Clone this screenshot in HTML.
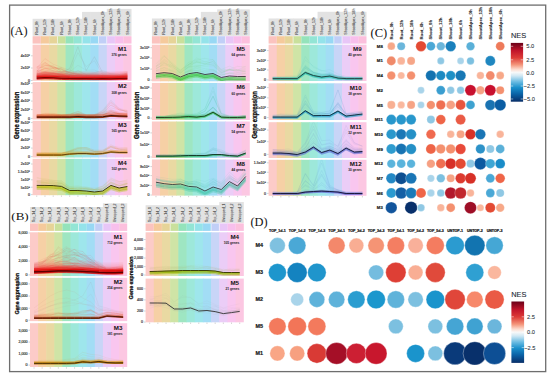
<!DOCTYPE html>
<html><head><meta charset="utf-8"><style>html,body{margin:0;padding:0;background:#fff;}svg{display:block;}</style></head>
<body><svg width="550" height="379" viewBox="0 0 550 379" font-family="Liberation Sans, sans-serif">
<rect x="0" y="0" width="550" height="379" fill="#ffffff"/>
<rect x="32.6" y="18.8" width="8.84" height="17" fill="#e2e2e2" />
<rect x="40.84" y="18.8" width="8.84" height="17" fill="#e2e2e2" />
<rect x="49.08" y="18.8" width="8.84" height="17" fill="#e2e2e2" />
<rect x="57.33" y="18.8" width="8.84" height="17" fill="#e2e2e2" />
<rect x="65.57" y="18.8" width="8.84" height="17" fill="#e2e2e2" />
<rect x="73.81" y="18.8" width="8.84" height="17" fill="#e2e2e2" />
<rect x="82.05" y="11.9" width="8.84" height="23.9" fill="#e2e2e2" />
<rect x="90.29" y="11.9" width="8.84" height="23.9" fill="#e2e2e2" />
<rect x="98.53" y="11.9" width="8.84" height="23.9" fill="#e2e2e2" />
<rect x="106.78" y="8.9" width="8.84" height="26.9" fill="#e2e2e2" />
<rect x="115.02" y="8.9" width="8.84" height="26.9" fill="#e2e2e2" />
<rect x="123.26" y="8.9" width="8.24" height="26.9" fill="#e2e2e2" />
<text transform="translate(37.92,34.8) rotate(-90)" font-size="3.7" fill="#555555" stroke="#555555" stroke-width="0.1" font-family="Liberation Sans, sans-serif">Root_0h</text>
<text transform="translate(46.16,34.8) rotate(-90)" font-size="3.7" fill="#555555" stroke="#555555" stroke-width="0.1" font-family="Liberation Sans, sans-serif">Root_12h</text>
<text transform="translate(54.4,34.8) rotate(-90)" font-size="3.7" fill="#555555" stroke="#555555" stroke-width="0.1" font-family="Liberation Sans, sans-serif">Root_18h</text>
<text transform="translate(62.65,34.8) rotate(-90)" font-size="3.7" fill="#555555" stroke="#555555" stroke-width="0.1" font-family="Liberation Sans, sans-serif">Root_6h</text>
<text transform="translate(70.89,34.8) rotate(-90)" font-size="3.7" fill="#555555" stroke="#555555" stroke-width="0.1" font-family="Liberation Sans, sans-serif">Shoot_0h</text>
<text transform="translate(79.13,34.8) rotate(-90)" font-size="3.7" fill="#555555" stroke="#555555" stroke-width="0.1" font-family="Liberation Sans, sans-serif">Shoot_12h</text>
<text transform="translate(87.37,34.8) rotate(-90)" font-size="3.7" fill="#555555" stroke="#555555" stroke-width="0.1" font-family="Liberation Sans, sans-serif">Shoot_18h</text>
<text transform="translate(95.61,34.8) rotate(-90)" font-size="3.7" fill="#555555" stroke="#555555" stroke-width="0.1" font-family="Liberation Sans, sans-serif">Shoot_6h</text>
<text transform="translate(103.85,34.8) rotate(-90)" font-size="3.7" fill="#555555" stroke="#555555" stroke-width="0.1" font-family="Liberation Sans, sans-serif">ShootApex_0h</text>
<text transform="translate(112.1,34.8) rotate(-90)" font-size="3.7" fill="#555555" stroke="#555555" stroke-width="0.1" font-family="Liberation Sans, sans-serif">ShootApex_12h</text>
<text transform="translate(120.34,34.8) rotate(-90)" font-size="3.7" fill="#555555" stroke="#555555" stroke-width="0.1" font-family="Liberation Sans, sans-serif">ShootApex_18h</text>
<text transform="translate(128.58,34.8) rotate(-90)" font-size="3.7" fill="#555555" stroke="#555555" stroke-width="0.1" font-family="Liberation Sans, sans-serif">ShootApex_6h</text>
<rect x="32.6" y="36.2" width="8.84" height="7.4" fill="#fbc3bf" />
<rect x="40.84" y="36.2" width="8.84" height="7.4" fill="#f5ca9c" />
<rect x="49.08" y="36.2" width="8.84" height="7.4" fill="#e6d498" />
<rect x="57.33" y="36.2" width="8.84" height="7.4" fill="#c9e09c" />
<rect x="65.57" y="36.2" width="8.84" height="7.4" fill="#94e3bb" />
<rect x="73.81" y="36.2" width="8.84" height="7.4" fill="#93e5d5" />
<rect x="82.05" y="36.2" width="8.84" height="7.4" fill="#94e3ea" />
<rect x="90.29" y="36.2" width="8.84" height="7.4" fill="#98d8f4" />
<rect x="98.53" y="36.2" width="8.84" height="7.4" fill="#c1cff7" />
<rect x="106.78" y="36.2" width="8.84" height="7.4" fill="#e8c6f7" />
<rect x="115.02" y="36.2" width="8.84" height="7.4" fill="#f8bfec" />
<rect x="123.26" y="36.2" width="8.24" height="7.4" fill="#fcc0dd" />
<rect x="40.64" y="36.2" width="0.4" height="7.4" fill="#ffffff" fill-opacity="0.4"/>
<rect x="48.88" y="36.2" width="0.4" height="7.4" fill="#ffffff" fill-opacity="0.4"/>
<rect x="56.98" y="36.2" width="0.7" height="7.4" fill="#ffffff" fill-opacity="0.85"/>
<rect x="65.37" y="36.2" width="0.4" height="7.4" fill="#ffffff" fill-opacity="0.4"/>
<rect x="73.61" y="36.2" width="0.4" height="7.4" fill="#ffffff" fill-opacity="0.4"/>
<rect x="81.7" y="36.2" width="0.7" height="7.4" fill="#ffffff" fill-opacity="0.85"/>
<rect x="90.09" y="36.2" width="0.4" height="7.4" fill="#ffffff" fill-opacity="0.4"/>
<rect x="98.18" y="36.2" width="0.7" height="7.4" fill="#ffffff" fill-opacity="0.85"/>
<rect x="106.43" y="36.2" width="0.7" height="7.4" fill="#ffffff" fill-opacity="0.85"/>
<rect x="114.82" y="36.2" width="0.4" height="7.4" fill="#ffffff" fill-opacity="0.4"/>
<rect x="123.06" y="36.2" width="0.4" height="7.4" fill="#ffffff" fill-opacity="0.4"/>
<rect x="151.9" y="18.5" width="8.76" height="17.3" fill="#e2e2e2" />
<rect x="160.06" y="18.5" width="8.76" height="17.3" fill="#e2e2e2" />
<rect x="168.22" y="18.5" width="8.76" height="17.3" fill="#e2e2e2" />
<rect x="176.38" y="18.5" width="8.76" height="17.3" fill="#e2e2e2" />
<rect x="184.53" y="18.5" width="8.76" height="17.3" fill="#e2e2e2" />
<rect x="192.69" y="18.5" width="8.76" height="17.3" fill="#e2e2e2" />
<rect x="200.85" y="11.9" width="8.76" height="23.9" fill="#e2e2e2" />
<rect x="209.01" y="11.9" width="8.76" height="23.9" fill="#e2e2e2" />
<rect x="217.17" y="9.4" width="8.76" height="26.4" fill="#e2e2e2" />
<rect x="225.32" y="9.4" width="8.76" height="26.4" fill="#e2e2e2" />
<rect x="233.48" y="9.4" width="8.76" height="26.4" fill="#e2e2e2" />
<rect x="241.64" y="9.4" width="8.16" height="26.4" fill="#e2e2e2" />
<text transform="translate(157.18,34.8) rotate(-90)" font-size="3.7" fill="#555555" stroke="#555555" stroke-width="0.1" font-family="Liberation Sans, sans-serif">Root_0h</text>
<text transform="translate(165.34,34.8) rotate(-90)" font-size="3.7" fill="#555555" stroke="#555555" stroke-width="0.1" font-family="Liberation Sans, sans-serif">Root_12h</text>
<text transform="translate(173.5,34.8) rotate(-90)" font-size="3.7" fill="#555555" stroke="#555555" stroke-width="0.1" font-family="Liberation Sans, sans-serif">Root_18h</text>
<text transform="translate(181.65,34.8) rotate(-90)" font-size="3.7" fill="#555555" stroke="#555555" stroke-width="0.1" font-family="Liberation Sans, sans-serif">Root_6h</text>
<text transform="translate(189.81,34.8) rotate(-90)" font-size="3.7" fill="#555555" stroke="#555555" stroke-width="0.1" font-family="Liberation Sans, sans-serif">Shoot_0h</text>
<text transform="translate(197.97,34.8) rotate(-90)" font-size="3.7" fill="#555555" stroke="#555555" stroke-width="0.1" font-family="Liberation Sans, sans-serif">Shoot_12h</text>
<text transform="translate(206.13,34.8) rotate(-90)" font-size="3.7" fill="#555555" stroke="#555555" stroke-width="0.1" font-family="Liberation Sans, sans-serif">Shoot_18h</text>
<text transform="translate(214.29,34.8) rotate(-90)" font-size="3.7" fill="#555555" stroke="#555555" stroke-width="0.1" font-family="Liberation Sans, sans-serif">Shoot_6h</text>
<text transform="translate(222.45,34.8) rotate(-90)" font-size="3.7" fill="#555555" stroke="#555555" stroke-width="0.1" font-family="Liberation Sans, sans-serif">ShootApex_0h</text>
<text transform="translate(230.6,34.8) rotate(-90)" font-size="3.7" fill="#555555" stroke="#555555" stroke-width="0.1" font-family="Liberation Sans, sans-serif">ShootApex_12h</text>
<text transform="translate(238.76,34.8) rotate(-90)" font-size="3.7" fill="#555555" stroke="#555555" stroke-width="0.1" font-family="Liberation Sans, sans-serif">ShootApex_18h</text>
<text transform="translate(246.92,34.8) rotate(-90)" font-size="3.7" fill="#555555" stroke="#555555" stroke-width="0.1" font-family="Liberation Sans, sans-serif">ShootApex_6h</text>
<rect x="151.9" y="36.2" width="8.76" height="7.4" fill="#fbc3bf" />
<rect x="160.06" y="36.2" width="8.76" height="7.4" fill="#f5ca9c" />
<rect x="168.22" y="36.2" width="8.76" height="7.4" fill="#e6d498" />
<rect x="176.38" y="36.2" width="8.76" height="7.4" fill="#c9e09c" />
<rect x="184.53" y="36.2" width="8.76" height="7.4" fill="#94e3bb" />
<rect x="192.69" y="36.2" width="8.76" height="7.4" fill="#93e5d5" />
<rect x="200.85" y="36.2" width="8.76" height="7.4" fill="#94e3ea" />
<rect x="209.01" y="36.2" width="8.76" height="7.4" fill="#98d8f4" />
<rect x="217.17" y="36.2" width="8.76" height="7.4" fill="#c1cff7" />
<rect x="225.32" y="36.2" width="8.76" height="7.4" fill="#e8c6f7" />
<rect x="233.48" y="36.2" width="8.76" height="7.4" fill="#f8bfec" />
<rect x="241.64" y="36.2" width="8.16" height="7.4" fill="#fcc0dd" />
<rect x="159.86" y="36.2" width="0.4" height="7.4" fill="#ffffff" fill-opacity="0.4"/>
<rect x="168.02" y="36.2" width="0.4" height="7.4" fill="#ffffff" fill-opacity="0.4"/>
<rect x="176.03" y="36.2" width="0.7" height="7.4" fill="#ffffff" fill-opacity="0.85"/>
<rect x="184.33" y="36.2" width="0.4" height="7.4" fill="#ffffff" fill-opacity="0.4"/>
<rect x="192.49" y="36.2" width="0.4" height="7.4" fill="#ffffff" fill-opacity="0.4"/>
<rect x="200.5" y="36.2" width="0.7" height="7.4" fill="#ffffff" fill-opacity="0.85"/>
<rect x="208.81" y="36.2" width="0.4" height="7.4" fill="#ffffff" fill-opacity="0.4"/>
<rect x="216.82" y="36.2" width="0.7" height="7.4" fill="#ffffff" fill-opacity="0.85"/>
<rect x="224.97" y="36.2" width="0.7" height="7.4" fill="#ffffff" fill-opacity="0.85"/>
<rect x="233.28" y="36.2" width="0.4" height="7.4" fill="#ffffff" fill-opacity="0.4"/>
<rect x="241.44" y="36.2" width="0.4" height="7.4" fill="#ffffff" fill-opacity="0.4"/>
<rect x="268.6" y="18.5" width="8.76" height="17.3" fill="#e2e2e2" />
<rect x="276.76" y="18.5" width="8.76" height="17.3" fill="#e2e2e2" />
<rect x="284.92" y="18.5" width="8.76" height="17.3" fill="#e2e2e2" />
<rect x="293.08" y="18.5" width="8.76" height="17.3" fill="#e2e2e2" />
<rect x="301.23" y="18.5" width="8.76" height="17.3" fill="#e2e2e2" />
<rect x="309.39" y="18.5" width="8.76" height="17.3" fill="#e2e2e2" />
<rect x="317.55" y="11.8" width="8.76" height="24" fill="#e2e2e2" />
<rect x="325.71" y="11.8" width="8.76" height="24" fill="#e2e2e2" />
<rect x="333.87" y="11.8" width="8.76" height="24" fill="#e2e2e2" />
<rect x="342.02" y="11.8" width="8.76" height="24" fill="#e2e2e2" />
<rect x="350.18" y="11.8" width="8.76" height="24" fill="#e2e2e2" />
<rect x="358.34" y="11.8" width="8.16" height="24" fill="#e2e2e2" />
<text transform="translate(273.88,34.8) rotate(-90)" font-size="3.7" fill="#555555" stroke="#555555" stroke-width="0.1" font-family="Liberation Sans, sans-serif">Root_0h</text>
<text transform="translate(282.04,34.8) rotate(-90)" font-size="3.7" fill="#555555" stroke="#555555" stroke-width="0.1" font-family="Liberation Sans, sans-serif">Root_12h</text>
<text transform="translate(290.2,34.8) rotate(-90)" font-size="3.7" fill="#555555" stroke="#555555" stroke-width="0.1" font-family="Liberation Sans, sans-serif">Root_18h</text>
<text transform="translate(298.35,34.8) rotate(-90)" font-size="3.7" fill="#555555" stroke="#555555" stroke-width="0.1" font-family="Liberation Sans, sans-serif">Root_6h</text>
<text transform="translate(306.51,34.8) rotate(-90)" font-size="3.7" fill="#555555" stroke="#555555" stroke-width="0.1" font-family="Liberation Sans, sans-serif">Shoot_0h</text>
<text transform="translate(314.67,34.8) rotate(-90)" font-size="3.7" fill="#555555" stroke="#555555" stroke-width="0.1" font-family="Liberation Sans, sans-serif">Shoot_12h</text>
<text transform="translate(322.83,34.8) rotate(-90)" font-size="3.7" fill="#555555" stroke="#555555" stroke-width="0.1" font-family="Liberation Sans, sans-serif">Shoot_18h</text>
<text transform="translate(330.99,34.8) rotate(-90)" font-size="3.7" fill="#555555" stroke="#555555" stroke-width="0.1" font-family="Liberation Sans, sans-serif">Shoot_6h</text>
<text transform="translate(339.15,34.8) rotate(-90)" font-size="3.7" fill="#555555" stroke="#555555" stroke-width="0.1" font-family="Liberation Sans, sans-serif">ShootApex_0h</text>
<text transform="translate(347.3,34.8) rotate(-90)" font-size="3.7" fill="#555555" stroke="#555555" stroke-width="0.1" font-family="Liberation Sans, sans-serif">ShootApex_12h</text>
<text transform="translate(355.46,34.8) rotate(-90)" font-size="3.7" fill="#555555" stroke="#555555" stroke-width="0.1" font-family="Liberation Sans, sans-serif">ShootApex_18h</text>
<text transform="translate(363.62,34.8) rotate(-90)" font-size="3.7" fill="#555555" stroke="#555555" stroke-width="0.1" font-family="Liberation Sans, sans-serif">ShootApex_6h</text>
<rect x="268.6" y="36.2" width="8.76" height="7.4" fill="#fbc3bf" />
<rect x="276.76" y="36.2" width="8.76" height="7.4" fill="#f5ca9c" />
<rect x="284.92" y="36.2" width="8.76" height="7.4" fill="#e6d498" />
<rect x="293.08" y="36.2" width="8.76" height="7.4" fill="#c9e09c" />
<rect x="301.23" y="36.2" width="8.76" height="7.4" fill="#94e3bb" />
<rect x="309.39" y="36.2" width="8.76" height="7.4" fill="#93e5d5" />
<rect x="317.55" y="36.2" width="8.76" height="7.4" fill="#94e3ea" />
<rect x="325.71" y="36.2" width="8.76" height="7.4" fill="#98d8f4" />
<rect x="333.87" y="36.2" width="8.76" height="7.4" fill="#c1cff7" />
<rect x="342.02" y="36.2" width="8.76" height="7.4" fill="#e8c6f7" />
<rect x="350.18" y="36.2" width="8.76" height="7.4" fill="#f8bfec" />
<rect x="358.34" y="36.2" width="8.16" height="7.4" fill="#fcc0dd" />
<rect x="276.56" y="36.2" width="0.4" height="7.4" fill="#ffffff" fill-opacity="0.4"/>
<rect x="284.72" y="36.2" width="0.4" height="7.4" fill="#ffffff" fill-opacity="0.4"/>
<rect x="292.73" y="36.2" width="0.7" height="7.4" fill="#ffffff" fill-opacity="0.85"/>
<rect x="301.03" y="36.2" width="0.4" height="7.4" fill="#ffffff" fill-opacity="0.4"/>
<rect x="309.19" y="36.2" width="0.4" height="7.4" fill="#ffffff" fill-opacity="0.4"/>
<rect x="317.2" y="36.2" width="0.7" height="7.4" fill="#ffffff" fill-opacity="0.85"/>
<rect x="325.51" y="36.2" width="0.4" height="7.4" fill="#ffffff" fill-opacity="0.4"/>
<rect x="333.52" y="36.2" width="0.7" height="7.4" fill="#ffffff" fill-opacity="0.85"/>
<rect x="341.67" y="36.2" width="0.7" height="7.4" fill="#ffffff" fill-opacity="0.85"/>
<rect x="349.98" y="36.2" width="0.4" height="7.4" fill="#ffffff" fill-opacity="0.4"/>
<rect x="358.14" y="36.2" width="0.4" height="7.4" fill="#ffffff" fill-opacity="0.4"/>
<rect x="32.6" y="44.7" width="8.84" height="36.1" fill="#fccbc8" />
<rect x="40.84" y="44.7" width="8.84" height="36.1" fill="#f6d0a5" />
<rect x="49.08" y="44.7" width="8.84" height="36.1" fill="#e9d9a2" />
<rect x="57.33" y="44.7" width="8.84" height="36.1" fill="#cfe4a6" />
<rect x="65.57" y="44.7" width="8.84" height="36.1" fill="#9ee6c2" />
<rect x="73.81" y="44.7" width="8.84" height="36.1" fill="#9de8da" />
<rect x="82.05" y="44.7" width="8.84" height="36.1" fill="#9ee6ec" />
<rect x="90.29" y="44.7" width="8.84" height="36.1" fill="#a2ddf5" />
<rect x="98.53" y="44.7" width="8.84" height="36.1" fill="#c8d5f7" />
<rect x="106.78" y="44.7" width="8.84" height="36.1" fill="#ebcdf7" />
<rect x="115.02" y="44.7" width="8.84" height="36.1" fill="#f9c6ef" />
<rect x="123.26" y="44.7" width="8.24" height="36.1" fill="#fcc7e2" />
<g clip-path="url(#cp154)">
<clipPath id="cp154"><rect x="32.6" y="44.7" width="98.9" height="35.8"/></clipPath>
<polyline points="36.72,74.5 44.96,72.3 53.2,75.04 61.45,74.76 69.69,75.17 77.93,75.79 86.17,76.37 94.41,76.63 102.65,76.64 110.9,76.5 119.14,76.38 127.38,76.39" fill="none" stroke="#e03020" stroke-width="0.2975" stroke-opacity="0.27" stroke-linejoin="round" />
<polyline points="36.72,75.17 44.96,73.32 53.2,73.69 61.45,75.19 69.69,75.74 77.93,77.59 86.17,77.7 94.41,77.13 102.65,77.51 110.9,77.47 119.14,76.91 127.38,75.68" fill="none" stroke="#e03020" stroke-width="0.2975" stroke-opacity="0.27" stroke-linejoin="round" />
<polyline points="36.72,66.94 44.96,62.57 53.2,67.77 61.45,67.59 69.69,72.51 77.93,74.09 86.17,75.17 94.41,74.82 102.65,75.69 110.9,75.35 119.14,76.08 127.38,72.71" fill="none" stroke="#e03020" stroke-width="0.2975" stroke-opacity="0.27" stroke-linejoin="round" />
<polyline points="36.72,76.19 44.96,74.36 53.2,73.35 61.45,74.68 69.69,77.5 77.93,77.8 86.17,77.29 94.41,77.77 102.65,76.5 110.9,76.36 119.14,77.19 127.38,76.47" fill="none" stroke="#e03020" stroke-width="0.2975" stroke-opacity="0.27" stroke-linejoin="round" />
<polyline points="36.72,69.36 44.96,64.85 53.2,67.66 61.45,70.33 69.69,72.83 77.93,74.39 86.17,75.81 94.41,75.99 102.65,75.17 110.9,75.83 119.14,75.12 127.38,73.93" fill="none" stroke="#e03020" stroke-width="0.2975" stroke-opacity="0.27" stroke-linejoin="round" />
<polyline points="36.72,71.31 44.96,62.39 53.2,67.21 61.45,69.25 69.69,73.31 77.93,73.97 86.17,75.08 94.41,75.18 102.65,74.6 110.9,76.03 119.14,75.21 127.38,74.22" fill="none" stroke="#e03020" stroke-width="0.2975" stroke-opacity="0.27" stroke-linejoin="round" />
<polyline points="36.72,70.93 44.96,65.47 53.2,66.15 61.45,71.32 69.69,71.85 77.93,74.82 86.17,75.22 94.41,74.67 102.65,75.58 110.9,75.05 119.14,74.45 127.38,74.78" fill="none" stroke="#e03020" stroke-width="0.2975" stroke-opacity="0.27" stroke-linejoin="round" />
<polyline points="36.72,73.86 44.96,72.61 53.2,73.1 61.45,74.37 69.69,75.25 77.93,75.03 86.17,75.61 94.41,76.9 102.65,75.92 110.9,76.69 119.14,77.01 127.38,76.9" fill="none" stroke="#e03020" stroke-width="0.2975" stroke-opacity="0.27" stroke-linejoin="round" />
<polyline points="36.72,70.61 44.96,68.63 53.2,66.9 61.45,69.27 69.69,74.66 77.93,75.17 86.17,75.2 94.41,75.55 102.65,75.14 110.9,76.5 119.14,75.38 127.38,74.36" fill="none" stroke="#e03020" stroke-width="0.2975" stroke-opacity="0.27" stroke-linejoin="round" />
<polyline points="36.72,73.92 44.96,73.13 53.2,72.46 61.45,75.6 69.69,75.32 77.93,77.25 86.17,76.78 94.41,76.93 102.65,77.82 110.9,77.91 119.14,77.8 127.38,75.22" fill="none" stroke="#e03020" stroke-width="0.2975" stroke-opacity="0.27" stroke-linejoin="round" />
<polyline points="36.72,75.59 44.96,74.58 53.2,74.18 61.45,76.28 69.69,77.32 77.93,76.38 86.17,77.84 94.41,77.42 102.65,76.5 110.9,76.62 119.14,77.1 127.38,76.49" fill="none" stroke="#e03020" stroke-width="0.2975" stroke-opacity="0.27" stroke-linejoin="round" />
<polyline points="36.72,68.89 44.96,65.85 53.2,65.9 61.45,71.44 69.69,72.31 77.93,73.68 86.17,73.59 94.41,75.23 102.65,75.1 110.9,74.45 119.14,74.54 127.38,73.24" fill="none" stroke="#e03020" stroke-width="0.2975" stroke-opacity="0.27" stroke-linejoin="round" />
<polyline points="36.72,76.06 44.96,73.86 53.2,75.76 61.45,75.05 69.69,77.56 77.93,77.43 86.17,76.48 94.41,76.02 102.65,76.45 110.9,76.75 119.14,76.54 127.38,76.06" fill="none" stroke="#e03020" stroke-width="0.2975" stroke-opacity="0.27" stroke-linejoin="round" />
<polyline points="36.72,68.09 44.96,58.59 53.2,64.19 61.45,67.36 69.69,70.15 77.93,73.08 86.17,73.86 94.41,74.35 102.65,73.63 110.9,74.61 119.14,73.31 127.38,71.69" fill="none" stroke="#e03020" stroke-width="0.2975" stroke-opacity="0.27" stroke-linejoin="round" />
<polyline points="36.72,70.73 44.96,71.34 53.2,68.59 61.45,72.52 69.69,74.89 77.93,76.26 86.17,76.07 94.41,75.73 102.65,76.22 110.9,76.26 119.14,75.62 127.38,75.82" fill="none" stroke="#e03020" stroke-width="0.2975" stroke-opacity="0.27" stroke-linejoin="round" />
<polyline points="36.72,75.67 44.96,74.98 53.2,74.39 61.45,75 69.69,76.41 77.93,76.26 86.17,76.83 94.41,76.7 102.65,77.27 110.9,76.28 119.14,77.6 127.38,76.17" fill="none" stroke="#e03020" stroke-width="0.2975" stroke-opacity="0.27" stroke-linejoin="round" />
<polyline points="36.72,66.95 44.96,67.68 53.2,68.76 61.45,68.69 69.69,72.78 77.93,74.12 86.17,74.52 94.41,76.34 102.65,75.48 110.9,75.51 119.14,76.12 127.38,74.32" fill="none" stroke="#e03020" stroke-width="0.2975" stroke-opacity="0.27" stroke-linejoin="round" />
<polyline points="36.72,72.41 44.96,67.84 53.2,70.8 61.45,72.62 69.69,74.34 77.93,75.76 86.17,75.62 94.41,75.1 102.65,75.92 110.9,75.51 119.14,75.69 127.38,74.15" fill="none" stroke="#e03020" stroke-width="0.2975" stroke-opacity="0.27" stroke-linejoin="round" />
<polyline points="36.72,72.34 44.96,68.53 53.2,68.62 61.45,72.39 69.69,74.64 77.93,74.35 86.17,75.06 94.41,76.34 102.65,75.58 110.9,75.72 119.14,76.26 127.38,75.98" fill="none" stroke="#e03020" stroke-width="0.2975" stroke-opacity="0.27" stroke-linejoin="round" />
<polyline points="36.72,67.67 44.96,63.76 53.2,67.66 61.45,69.09 69.69,73.29 77.93,73.9 86.17,75.09 94.41,74.16 102.65,74.72 110.9,76.25 119.14,76.38 127.38,72.74" fill="none" stroke="#e03020" stroke-width="0.2975" stroke-opacity="0.27" stroke-linejoin="round" />
<polyline points="36.72,75.2 44.96,72.26 53.2,73.27 61.45,75.62 69.69,76.32 77.93,77.17 86.17,76.31 94.41,76.45 102.65,75.91 110.9,76.97 119.14,76.54 127.38,75.6" fill="none" stroke="#e03020" stroke-width="0.2975" stroke-opacity="0.27" stroke-linejoin="round" />
<polyline points="36.72,73.26 44.96,71.34 53.2,73.13 61.45,74 69.69,75.72 77.93,76.37 86.17,76.71 94.41,76.58 102.65,75.74 110.9,77.34 119.14,76.21 127.38,76.41" fill="none" stroke="#e03020" stroke-width="0.2975" stroke-opacity="0.27" stroke-linejoin="round" />
<polyline points="36.72,74.8 44.96,72.35 53.2,72.37 61.45,74.45 69.69,75.05 77.93,75.86 86.17,76.11 94.41,75.83 102.65,76.35 110.9,77.73 119.14,77.75 127.38,76.9" fill="none" stroke="#e03020" stroke-width="0.2975" stroke-opacity="0.27" stroke-linejoin="round" />
<polyline points="36.72,71.13 44.96,69.05 53.2,70.73 61.45,71.88 69.69,74.15 77.93,75.36 86.17,75.77 94.41,76.28 102.65,77.04 110.9,76.7 119.14,76.63 127.38,75.92" fill="none" stroke="#e03020" stroke-width="0.2975" stroke-opacity="0.27" stroke-linejoin="round" />
<polyline points="36.72,74.4 44.96,72.37 53.2,72.28 61.45,74.29 69.69,74.79 77.93,76.38 86.17,77.11 94.41,76.41 102.65,76.68 110.9,76.45 119.14,77.14 127.38,75.33" fill="none" stroke="#e03020" stroke-width="0.2975" stroke-opacity="0.27" stroke-linejoin="round" />
<polyline points="36.72,73.65 44.96,71.81 53.2,73.88 61.45,73.73 69.69,76.73 77.93,75.26 86.17,77.47 94.41,77.69 102.65,77.81 110.9,76.72 119.14,77.07 127.38,75.66" fill="none" stroke="#e03020" stroke-width="0.2975" stroke-opacity="0.27" stroke-linejoin="round" />
<polyline points="36.72,75.41 44.96,75.71 53.2,73.97 61.45,75.17 69.69,71.98 77.93,65.31 86.17,70.22 94.41,69.89 102.65,73.95 110.9,74.97 119.14,76.17 127.38,75.64" fill="none" stroke="#909090" stroke-width="0.255" stroke-opacity="0.36" stroke-linejoin="round" />
<polyline points="36.72,77.19 44.96,75.79 53.2,75.81 61.45,76.24 69.69,75.27 77.93,70.7 86.17,74.56 94.41,73.42 102.65,75.78 110.9,76.53 119.14,76.47 127.38,76.83" fill="none" stroke="#909090" stroke-width="0.255" stroke-opacity="0.36" stroke-linejoin="round" />
<polyline points="36.72,76.81 44.96,76.73 53.2,77.32 61.45,77.3 69.69,77.58 77.93,75.38 86.17,77.43 94.41,76.36 102.65,77.55 110.9,77.54 119.14,77.54 127.38,77.71" fill="none" stroke="#909090" stroke-width="0.255" stroke-opacity="0.36" stroke-linejoin="round" />
<polyline points="36.72,75 44.96,73.6 53.2,72.8 61.45,72.2 69.69,68.5 77.93,46.6 86.17,70.6 94.41,56.7 102.65,72.6 110.9,73.7 119.14,74.5 127.38,74.2" fill="none" stroke="#8a8a8a" stroke-width="0.35" stroke-opacity="0.45" stroke-linejoin="round" />
<polyline points="36.72,76 44.96,74.6 53.2,73.8 61.45,73.2 69.69,71.5 77.93,52.6 86.17,66.6 94.41,60.7 102.65,74.6 110.9,74.7 119.14,75.5 127.38,75.2" fill="none" stroke="#8a8a8a" stroke-width="0.3" stroke-opacity="0.35" stroke-linejoin="round" />
<polyline points="36.72,74 44.96,71.6 53.2,70.8 61.45,73.2 69.69,74.5 77.93,70.6 86.17,74.6 94.41,72.7 102.65,70.6 110.9,73.7 119.14,74.5 127.38,72.2" fill="none" stroke="#a08080" stroke-width="0.3" stroke-opacity="0.35" stroke-linejoin="round" />
<polyline points="36.72,77.25 44.96,75.67 53.2,75.93 61.45,77.1 69.69,76.93 77.93,77.24 86.17,77.01 94.41,77.56 102.65,78.19 110.9,77.52 119.14,77.9 127.38,77.12" fill="none" stroke="#f04040" stroke-width="0.34" stroke-opacity="0.3" stroke-linejoin="round" />
<polyline points="36.72,75.57 44.96,74.51 53.2,73.62 61.45,74.91 69.69,76.28 77.93,75.43 86.17,76.85 94.41,77.41 102.65,76.2 110.9,76.05 119.14,76.1 127.38,75.22" fill="none" stroke="#f04040" stroke-width="0.34" stroke-opacity="0.3" stroke-linejoin="round" />
<polyline points="36.72,75.12 44.96,74.97 53.2,75.42 61.45,75.26 69.69,76.25 77.93,77.66 86.17,77.46 94.41,77.11 102.65,77 110.9,77.49 119.14,76.81 127.38,76.72" fill="none" stroke="#f04040" stroke-width="0.34" stroke-opacity="0.3" stroke-linejoin="round" />
<polyline points="36.72,76.9 44.96,76.84 53.2,76 61.45,76.08 69.69,77.47 77.93,77.8 86.17,77.55 94.41,77.89 102.65,77.86 110.9,77.11 119.14,77.75 127.38,76.64" fill="none" stroke="#f04040" stroke-width="0.34" stroke-opacity="0.3" stroke-linejoin="round" />
<polyline points="36.72,76.84 44.96,76.78 53.2,77.06 61.45,77 69.69,76.91 77.93,78.13 86.17,78.39 94.41,77.98 102.65,77.61 110.9,78.05 119.14,77.1 127.38,77.49" fill="none" stroke="#f04040" stroke-width="0.34" stroke-opacity="0.3" stroke-linejoin="round" />
<polyline points="36.72,76.61 44.96,75.6 53.2,76.76 61.45,76.68 69.69,77.34 77.93,77.37 86.17,78.14 94.41,77.56 102.65,76.96 110.9,77.47 119.14,77 127.38,77.21" fill="none" stroke="#f04040" stroke-width="0.34" stroke-opacity="0.3" stroke-linejoin="round" />
<polyline points="36.72,76.4 44.96,73.96 53.2,75.16 61.45,76.05 69.69,76.46 77.93,76.92 86.17,77.1 94.41,76.67 102.65,76.29 110.9,77.82 119.14,76.86 127.38,76.6" fill="none" stroke="#f04040" stroke-width="0.34" stroke-opacity="0.3" stroke-linejoin="round" />
<polyline points="36.72,75.06 44.96,73.9 53.2,73.53 61.45,74.39 69.69,75.63 77.93,76.55 86.17,76.78 94.41,76.24 102.65,76.71 110.9,77.18 119.14,77.17 127.38,75.93" fill="none" stroke="#f04040" stroke-width="0.34" stroke-opacity="0.3" stroke-linejoin="round" />
<polyline points="36.72,77.24 44.96,75.53 53.2,75.76 61.45,77.32 69.69,76.55 77.93,77.75 86.17,77.82 94.41,78.24 102.65,76.84 110.9,77.03 119.14,76.69 127.38,76.62" fill="none" stroke="#f04040" stroke-width="0.34" stroke-opacity="0.3" stroke-linejoin="round" />
<polyline points="36.72,76.4 44.96,76.7 53.2,75.64 61.45,76.3 69.69,77.48 77.93,77.66 86.17,77.82 94.41,78.24 102.65,77.83 110.9,78.23 119.14,76.84 127.38,76.18" fill="none" stroke="#f04040" stroke-width="0.34" stroke-opacity="0.3" stroke-linejoin="round" />
<polyline points="36.72,75.84 44.96,75.57 53.2,76.87 61.45,76.35 69.69,76.97 77.93,77.21 86.17,77.41 94.41,77.94 102.65,76.79 110.9,77.97 119.14,76.76 127.38,77.3" fill="none" stroke="#f04040" stroke-width="0.34" stroke-opacity="0.3" stroke-linejoin="round" />
<polyline points="36.72,75.99 44.96,75.46 53.2,77.07 61.45,76.19 69.69,76.82 77.93,76.92 86.17,77.51 94.41,78.14 102.65,77.75 110.9,77.79 119.14,77.64 127.38,76.18" fill="none" stroke="#f04040" stroke-width="0.34" stroke-opacity="0.3" stroke-linejoin="round" />
<polyline points="36.72,72.78 44.96,72.36 53.2,73.87 61.45,73.73 69.69,75.2 77.93,74.89 86.17,76.23 94.41,75.67 102.65,75.72 110.9,76.13 119.14,76.53 127.38,74.08" fill="none" stroke="#f04040" stroke-width="0.34" stroke-opacity="0.3" stroke-linejoin="round" />
<polyline points="36.72,76.86 44.96,76.31 53.2,76.46 61.45,76.98 69.69,77.01 77.93,77.81 86.17,77.76 94.41,77.5 102.65,77.44 110.9,78.17 119.14,77.35 127.38,77.78" fill="none" stroke="#f04040" stroke-width="0.34" stroke-opacity="0.3" stroke-linejoin="round" />
<polyline points="36.72,77.09 44.96,74.98 53.2,75.46 61.45,75.82 69.69,76.96 77.93,77.63 86.17,77.46 94.41,76.88 102.65,77.88 110.9,77.24 119.14,78.07 127.38,77.51" fill="none" stroke="#f04040" stroke-width="0.34" stroke-opacity="0.3" stroke-linejoin="round" />
<polyline points="36.72,75.16 44.96,73.44 53.2,73.39 61.45,74.45 69.69,75.3 77.93,76.12 86.17,76.07 94.41,76.82 102.65,76.79 110.9,75.98 119.14,76.34 127.38,75.26" fill="none" stroke="#f04040" stroke-width="0.34" stroke-opacity="0.3" stroke-linejoin="round" />
<polyline points="36.72,74.75 44.96,73.52 53.2,73.4 61.45,74.19 69.69,76.29 77.93,75.01 86.17,76.58 94.41,75.78 102.65,76.72 110.9,75.94 119.14,76.42 127.38,75.19" fill="none" stroke="#f04040" stroke-width="0.34" stroke-opacity="0.3" stroke-linejoin="round" />
<polyline points="36.72,73.62 44.96,73.69 53.2,74.61 61.45,75.56 69.69,75.89 77.93,74.95 86.17,76.18 94.41,77.16 102.65,77.45 110.9,76.83 119.14,75.74 127.38,76.08" fill="none" stroke="#f04040" stroke-width="0.34" stroke-opacity="0.3" stroke-linejoin="round" />
<polyline points="36.72,76.64 44.96,75.27 53.2,76.29 61.45,76.53 69.69,77.23 77.93,77.32 86.17,77.06 94.41,77.08 102.65,77.24 110.9,77.15 119.14,77.85 127.38,75.92" fill="none" stroke="#f04040" stroke-width="0.34" stroke-opacity="0.3" stroke-linejoin="round" />
<polyline points="36.72,76.06 44.96,74.36 53.2,74.97 61.45,75.85 69.69,76.39 77.93,76.59 86.17,76.82 94.41,77.77 102.65,76.57 110.9,77.16 119.14,76.96 127.38,76.22" fill="none" stroke="#f04040" stroke-width="0.34" stroke-opacity="0.3" stroke-linejoin="round" />
<polyline points="36.72,72 44.96,71.6 53.2,71.8 61.45,72.2 69.69,72.5 77.93,72.6 86.17,72.6 94.41,72.7 102.65,72.6 110.9,72.7 119.14,72.5 127.38,72.2" fill="none" stroke="#f07070" stroke-width="2" stroke-opacity="0.25" stroke-linejoin="round" />
<polyline points="36.72,73.8 44.96,73.4 53.2,73.6 61.45,74 69.69,74.3 77.93,74.4 86.17,74.4 94.41,74.5 102.65,74.4 110.9,74.5 119.14,74.3 127.38,74" fill="none" stroke="#f05050" stroke-width="1.8" stroke-opacity="0.4" stroke-linejoin="round" />
<polyline points="36.72,75.4 44.96,75 53.2,75.2 61.45,75.6 69.69,75.9 77.93,76 86.17,76 94.41,76.1 102.65,76 110.9,76.1 119.14,75.9 127.38,75.6" fill="none" stroke="#e83030" stroke-width="1.5" stroke-opacity="0.7" stroke-linejoin="round" />
<polyline points="36.72,76.8 44.96,76.4 53.2,76.6 61.45,77 69.69,77.3 77.93,77.4 86.17,77.4 94.41,77.5 102.65,77.4 110.9,77.5 119.14,77.3 127.38,77" fill="none" stroke="#e01010" stroke-width="1.5" stroke-opacity="0.9" stroke-linejoin="round" />
<polyline points="36.72,78.2 44.96,77.8 53.2,78 61.45,78.4 69.69,78.7 77.93,78.8 86.17,78.8 94.41,78.9 102.65,78.8 110.9,78.9 119.14,78.7 127.38,78.4" fill="none" stroke="#c00000" stroke-width="1.5" stroke-opacity="0.95" stroke-linejoin="round" />
<polyline points="36.72,79.2 44.96,78.8 53.2,79 61.45,79.4 69.69,79.7 77.93,79.8 86.17,79.8 94.41,79.9 102.65,79.8 110.9,79.9 119.14,79.7 127.38,79.4" fill="none" stroke="#d01010" stroke-width="1.0" stroke-opacity="0.85" stroke-linejoin="round" />
<polyline points="36.72,78 44.96,77.6 53.2,77.8 61.45,78.2 69.69,78.5 77.93,78.6 86.17,78.6 94.41,78.7 102.65,78.6 110.9,78.7 119.14,78.5 127.38,78.2" fill="none" stroke="#7a0000" stroke-width="1.1" stroke-opacity="1.0" stroke-linejoin="round" />
</g>
<text x="126.7" y="51" font-size="6.2" font-weight="bold" text-anchor="end" fill="#111" font-family="Liberation Sans, sans-serif">M1</text>
<text x="126.9" y="56.3" font-size="3.2" font-weight="bold" text-anchor="end" fill="#222" font-family="Liberation Sans, sans-serif">376 genes</text>
<text x="30.1" y="57.1" font-size="3.6" text-anchor="end" fill="#444" stroke="#444" stroke-width="0.2" font-family="Liberation Sans, sans-serif">4x10⁵</text>
<line x1="31.1" y1="55.8" x2="32.6" y2="55.8" stroke="#888" stroke-width="0.4"/>
<text x="30.1" y="69.3" font-size="3.6" text-anchor="end" fill="#444" stroke="#444" stroke-width="0.2" font-family="Liberation Sans, sans-serif">2x10⁵</text>
<line x1="31.1" y1="68" x2="32.6" y2="68" stroke="#888" stroke-width="0.4"/>
<text x="30.1" y="81.8" font-size="3.6" text-anchor="end" fill="#444" stroke="#444" stroke-width="0.2" font-family="Liberation Sans, sans-serif">0</text>
<line x1="31.1" y1="80.5" x2="32.6" y2="80.5" stroke="#888" stroke-width="0.4"/>
<rect x="32.6" y="82.1" width="8.84" height="37.4" fill="#fccbc8" />
<rect x="40.84" y="82.1" width="8.84" height="37.4" fill="#f6d0a5" />
<rect x="49.08" y="82.1" width="8.84" height="37.4" fill="#e9d9a2" />
<rect x="57.33" y="82.1" width="8.84" height="37.4" fill="#cfe4a6" />
<rect x="65.57" y="82.1" width="8.84" height="37.4" fill="#9ee6c2" />
<rect x="73.81" y="82.1" width="8.84" height="37.4" fill="#9de8da" />
<rect x="82.05" y="82.1" width="8.84" height="37.4" fill="#9ee6ec" />
<rect x="90.29" y="82.1" width="8.84" height="37.4" fill="#a2ddf5" />
<rect x="98.53" y="82.1" width="8.84" height="37.4" fill="#c8d5f7" />
<rect x="106.78" y="82.1" width="8.84" height="37.4" fill="#ebcdf7" />
<rect x="115.02" y="82.1" width="8.84" height="37.4" fill="#f9c6ef" />
<rect x="123.26" y="82.1" width="8.24" height="37.4" fill="#fcc7e2" />
<g clip-path="url(#cp236)">
<clipPath id="cp236"><rect x="32.6" y="82.1" width="98.9" height="37.1"/></clipPath>
<polyline points="36.72,115.65 44.96,113.78 53.2,113.74 61.45,114.51 69.69,113.99 77.93,112.2 86.17,114.9 94.41,114.9 102.65,112.45 110.9,105.23 119.14,109.59 127.38,112.03" fill="none" stroke="#e04010" stroke-width="0.2975" stroke-opacity="0.24" stroke-linejoin="round" />
<polyline points="36.72,116.2 44.96,116.02 53.2,115.44 61.45,116.53 69.69,116.22 77.93,115.13 86.17,115.8 94.41,115.11 102.65,114.98 110.9,112.32 119.14,112.82 127.38,113.7" fill="none" stroke="#e04010" stroke-width="0.2975" stroke-opacity="0.24" stroke-linejoin="round" />
<polyline points="36.72,115.91 44.96,115.4 53.2,115.12 61.45,116.05 69.69,114.92 77.93,113.24 86.17,115.37 94.41,115.85 102.65,113.58 110.9,109.51 119.14,112.59 127.38,113.62" fill="none" stroke="#e04010" stroke-width="0.2975" stroke-opacity="0.24" stroke-linejoin="round" />
<polyline points="36.72,115.23 44.96,115.13 53.2,114.99 61.45,115.69 69.69,115.84 77.93,115.26 86.17,116.09 94.41,115.62 102.65,113.83 110.9,110.4 119.14,113.43 127.38,113.05" fill="none" stroke="#e04010" stroke-width="0.2975" stroke-opacity="0.24" stroke-linejoin="round" />
<polyline points="36.72,115.24 44.96,115.69 53.2,116.19 61.45,115.64 69.69,116.39 77.93,114.95 86.17,116.38 94.41,116.61 102.65,115.22 110.9,111.55 119.14,114.14 127.38,115.15" fill="none" stroke="#e04010" stroke-width="0.2975" stroke-opacity="0.24" stroke-linejoin="round" />
<polyline points="36.72,116.27 44.96,115.72 53.2,114.94 61.45,115.45 69.69,115.38 77.93,114.54 86.17,116.26 94.41,115.37 102.65,115.45 110.9,112.32 119.14,113.55 127.38,114.07" fill="none" stroke="#e04010" stroke-width="0.2975" stroke-opacity="0.24" stroke-linejoin="round" />
<polyline points="36.72,116.62 44.96,116.09 53.2,115.91 61.45,115.59 69.69,115.41 77.93,114.83 86.17,116.5 94.41,115.74 102.65,114.51 110.9,111.18 119.14,114.08 127.38,114.38" fill="none" stroke="#e04010" stroke-width="0.2975" stroke-opacity="0.24" stroke-linejoin="round" />
<polyline points="36.72,116.14 44.96,115.46 53.2,114.89 61.45,116.46 69.69,116.45 77.93,113.79 86.17,116.27 94.41,115.95 102.65,115 110.9,111.68 119.14,113.54 127.38,114.22" fill="none" stroke="#e04010" stroke-width="0.2975" stroke-opacity="0.24" stroke-linejoin="round" />
<polyline points="36.72,115.38 44.96,113.25 53.2,113.26 61.45,115.01 69.69,114.33 77.93,111.21 86.17,114.6 94.41,114.25 102.65,111.11 110.9,102.42 119.14,108.58 127.38,110.42" fill="none" stroke="#e04010" stroke-width="0.2975" stroke-opacity="0.24" stroke-linejoin="round" />
<polyline points="36.72,116.21 44.96,115.45 53.2,114.88 61.45,116.29 69.69,116.54 77.93,114.83 86.17,116.21 94.41,116.51 102.65,115.19 110.9,111.58 119.14,113.8 127.38,115.06" fill="none" stroke="#e04010" stroke-width="0.2975" stroke-opacity="0.24" stroke-linejoin="round" />
<polyline points="36.72,115.09 44.96,114.57 53.2,115.09 61.45,115.06 69.69,114.61 77.93,113 86.17,115.23 94.41,115.14 102.65,113.62 110.9,104.79 119.14,109.88 127.38,110.77" fill="none" stroke="#e04010" stroke-width="0.2975" stroke-opacity="0.24" stroke-linejoin="round" />
<polyline points="36.72,115.35 44.96,113.66 53.2,114.68 61.45,115.14 69.69,114.27 77.93,113.55 86.17,114.75 94.41,115.4 102.65,112.57 110.9,107.85 119.14,109.82 127.38,111.52" fill="none" stroke="#e04010" stroke-width="0.2975" stroke-opacity="0.24" stroke-linejoin="round" />
<polyline points="36.72,115.32 44.96,116.09 53.2,115.86 61.45,115.98 69.69,116.28 77.93,114.65 86.17,115.82 94.41,115.35 102.65,114.35 110.9,111.71 119.14,114.16 127.38,113.76" fill="none" stroke="#e04010" stroke-width="0.2975" stroke-opacity="0.24" stroke-linejoin="round" />
<polyline points="36.72,114.23 44.96,114.39 53.2,113.75 61.45,115.14 69.69,114.74 77.93,111.28 86.17,115.1 94.41,114.48 102.65,112.1 110.9,102.6 119.14,109.87 127.38,111.28" fill="none" stroke="#e04010" stroke-width="0.2975" stroke-opacity="0.24" stroke-linejoin="round" />
<polyline points="36.72,116.07 44.96,115.9 53.2,115.6 61.45,116.09 69.69,115.32 77.93,114.2 86.17,116.31 94.41,115.29 102.65,114.95 110.9,110.42 119.14,113.52 127.38,114.83" fill="none" stroke="#e04010" stroke-width="0.2975" stroke-opacity="0.24" stroke-linejoin="round" />
<polyline points="36.72,115.43 44.96,115.06 53.2,115.33 61.45,115.79 69.69,115.75 77.93,113.81 86.17,115.52 94.41,114.76 102.65,112.85 110.9,110.11 119.14,112.16 127.38,112.73" fill="none" stroke="#e04010" stroke-width="0.2975" stroke-opacity="0.24" stroke-linejoin="round" />
<polyline points="36.72,115.48 44.96,115.65 53.2,115.57 61.45,116.37 69.69,115.94 77.93,115.11 86.17,115.7 94.41,115.97 102.65,110.03 110.9,100 119.14,108.08 127.38,112.58" fill="none" stroke="#a0a0a0" stroke-width="0.255" stroke-opacity="0.3" stroke-linejoin="round" />
<polyline points="36.72,115.86 44.96,116.27 53.2,116.01 61.45,116.31 69.69,116.68 77.93,115.42 86.17,116.52 94.41,116.69 102.65,114.75 110.9,111.88 119.14,113.83 127.38,114.76" fill="none" stroke="#a0a0a0" stroke-width="0.255" stroke-opacity="0.3" stroke-linejoin="round" />
<polyline points="36.72,116.34 44.96,115.48 53.2,115.91 61.45,115.77 69.69,116.34 77.93,114.79 86.17,115.44 94.41,115.84 102.65,110.56 110.9,101.27 119.14,108.89 127.38,112.31" fill="none" stroke="#a0a0a0" stroke-width="0.255" stroke-opacity="0.3" stroke-linejoin="round" />
<polyline points="36.72,115.55 44.96,115.99 53.2,115.64 61.45,116.17 69.69,115.89 77.93,115.22 86.17,116.24 94.41,115.73 102.65,111.03 110.9,100.47 119.14,108.8 127.38,112.59" fill="none" stroke="#a0a0a0" stroke-width="0.255" stroke-opacity="0.3" stroke-linejoin="round" />
<polyline points="36.72,115 44.96,115 53.2,115 61.45,115 69.69,115 77.93,114.6 86.17,115 94.41,115 102.65,114.8 110.9,113.6 119.14,114 127.38,114.3" fill="none" stroke="#e05020" stroke-width="1.5" stroke-opacity="0.4" stroke-linejoin="round" />
<polyline points="36.72,116.3 44.96,116.3 53.2,116.3 61.45,116.3 69.69,116.3 77.93,115.9 86.17,116.3 94.41,116.3 102.65,116.1 110.9,114.9 119.14,115.3 127.38,115.6" fill="none" stroke="#d04010" stroke-width="1.3" stroke-opacity="0.8" stroke-linejoin="round" />
<polyline points="36.72,117.6 44.96,117.6 53.2,117.6 61.45,117.6 69.69,117.6 77.93,117.2 86.17,117.6 94.41,117.6 102.65,117.4 110.9,116.2 119.14,116.6 127.38,116.9" fill="none" stroke="#a02800" stroke-width="1.3" stroke-opacity="0.9" stroke-linejoin="round" />
<polyline points="36.72,117 44.96,117 53.2,117 61.45,117 69.69,117 77.93,116.6 86.17,117 94.41,117 102.65,116.8 110.9,115.6 119.14,116 127.38,116.3" fill="none" stroke="#3a0c00" stroke-width="1.0" stroke-opacity="1.0" stroke-linejoin="round" />
</g>
<text x="126.7" y="88.4" font-size="6.2" font-weight="bold" text-anchor="end" fill="#111" font-family="Liberation Sans, sans-serif">M2</text>
<text x="126.9" y="93.7" font-size="3.2" font-weight="bold" text-anchor="end" fill="#222" font-family="Liberation Sans, sans-serif">308 genes</text>
<text x="30.1" y="84.9" font-size="3.6" text-anchor="end" fill="#444" stroke="#444" stroke-width="0.2" font-family="Liberation Sans, sans-serif">8x10⁵</text>
<line x1="31.1" y1="83.6" x2="32.6" y2="83.6" stroke="#888" stroke-width="0.4"/>
<text x="30.1" y="93.9" font-size="3.6" text-anchor="end" fill="#444" stroke="#444" stroke-width="0.2" font-family="Liberation Sans, sans-serif">6x10⁵</text>
<line x1="31.1" y1="92.6" x2="32.6" y2="92.6" stroke="#888" stroke-width="0.4"/>
<text x="30.1" y="102.4" font-size="3.6" text-anchor="end" fill="#444" stroke="#444" stroke-width="0.2" font-family="Liberation Sans, sans-serif">4x10⁵</text>
<line x1="31.1" y1="101.1" x2="32.6" y2="101.1" stroke="#888" stroke-width="0.4"/>
<text x="30.1" y="110.9" font-size="3.6" text-anchor="end" fill="#444" stroke="#444" stroke-width="0.2" font-family="Liberation Sans, sans-serif">2x10⁵</text>
<line x1="31.1" y1="109.6" x2="32.6" y2="109.6" stroke="#888" stroke-width="0.4"/>
<text x="30.1" y="119.7" font-size="3.6" text-anchor="end" fill="#444" stroke="#444" stroke-width="0.2" font-family="Liberation Sans, sans-serif">0</text>
<line x1="31.1" y1="118.4" x2="32.6" y2="118.4" stroke="#888" stroke-width="0.4"/>
<rect x="32.6" y="120.8" width="8.84" height="36.7" fill="#fccbc8" />
<rect x="40.84" y="120.8" width="8.84" height="36.7" fill="#f6d0a5" />
<rect x="49.08" y="120.8" width="8.84" height="36.7" fill="#e9d9a2" />
<rect x="57.33" y="120.8" width="8.84" height="36.7" fill="#cfe4a6" />
<rect x="65.57" y="120.8" width="8.84" height="36.7" fill="#9ee6c2" />
<rect x="73.81" y="120.8" width="8.84" height="36.7" fill="#9de8da" />
<rect x="82.05" y="120.8" width="8.84" height="36.7" fill="#9ee6ec" />
<rect x="90.29" y="120.8" width="8.84" height="36.7" fill="#a2ddf5" />
<rect x="98.53" y="120.8" width="8.84" height="36.7" fill="#c8d5f7" />
<rect x="106.78" y="120.8" width="8.84" height="36.7" fill="#ebcdf7" />
<rect x="115.02" y="120.8" width="8.84" height="36.7" fill="#f9c6ef" />
<rect x="123.26" y="120.8" width="8.24" height="36.7" fill="#fcc7e2" />
<g clip-path="url(#cp287)">
<clipPath id="cp287"><rect x="32.6" y="120.8" width="98.9" height="36.4"/></clipPath>
<polyline points="36.72,154.42 44.96,154.16 53.2,154.26 61.45,154.21 69.69,153.5 77.93,152.3 86.17,152.32 94.41,153.61 102.65,153.11 110.9,150.19 119.14,151.28 127.38,151.82" fill="none" stroke="#d09020" stroke-width="0.2975" stroke-opacity="0.27" stroke-linejoin="round" />
<polyline points="36.72,152.92 44.96,153.68 53.2,153.04 61.45,152.97 69.69,151.49 77.93,148.63 86.17,147.38 94.41,150.27 102.65,150.54 110.9,146.7 119.14,149.76 127.38,148.82" fill="none" stroke="#d09020" stroke-width="0.2975" stroke-opacity="0.27" stroke-linejoin="round" />
<polyline points="36.72,152.95 44.96,152.92 53.2,153.51 61.45,153.54 69.69,150.94 77.93,147.63 86.17,147.57 94.41,151.19 102.65,150.61 110.9,146.43 119.14,149.01 127.38,148.83" fill="none" stroke="#d09020" stroke-width="0.2975" stroke-opacity="0.27" stroke-linejoin="round" />
<polyline points="36.72,153.78 44.96,153.45 53.2,152.85 61.45,153.05 69.69,151.37 77.93,148.46 86.17,148.25 94.41,151.83 102.65,151.62 110.9,146.18 119.14,149.14 127.38,149.25" fill="none" stroke="#d09020" stroke-width="0.2975" stroke-opacity="0.27" stroke-linejoin="round" />
<polyline points="36.72,153.44 44.96,153.33 53.2,153.64 61.45,152.8 69.69,151.32 77.93,149.6 86.17,148.54 94.41,151.45 102.65,151.51 110.9,146.55 119.14,148.89 127.38,149.1" fill="none" stroke="#d09020" stroke-width="0.2975" stroke-opacity="0.27" stroke-linejoin="round" />
<polyline points="36.72,153.26 44.96,153.23 53.2,153.52 61.45,153.48 69.69,151.77 77.93,150.44 86.17,149.83 94.41,151.49 102.65,151.62 110.9,147.8 119.14,149.13 127.38,149.92" fill="none" stroke="#d09020" stroke-width="0.2975" stroke-opacity="0.27" stroke-linejoin="round" />
<polyline points="36.72,153.36 44.96,153.54 53.2,152.76 61.45,153.19 69.69,150.4 77.93,147.23 86.17,148.62 94.41,151.52 102.65,151 110.9,144.68 119.14,148.48 127.38,147.72" fill="none" stroke="#d09020" stroke-width="0.2975" stroke-opacity="0.27" stroke-linejoin="round" />
<polyline points="36.72,153.72 44.96,153.15 53.2,153.89 61.45,154.01 69.69,151.74 77.93,150.09 86.17,149.87 94.41,151.34 102.65,151.73 110.9,146.96 119.14,150.5 127.38,149.46" fill="none" stroke="#d09020" stroke-width="0.2975" stroke-opacity="0.27" stroke-linejoin="round" />
<polyline points="36.72,154.26 44.96,154.46 53.2,153.69 61.45,154.38 69.69,152.55 77.93,151.17 86.17,151.36 94.41,152.2 102.65,152.79 110.9,149.62 119.14,151.5 127.38,150.3" fill="none" stroke="#d09020" stroke-width="0.2975" stroke-opacity="0.27" stroke-linejoin="round" />
<polyline points="36.72,152.71 44.96,152.54 53.2,153.04 61.45,153.76 69.69,150.92 77.93,148.27 86.17,147.34 94.41,150.22 102.65,149.88 110.9,145.92 119.14,147.34 127.38,147.82" fill="none" stroke="#d09020" stroke-width="0.2975" stroke-opacity="0.27" stroke-linejoin="round" />
<polyline points="36.72,154 44.96,153.35 53.2,153.32 61.45,153.3 69.69,151.53 77.93,148.73 86.17,149.54 94.41,151.47 102.65,151.47 110.9,147.49 119.14,149.31 127.38,150.37" fill="none" stroke="#d09020" stroke-width="0.2975" stroke-opacity="0.27" stroke-linejoin="round" />
<polyline points="36.72,154.09 44.96,154.09 53.2,153.91 61.45,154.36 69.69,153.44 77.93,152.48 86.17,152.29 94.41,152.98 102.65,152.98 110.9,150.41 119.14,151.34 127.38,151.41" fill="none" stroke="#d09020" stroke-width="0.2975" stroke-opacity="0.27" stroke-linejoin="round" />
<polyline points="36.72,153.4 44.96,153.4 53.2,153.4 61.45,153.4 69.69,152.4 77.93,151.9 86.17,151.9 94.41,152.4 102.65,151.9 110.9,150.4 119.14,150.9 127.38,150.9" fill="none" stroke="#e0a030" stroke-width="1.2" stroke-opacity="0.4" stroke-linejoin="round" />
<polyline points="36.72,154.5 44.96,154.5 53.2,154.5 61.45,154.5 69.69,153.5 77.93,153 86.17,153 94.41,153.5 102.65,153 110.9,151.5 119.14,152 127.38,152" fill="none" stroke="#d89010" stroke-width="1.0" stroke-opacity="0.8" stroke-linejoin="round" />
<polyline points="36.72,155.5 44.96,155.5 53.2,155.5 61.45,155.5 69.69,154.5 77.93,154 86.17,154 94.41,154.5 102.65,154 110.9,152.5 119.14,153 127.38,153" fill="none" stroke="#c08000" stroke-width="1.0" stroke-opacity="0.8" stroke-linejoin="round" />
<polyline points="36.72,155 44.96,155 53.2,155 61.45,155 69.69,154 77.93,153.5 86.17,153.5 94.41,154 102.65,153.5 110.9,152 119.14,152.5 127.38,152.5" fill="none" stroke="#4a2c00" stroke-width="0.8" stroke-opacity="1.0" stroke-linejoin="round" />
</g>
<text x="126.7" y="127.1" font-size="6.2" font-weight="bold" text-anchor="end" fill="#111" font-family="Liberation Sans, sans-serif">M3</text>
<text x="126.9" y="132.4" font-size="3.2" font-weight="bold" text-anchor="end" fill="#222" font-family="Liberation Sans, sans-serif">165 genes</text>
<text x="30.1" y="123.9" font-size="3.6" text-anchor="end" fill="#444" stroke="#444" stroke-width="0.2" font-family="Liberation Sans, sans-serif">8x10⁵</text>
<line x1="31.1" y1="122.6" x2="32.6" y2="122.6" stroke="#888" stroke-width="0.4"/>
<text x="30.1" y="132.4" font-size="3.6" text-anchor="end" fill="#444" stroke="#444" stroke-width="0.2" font-family="Liberation Sans, sans-serif">6x10⁵</text>
<line x1="31.1" y1="131.1" x2="32.6" y2="131.1" stroke="#888" stroke-width="0.4"/>
<text x="30.1" y="140.9" font-size="3.6" text-anchor="end" fill="#444" stroke="#444" stroke-width="0.2" font-family="Liberation Sans, sans-serif">4x10⁵</text>
<line x1="31.1" y1="139.6" x2="32.6" y2="139.6" stroke="#888" stroke-width="0.4"/>
<text x="30.1" y="149.4" font-size="3.6" text-anchor="end" fill="#444" stroke="#444" stroke-width="0.2" font-family="Liberation Sans, sans-serif">2x10⁵</text>
<line x1="31.1" y1="148.1" x2="32.6" y2="148.1" stroke="#888" stroke-width="0.4"/>
<text x="30.1" y="157.9" font-size="3.6" text-anchor="end" fill="#444" stroke="#444" stroke-width="0.2" font-family="Liberation Sans, sans-serif">0</text>
<line x1="31.1" y1="156.6" x2="32.6" y2="156.6" stroke="#888" stroke-width="0.4"/>
<rect x="32.6" y="158.8" width="8.84" height="36.4" fill="#fccbc8" />
<rect x="40.84" y="158.8" width="8.84" height="36.4" fill="#f6d0a5" />
<rect x="49.08" y="158.8" width="8.84" height="36.4" fill="#e9d9a2" />
<rect x="57.33" y="158.8" width="8.84" height="36.4" fill="#cfe4a6" />
<rect x="65.57" y="158.8" width="8.84" height="36.4" fill="#9ee6c2" />
<rect x="73.81" y="158.8" width="8.84" height="36.4" fill="#9de8da" />
<rect x="82.05" y="158.8" width="8.84" height="36.4" fill="#9ee6ec" />
<rect x="90.29" y="158.8" width="8.84" height="36.4" fill="#a2ddf5" />
<rect x="98.53" y="158.8" width="8.84" height="36.4" fill="#c8d5f7" />
<rect x="106.78" y="158.8" width="8.84" height="36.4" fill="#ebcdf7" />
<rect x="115.02" y="158.8" width="8.84" height="36.4" fill="#f9c6ef" />
<rect x="123.26" y="158.8" width="8.24" height="36.4" fill="#fcc7e2" />
<g clip-path="url(#cp330)">
<clipPath id="cp330"><rect x="32.6" y="158.8" width="98.9" height="36.1"/></clipPath>
<polyline points="36.72,177.97 44.96,178.57 53.2,180.44 61.45,180.82 69.69,186.6 77.93,185.76 86.17,187.69 94.41,187.86 102.65,186.75 110.9,178.3 119.14,181.66 127.38,180.22" fill="none" stroke="#b8b840" stroke-width="0.2975" stroke-opacity="0.27" stroke-linejoin="round" />
<polyline points="36.72,181.4 44.96,181.81 53.2,182.69 61.45,183.19 69.69,189.17 77.93,188.07 86.17,189.2 94.41,190.74 102.65,188.05 110.9,182.36 119.14,185.64 127.38,183.11" fill="none" stroke="#b8b840" stroke-width="0.2975" stroke-opacity="0.27" stroke-linejoin="round" />
<polyline points="36.72,182.7 44.96,182.59 53.2,183.51 61.45,185.35 69.69,188.78 77.93,189.03 86.17,188.6 94.41,191.42 102.65,189.06 110.9,183.75 119.14,186.14 127.38,183.86" fill="none" stroke="#b8b840" stroke-width="0.2975" stroke-opacity="0.27" stroke-linejoin="round" />
<polyline points="36.72,181.8 44.96,182.33 53.2,183.58 61.45,183.69 69.69,188.69 77.93,189.2 86.17,188.17 94.41,190.88 102.65,189.53 110.9,182.1 119.14,185.49 127.38,183.6" fill="none" stroke="#b8b840" stroke-width="0.2975" stroke-opacity="0.27" stroke-linejoin="round" />
<polyline points="36.72,181.93 44.96,183.45 53.2,183.12 61.45,185.32 69.69,188.22 77.93,189.25 86.17,189.22 94.41,189.44 102.65,189.2 110.9,183.01 119.14,185.16 127.38,183.45" fill="none" stroke="#b8b840" stroke-width="0.2975" stroke-opacity="0.27" stroke-linejoin="round" />
<polyline points="36.72,180.76 44.96,180.24 53.2,181.48 61.45,182.97 69.69,187.74 77.93,187.08 86.17,187.86 94.41,189.6 102.65,185.94 110.9,179.8 119.14,182.51 127.38,181.69" fill="none" stroke="#b8b840" stroke-width="0.2975" stroke-opacity="0.27" stroke-linejoin="round" />
<polyline points="36.72,180.73 44.96,179.78 53.2,180.31 61.45,180.79 69.69,187.09 77.93,188.43 86.17,186.69 94.41,189.41 102.65,186.91 110.9,179.31 119.14,181.83 127.38,179.74" fill="none" stroke="#b8b840" stroke-width="0.2975" stroke-opacity="0.27" stroke-linejoin="round" />
<polyline points="36.72,181.07 44.96,180.83 53.2,182 61.45,182.11 69.69,188.67 77.93,187.34 86.17,188.44 94.41,189.9 102.65,187.76 110.9,179.93 119.14,183.5 127.38,182.87" fill="none" stroke="#b8b840" stroke-width="0.2975" stroke-opacity="0.27" stroke-linejoin="round" />
<polyline points="36.72,183.76 44.96,184.05 53.2,184.28 61.45,185.35 69.69,188.36 77.93,189.52 86.17,190.23 94.41,191.6 102.65,188.7 110.9,183.89 119.14,186.82 127.38,184.49" fill="none" stroke="#b8b840" stroke-width="0.2975" stroke-opacity="0.27" stroke-linejoin="round" />
<polyline points="36.72,184.33 44.96,182.89 53.2,184.43 61.45,184.32 69.69,189.72 77.93,189.13 86.17,189.34 94.41,189.85 102.65,190.08 110.9,184.44 119.14,185.57 127.38,184.88" fill="none" stroke="#b8b840" stroke-width="0.2975" stroke-opacity="0.27" stroke-linejoin="round" />
<polyline points="36.72,177.44 44.96,180.17 53.2,180.71 61.45,181.93 69.69,186.71 77.93,186.86 86.17,187.19 94.41,189.1 102.65,186 110.9,177.84 119.14,181.41 127.38,181.6" fill="none" stroke="#b8b840" stroke-width="0.2975" stroke-opacity="0.27" stroke-linejoin="round" />
<polyline points="36.72,183.35 44.96,182.84 53.2,182.68 61.45,183.27 69.69,189.37 77.93,189.51 86.17,188.23 94.41,189.5 102.65,189.42 110.9,182.68 119.14,185.84 127.38,183.68" fill="none" stroke="#b8b840" stroke-width="0.2975" stroke-opacity="0.27" stroke-linejoin="round" />
<polyline points="36.72,180.91 44.96,181.51 53.2,181.73 61.45,183.3 69.69,188.54 77.93,187.45 86.17,189.14 94.41,189.53 102.65,188.28 110.9,181.57 119.14,183.61 127.38,182.77" fill="none" stroke="#b8b840" stroke-width="0.2975" stroke-opacity="0.27" stroke-linejoin="round" />
<polyline points="36.72,181.79 44.96,182.85 53.2,184.29 61.45,183.2 69.69,188.43 77.93,188.52 86.17,188.93 94.41,189.46 102.65,189.74 110.9,182.54 119.14,184.97 127.38,183.48" fill="none" stroke="#b8b840" stroke-width="0.2975" stroke-opacity="0.27" stroke-linejoin="round" />
<polyline points="36.72,182.31 44.96,182.31 53.2,181.89 61.45,184.19 69.69,188.28 77.93,188.96 86.17,188.69 94.41,189.33 102.65,188.38 110.9,181.88 119.14,185.59 127.38,183.41" fill="none" stroke="#b8b840" stroke-width="0.2975" stroke-opacity="0.27" stroke-linejoin="round" />
<polyline points="36.72,183.76 44.96,183.45 53.2,184.26 61.45,185.68 69.69,189.43 77.93,189.49 86.17,189.82 94.41,190.96 102.65,188.86 110.9,183.13 119.14,186.6 127.38,183.99" fill="none" stroke="#b8b840" stroke-width="0.2975" stroke-opacity="0.27" stroke-linejoin="round" />
<polyline points="36.72,186.4 44.96,186.4 53.2,186.6 61.45,187.4 69.69,191.5 77.93,191.5 86.17,192 94.41,193 102.65,192 110.9,186.4 119.14,189 127.38,187.5" fill="none" stroke="#b8c000" stroke-width="1.5" stroke-opacity="0.7" stroke-linejoin="round" />
<polyline points="36.72,187.8 44.96,187.8 53.2,188 61.45,188.8 69.69,192.9 77.93,192.9 86.17,193.4 94.41,194.4 102.65,193.4 110.9,187.8 119.14,190.4 127.38,188.9" fill="none" stroke="#a8b800" stroke-width="1.5" stroke-opacity="0.7" stroke-linejoin="round" />
<polyline points="36.72,189.2 44.96,189.2 53.2,189.4 61.45,190.2 69.69,194.3 77.93,194.3 86.17,194.8 94.41,195.8 102.65,194.8 110.9,189.2 119.14,191.8 127.38,190.3" fill="none" stroke="#c0c840" stroke-width="1.5" stroke-opacity="0.5" stroke-linejoin="round" />
<polyline points="36.72,185.4 44.96,185.4 53.2,185.6 61.45,186.4 69.69,190.5 77.93,190.5 86.17,191 94.41,192 102.65,191 110.9,185.4 119.14,188 127.38,186.5" fill="none" stroke="#3c3c08" stroke-width="1.0" stroke-opacity="1.0" stroke-linejoin="round" />
</g>
<text x="126.7" y="165.1" font-size="6.2" font-weight="bold" text-anchor="end" fill="#111" font-family="Liberation Sans, sans-serif">M4</text>
<text x="126.9" y="170.4" font-size="3.2" font-weight="bold" text-anchor="end" fill="#222" font-family="Liberation Sans, sans-serif">102 genes</text>
<text x="30.1" y="165.3" font-size="3.6" text-anchor="end" fill="#444" stroke="#444" stroke-width="0.2" font-family="Liberation Sans, sans-serif">2x10⁵</text>
<line x1="31.1" y1="164" x2="32.6" y2="164" stroke="#888" stroke-width="0.4"/>
<text x="30.1" y="173.1" font-size="3.6" text-anchor="end" fill="#444" stroke="#444" stroke-width="0.2" font-family="Liberation Sans, sans-serif">1.5x10⁵</text>
<line x1="31.1" y1="171.8" x2="32.6" y2="171.8" stroke="#888" stroke-width="0.4"/>
<text x="30.1" y="181.1" font-size="3.6" text-anchor="end" fill="#444" stroke="#444" stroke-width="0.2" font-family="Liberation Sans, sans-serif">1x10⁵</text>
<line x1="31.1" y1="179.8" x2="32.6" y2="179.8" stroke="#888" stroke-width="0.4"/>
<text x="30.1" y="188.5" font-size="3.6" text-anchor="end" fill="#444" stroke="#444" stroke-width="0.2" font-family="Liberation Sans, sans-serif">5x10⁴</text>
<line x1="31.1" y1="187.2" x2="32.6" y2="187.2" stroke="#888" stroke-width="0.4"/>
<text x="30.1" y="195.9" font-size="3.6" text-anchor="end" fill="#444" stroke="#444" stroke-width="0.2" font-family="Liberation Sans, sans-serif">0</text>
<line x1="31.1" y1="194.6" x2="32.6" y2="194.6" stroke="#888" stroke-width="0.4"/>
<line x1="36.72" y1="195.5" x2="36.72" y2="196.8" stroke="#888" stroke-width="0.4"/>
<line x1="44.96" y1="195.5" x2="44.96" y2="196.8" stroke="#888" stroke-width="0.4"/>
<line x1="53.2" y1="195.5" x2="53.2" y2="196.8" stroke="#888" stroke-width="0.4"/>
<line x1="61.45" y1="195.5" x2="61.45" y2="196.8" stroke="#888" stroke-width="0.4"/>
<line x1="69.69" y1="195.5" x2="69.69" y2="196.8" stroke="#888" stroke-width="0.4"/>
<line x1="77.93" y1="195.5" x2="77.93" y2="196.8" stroke="#888" stroke-width="0.4"/>
<line x1="86.17" y1="195.5" x2="86.17" y2="196.8" stroke="#888" stroke-width="0.4"/>
<line x1="94.41" y1="195.5" x2="94.41" y2="196.8" stroke="#888" stroke-width="0.4"/>
<line x1="102.65" y1="195.5" x2="102.65" y2="196.8" stroke="#888" stroke-width="0.4"/>
<line x1="110.9" y1="195.5" x2="110.9" y2="196.8" stroke="#888" stroke-width="0.4"/>
<line x1="119.14" y1="195.5" x2="119.14" y2="196.8" stroke="#888" stroke-width="0.4"/>
<line x1="127.38" y1="195.5" x2="127.38" y2="196.8" stroke="#888" stroke-width="0.4"/>
<rect x="151.9" y="44.7" width="8.76" height="36.6" fill="#fccbc8" />
<rect x="160.06" y="44.7" width="8.76" height="36.6" fill="#f6d0a5" />
<rect x="168.22" y="44.7" width="8.76" height="36.6" fill="#e9d9a2" />
<rect x="176.38" y="44.7" width="8.76" height="36.6" fill="#cfe4a6" />
<rect x="184.53" y="44.7" width="8.76" height="36.6" fill="#9ee6c2" />
<rect x="192.69" y="44.7" width="8.76" height="36.6" fill="#9de8da" />
<rect x="200.85" y="44.7" width="8.76" height="36.6" fill="#9ee6ec" />
<rect x="209.01" y="44.7" width="8.76" height="36.6" fill="#a2ddf5" />
<rect x="217.17" y="44.7" width="8.76" height="36.6" fill="#c8d5f7" />
<rect x="225.32" y="44.7" width="8.76" height="36.6" fill="#ebcdf7" />
<rect x="233.48" y="44.7" width="8.76" height="36.6" fill="#f9c6ef" />
<rect x="241.64" y="44.7" width="8.16" height="36.6" fill="#fcc7e2" />
<g clip-path="url(#cp389)">
<clipPath id="cp389"><rect x="151.9" y="44.7" width="97.9" height="36.3"/></clipPath>
<polyline points="155.98,66.39 164.14,56.26 172.3,62.93 180.45,69.98 188.61,64.8 196.77,57.91 204.93,61.8 213.09,63.15 221.25,69.48 229.4,66.13 237.56,69.96 245.72,66.24" fill="none" stroke="#60c060" stroke-width="0.2975" stroke-opacity="0.27" stroke-linejoin="round" />
<polyline points="155.98,63.83 164.14,55.41 172.3,64.61 180.45,71.99 188.61,64.39 196.77,60.61 204.93,62.05 213.09,59.42 221.25,70.69 229.4,69.41 237.56,66.4 245.72,67.01" fill="none" stroke="#60c060" stroke-width="0.2975" stroke-opacity="0.27" stroke-linejoin="round" />
<polyline points="155.98,71.97 164.14,70.12 172.3,71.65 180.45,75.91 188.61,71.56 196.77,70.5 204.93,71.92 213.09,70.19 221.25,75.19 229.4,73.46 237.56,74.36 245.72,75.65" fill="none" stroke="#60c060" stroke-width="0.2975" stroke-opacity="0.27" stroke-linejoin="round" />
<polyline points="155.98,66.28 164.14,62.09 172.3,67.16 180.45,71.87 188.61,65.33 196.77,62.29 204.93,64.2 213.09,61.04 221.25,72.4 229.4,69.42 237.56,70.04 245.72,72.17" fill="none" stroke="#60c060" stroke-width="0.2975" stroke-opacity="0.27" stroke-linejoin="round" />
<polyline points="155.98,68.25 164.14,65.01 172.3,66.91 180.45,72.79 188.61,66.88 196.77,61.82 204.93,63.56 213.09,65.16 221.25,71.62 229.4,70.13 237.56,70.86 245.72,71.63" fill="none" stroke="#60c060" stroke-width="0.2975" stroke-opacity="0.27" stroke-linejoin="round" />
<polyline points="155.98,66.6 164.14,59.46 172.3,63.92 180.45,71.1 188.61,62.24 196.77,59.77 204.93,58.32 213.09,59.92 221.25,70.04 229.4,69.36 237.56,69.78 245.72,68.51" fill="none" stroke="#60c060" stroke-width="0.2975" stroke-opacity="0.27" stroke-linejoin="round" />
<polyline points="155.98,68.91 164.14,63.52 172.3,65.55 180.45,73.28 188.61,67.22 196.77,66.47 204.93,64.75 213.09,63.96 221.25,73.89 229.4,69.94 237.56,70.28 245.72,70.55" fill="none" stroke="#60c060" stroke-width="0.2975" stroke-opacity="0.27" stroke-linejoin="round" />
<polyline points="155.98,67.29 164.14,60.66 172.3,65.58 180.45,70.26 188.61,64.11 196.77,61.7 204.93,63.83 213.09,61.65 221.25,72.63 229.4,70.34 237.56,70.89 245.72,69.61" fill="none" stroke="#60c060" stroke-width="0.2975" stroke-opacity="0.27" stroke-linejoin="round" />
<polyline points="155.98,70.3 164.14,67.29 172.3,70.06 180.45,73.27 188.61,70.62 196.77,66.88 204.93,68.68 213.09,69.85 221.25,75.31 229.4,72.89 237.56,72.74 245.72,73.57" fill="none" stroke="#60c060" stroke-width="0.2975" stroke-opacity="0.27" stroke-linejoin="round" />
<polyline points="155.98,69.1 164.14,62.85 172.3,68.7 180.45,72.81 188.61,66.92 196.77,65.52 204.93,66.25 213.09,65.78 221.25,73.15 229.4,69.13 237.56,72.32 245.72,71.48" fill="none" stroke="#60c060" stroke-width="0.2975" stroke-opacity="0.27" stroke-linejoin="round" />
<polyline points="155.98,70.97 164.14,69.91 172.3,70.7 180.45,74.67 188.61,71.03 196.77,70.51 204.93,72.35 213.09,71.73 221.25,75.11 229.4,73.17 237.56,74.65 245.72,73.88" fill="none" stroke="#60c060" stroke-width="0.2975" stroke-opacity="0.27" stroke-linejoin="round" />
<polyline points="155.98,70.74 164.14,67.95 172.3,70.93 180.45,75 188.61,70.97 196.77,68.37 204.93,70.6 213.09,69.34 221.25,74.24 229.4,72.82 237.56,73.22 245.72,73.43" fill="none" stroke="#60c060" stroke-width="0.2975" stroke-opacity="0.27" stroke-linejoin="round" />
<polyline points="155.98,75.2 164.14,74.2 172.3,75 180.45,78.5 188.61,75.2 196.77,74 204.93,76 213.09,75 221.25,79 229.4,77.5 237.56,78 245.72,78" fill="none" stroke="#40c840" stroke-width="1.5" stroke-opacity="0.7" stroke-linejoin="round" />
<polyline points="155.98,76.7 164.14,75.7 172.3,76.5 180.45,80 188.61,76.7 196.77,75.5 204.93,77.5 213.09,76.5 221.25,80.5 229.4,79 237.56,79.5 245.72,79.5" fill="none" stroke="#30c030" stroke-width="1.5" stroke-opacity="0.7" stroke-linejoin="round" />
<polyline points="155.98,78.1 164.14,77.1 172.3,77.9 180.45,81.4 188.61,78.1 196.77,76.9 204.93,78.9 213.09,77.9 221.25,81.9 229.4,80.4 237.56,80.9 245.72,80.9" fill="none" stroke="#60d060" stroke-width="1.2" stroke-opacity="0.5" stroke-linejoin="round" />
<polyline points="155.98,73.7 164.14,72.7 172.3,73.5 180.45,77 188.61,73.7 196.77,72.5 204.93,74.5 213.09,73.5 221.25,77.5 229.4,76 237.56,76.5 245.72,76.5" fill="none" stroke="#333333" stroke-width="0.9" stroke-opacity="1.0" stroke-linejoin="round" />
</g>
<text x="245" y="51" font-size="6.2" font-weight="bold" text-anchor="end" fill="#111" font-family="Liberation Sans, sans-serif">M5</text>
<text x="245.2" y="56.3" font-size="3.2" font-weight="bold" text-anchor="end" fill="#222" font-family="Liberation Sans, sans-serif">64 genes</text>
<text x="149.4" y="48.9" font-size="3.6" text-anchor="end" fill="#444" stroke="#444" stroke-width="0.2" font-family="Liberation Sans, sans-serif">3x10⁵</text>
<line x1="150.4" y1="47.6" x2="151.9" y2="47.6" stroke="#888" stroke-width="0.4"/>
<text x="149.4" y="59.4" font-size="3.6" text-anchor="end" fill="#444" stroke="#444" stroke-width="0.2" font-family="Liberation Sans, sans-serif">2x10⁵</text>
<line x1="150.4" y1="58.1" x2="151.9" y2="58.1" stroke="#888" stroke-width="0.4"/>
<text x="149.4" y="70.4" font-size="3.6" text-anchor="end" fill="#444" stroke="#444" stroke-width="0.2" font-family="Liberation Sans, sans-serif">1x10⁵</text>
<line x1="150.4" y1="69.1" x2="151.9" y2="69.1" stroke="#888" stroke-width="0.4"/>
<text x="149.4" y="81.4" font-size="3.6" text-anchor="end" fill="#444" stroke="#444" stroke-width="0.2" font-family="Liberation Sans, sans-serif">0</text>
<line x1="150.4" y1="80.1" x2="151.9" y2="80.1" stroke="#888" stroke-width="0.4"/>
<rect x="151.9" y="82.9" width="8.76" height="37.1" fill="#fccbc8" />
<rect x="160.06" y="82.9" width="8.76" height="37.1" fill="#f6d0a5" />
<rect x="168.22" y="82.9" width="8.76" height="37.1" fill="#e9d9a2" />
<rect x="176.38" y="82.9" width="8.76" height="37.1" fill="#cfe4a6" />
<rect x="184.53" y="82.9" width="8.76" height="37.1" fill="#9ee6c2" />
<rect x="192.69" y="82.9" width="8.76" height="37.1" fill="#9de8da" />
<rect x="200.85" y="82.9" width="8.76" height="37.1" fill="#9ee6ec" />
<rect x="209.01" y="82.9" width="8.76" height="37.1" fill="#a2ddf5" />
<rect x="217.17" y="82.9" width="8.76" height="37.1" fill="#c8d5f7" />
<rect x="225.32" y="82.9" width="8.76" height="37.1" fill="#ebcdf7" />
<rect x="233.48" y="82.9" width="8.76" height="37.1" fill="#f9c6ef" />
<rect x="241.64" y="82.9" width="8.16" height="37.1" fill="#fcc7e2" />
<g clip-path="url(#cp430)">
<clipPath id="cp430"><rect x="151.9" y="82.9" width="97.9" height="36.8"/></clipPath>
<polyline points="155.98,116.56 164.14,116.13 172.3,115.2 180.45,114.77 188.61,114.63 196.77,114.77 204.93,111.47 213.09,95.93 221.25,113.85 229.4,116.06 237.56,116.39 245.72,115.66" fill="none" stroke="#30b080" stroke-width="0.2975" stroke-opacity="0.27" stroke-linejoin="round" />
<polyline points="155.98,117.03 164.14,117.05 172.3,116.43 180.45,115.72 188.61,115.11 196.77,115.79 204.93,113.6 213.09,107.37 221.25,115.71 229.4,116.66 237.56,116.57 245.72,115.81" fill="none" stroke="#30b080" stroke-width="0.2975" stroke-opacity="0.27" stroke-linejoin="round" />
<polyline points="155.98,116.57 164.14,116.78 172.3,116.85 180.45,116.4 188.61,115.59 196.77,115.56 204.93,114.25 213.09,107.33 221.25,116.45 229.4,117 237.56,116.71 245.72,116.6" fill="none" stroke="#30b080" stroke-width="0.2975" stroke-opacity="0.27" stroke-linejoin="round" />
<polyline points="155.98,116.63 164.14,116.69 172.3,116.16 180.45,115.79 188.61,115.81 196.77,116.22 204.93,113.83 213.09,107.9 221.25,116.02 229.4,116.58 237.56,117.26 245.72,116.63" fill="none" stroke="#30b080" stroke-width="0.2975" stroke-opacity="0.27" stroke-linejoin="round" />
<polyline points="155.98,116.19 164.14,116.57 172.3,114.44 180.45,112.96 188.61,114.09 196.77,114.22 204.93,108.53 213.09,90.84 221.25,113.48 229.4,116.21 237.56,116.14 245.72,115.92" fill="none" stroke="#30b080" stroke-width="0.2975" stroke-opacity="0.27" stroke-linejoin="round" />
<polyline points="155.98,116.96 164.14,116.71 172.3,116.02 180.45,116.14 188.61,115.68 196.77,115.98 204.93,114.58 213.09,107.27 221.25,115.85 229.4,116.46 237.56,116.44 245.72,116.35" fill="none" stroke="#30b080" stroke-width="0.2975" stroke-opacity="0.27" stroke-linejoin="round" />
<polyline points="155.98,116.39 164.14,117.24 172.3,116.27 180.45,115.44 188.61,115.79 196.77,115.8 204.93,114 213.09,107.03 221.25,115.71 229.4,117.13 237.56,116.7 245.72,116.41" fill="none" stroke="#30b080" stroke-width="0.2975" stroke-opacity="0.27" stroke-linejoin="round" />
<polyline points="155.98,116.12 164.14,115.92 172.3,115.29 180.45,115.11 188.61,115.04 196.77,115.06 204.93,110.99 213.09,96.08 221.25,114.78 229.4,115.96 237.56,116.57 245.72,116.04" fill="none" stroke="#30b080" stroke-width="0.2975" stroke-opacity="0.27" stroke-linejoin="round" />
<polyline points="155.98,115.94 164.14,116.41 172.3,115.13 180.45,113.65 188.61,115.18 196.77,113.41 204.93,109 213.09,87.03 221.25,113.19 229.4,115.62 237.56,116.08 245.72,115.52" fill="none" stroke="#30b080" stroke-width="0.2975" stroke-opacity="0.27" stroke-linejoin="round" />
<polyline points="155.98,116.95 164.14,116.65 172.3,115.55 180.45,114.94 188.61,115.33 196.77,114.78 204.93,111.71 213.09,96.77 221.25,114.42 229.4,116.46 237.56,116.55 245.72,115.4" fill="none" stroke="#30b080" stroke-width="0.2975" stroke-opacity="0.27" stroke-linejoin="round" />
<polyline points="155.98,117.9 164.14,117.9 172.3,117.7 180.45,117.4 188.61,116.9 196.77,117.4 204.93,116.4 213.09,112.6 221.25,117.4 229.4,117.9 237.56,117.9 245.72,117.4" fill="none" stroke="#20b040" stroke-width="1.3" stroke-opacity="0.8" stroke-linejoin="round" />
<polyline points="155.98,118.8 164.14,118.8 172.3,118.6 180.45,118.3 188.61,117.8 196.77,118.3 204.93,117.3 213.09,113.5 221.25,118.3 229.4,118.8 237.56,118.8 245.72,118.3" fill="none" stroke="#40c060" stroke-width="1.0" stroke-opacity="0.6" stroke-linejoin="round" />
<polyline points="155.98,116.5 164.14,116.5 172.3,116.3 180.45,116 188.61,115.5 196.77,116 204.93,115 213.09,111.2 221.25,116 229.4,116.5 237.56,116.5 245.72,116" fill="none" stroke="#40c060" stroke-width="1" stroke-opacity="0.4" stroke-linejoin="round" />
<polyline points="155.98,117.5 164.14,117.5 172.3,117.3 180.45,117 188.61,116.5 196.77,117 204.93,116 213.09,112.2 221.25,117 229.4,117.5 237.56,117.5 245.72,117" fill="none" stroke="#1a3a1a" stroke-width="0.9" stroke-opacity="1.0" stroke-linejoin="round" />
</g>
<text x="245" y="89.2" font-size="6.2" font-weight="bold" text-anchor="end" fill="#111" font-family="Liberation Sans, sans-serif">M6</text>
<text x="245.2" y="94.5" font-size="3.2" font-weight="bold" text-anchor="end" fill="#222" font-family="Liberation Sans, sans-serif">60 genes</text>
<text x="149.4" y="89.3" font-size="3.6" text-anchor="end" fill="#444" stroke="#444" stroke-width="0.2" font-family="Liberation Sans, sans-serif">9x10⁵</text>
<line x1="150.4" y1="88" x2="151.9" y2="88" stroke="#888" stroke-width="0.4"/>
<text x="149.4" y="99.8" font-size="3.6" text-anchor="end" fill="#444" stroke="#444" stroke-width="0.2" font-family="Liberation Sans, sans-serif">6x10⁵</text>
<line x1="150.4" y1="98.5" x2="151.9" y2="98.5" stroke="#888" stroke-width="0.4"/>
<text x="149.4" y="110.4" font-size="3.6" text-anchor="end" fill="#444" stroke="#444" stroke-width="0.2" font-family="Liberation Sans, sans-serif">3x10⁵</text>
<line x1="150.4" y1="109.1" x2="151.9" y2="109.1" stroke="#888" stroke-width="0.4"/>
<text x="149.4" y="119.4" font-size="3.6" text-anchor="end" fill="#444" stroke="#444" stroke-width="0.2" font-family="Liberation Sans, sans-serif">0</text>
<line x1="150.4" y1="118.1" x2="151.9" y2="118.1" stroke="#888" stroke-width="0.4"/>
<rect x="151.9" y="121.5" width="8.76" height="36.5" fill="#fccbc8" />
<rect x="160.06" y="121.5" width="8.76" height="36.5" fill="#f6d0a5" />
<rect x="168.22" y="121.5" width="8.76" height="36.5" fill="#e9d9a2" />
<rect x="176.38" y="121.5" width="8.76" height="36.5" fill="#cfe4a6" />
<rect x="184.53" y="121.5" width="8.76" height="36.5" fill="#9ee6c2" />
<rect x="192.69" y="121.5" width="8.76" height="36.5" fill="#9de8da" />
<rect x="200.85" y="121.5" width="8.76" height="36.5" fill="#9ee6ec" />
<rect x="209.01" y="121.5" width="8.76" height="36.5" fill="#a2ddf5" />
<rect x="217.17" y="121.5" width="8.76" height="36.5" fill="#c8d5f7" />
<rect x="225.32" y="121.5" width="8.76" height="36.5" fill="#ebcdf7" />
<rect x="233.48" y="121.5" width="8.76" height="36.5" fill="#f9c6ef" />
<rect x="241.64" y="121.5" width="8.16" height="36.5" fill="#fcc7e2" />
<g clip-path="url(#cp469)">
<clipPath id="cp469"><rect x="151.9" y="121.5" width="97.9" height="36.2"/></clipPath>
<polyline points="155.98,155.49 164.14,154.87 172.3,155.41 180.45,154.66 188.61,154.84 196.77,154.12 204.93,154.43 213.09,149.25 221.25,152.41 229.4,154.54 237.56,154.78 245.72,150.54" fill="none" stroke="#50a0a0" stroke-width="0.255" stroke-opacity="0.27" stroke-linejoin="round" />
<polyline points="155.98,155.38 164.14,155.05 172.3,155.28 180.45,154.74 188.61,155.12 196.77,154.64 204.93,154.66 213.09,152.9 221.25,152.93 229.4,154.99 237.56,154.92 245.72,151.47" fill="none" stroke="#50a0a0" stroke-width="0.255" stroke-opacity="0.27" stroke-linejoin="round" />
<polyline points="155.98,155.03 164.14,154.84 172.3,154.39 180.45,154.94 188.61,154.81 196.77,153.66 204.93,153.22 213.09,147.94 221.25,150.92 229.4,153.5 237.56,153.76 245.72,150.19" fill="none" stroke="#50a0a0" stroke-width="0.255" stroke-opacity="0.27" stroke-linejoin="round" />
<polyline points="155.98,155.28 164.14,155.46 172.3,155.3 180.45,154.69 188.61,155.24 196.77,154.45 204.93,154.34 213.09,149.69 221.25,151.8 229.4,154.63 237.56,155.36 245.72,151.29" fill="none" stroke="#50a0a0" stroke-width="0.255" stroke-opacity="0.27" stroke-linejoin="round" />
<polyline points="155.98,155.02 164.14,154.94 172.3,155.43 180.45,154.94 188.61,154.13 196.77,153.62 204.93,153.22 213.09,148 221.25,149.9 229.4,153.8 237.56,153.92 245.72,150.41" fill="none" stroke="#50a0a0" stroke-width="0.255" stroke-opacity="0.27" stroke-linejoin="round" />
<polyline points="155.98,155.05 164.14,155.26 172.3,155.16 180.45,155 188.61,155.3 196.77,154.61 204.93,155.2 213.09,152.67 221.25,153.35 229.4,154.52 237.56,155.35 245.72,151.99" fill="none" stroke="#50a0a0" stroke-width="0.255" stroke-opacity="0.27" stroke-linejoin="round" />
<polyline points="155.98,155.43 164.14,155.1 172.3,154.91 180.45,154.98 188.61,155.02 196.77,153.66 204.93,153.9 213.09,150.08 221.25,152.43 229.4,154.2 237.56,154.68 245.72,151.48" fill="none" stroke="#50a0a0" stroke-width="0.255" stroke-opacity="0.27" stroke-linejoin="round" />
<polyline points="155.98,155.2 164.14,154.69 172.3,155.25 180.45,154.38 188.61,154.85 196.77,154.35 204.93,153.52 213.09,148.96 221.25,151.9 229.4,154.23 237.56,154.66 245.72,150.14" fill="none" stroke="#50a0a0" stroke-width="0.255" stroke-opacity="0.27" stroke-linejoin="round" />
<polyline points="155.98,156.4 164.14,156.4 172.3,156.4 180.45,156.2 188.61,155.9 196.77,155.9 204.93,155.9 213.09,154.9 221.25,154.9 229.4,155.9 237.56,156.4 245.72,153.4" fill="none" stroke="#10a050" stroke-width="1.3" stroke-opacity="0.8" stroke-linejoin="round" />
<polyline points="155.98,157.3 164.14,157.3 172.3,157.3 180.45,157.1 188.61,156.8 196.77,156.8 204.93,156.8 213.09,155.8 221.25,155.8 229.4,156.8 237.56,157.3 245.72,154.3" fill="none" stroke="#30b070" stroke-width="1.0" stroke-opacity="0.6" stroke-linejoin="round" />
<polyline points="155.98,156 164.14,156 172.3,156 180.45,155.8 188.61,155.5 196.77,155.5 204.93,155.5 213.09,154.5 221.25,154.5 229.4,155.5 237.56,156 245.72,153" fill="none" stroke="#103020" stroke-width="0.9" stroke-opacity="1.0" stroke-linejoin="round" />
</g>
<text x="245" y="127.8" font-size="6.2" font-weight="bold" text-anchor="end" fill="#111" font-family="Liberation Sans, sans-serif">M7</text>
<text x="245.2" y="133.1" font-size="3.2" font-weight="bold" text-anchor="end" fill="#222" font-family="Liberation Sans, sans-serif">54 genes</text>
<text x="149.4" y="134.2" font-size="3.6" text-anchor="end" fill="#444" stroke="#444" stroke-width="0.2" font-family="Liberation Sans, sans-serif">1x10⁵</text>
<line x1="150.4" y1="132.9" x2="151.9" y2="132.9" stroke="#888" stroke-width="0.4"/>
<text x="149.4" y="145.9" font-size="3.6" text-anchor="end" fill="#444" stroke="#444" stroke-width="0.2" font-family="Liberation Sans, sans-serif">5x10⁴</text>
<line x1="150.4" y1="144.6" x2="151.9" y2="144.6" stroke="#888" stroke-width="0.4"/>
<text x="149.4" y="158.3" font-size="3.6" text-anchor="end" fill="#444" stroke="#444" stroke-width="0.2" font-family="Liberation Sans, sans-serif">0</text>
<line x1="150.4" y1="157" x2="151.9" y2="157" stroke="#888" stroke-width="0.4"/>
<rect x="151.9" y="159.5" width="8.76" height="36.1" fill="#fccbc8" />
<rect x="160.06" y="159.5" width="8.76" height="36.1" fill="#f6d0a5" />
<rect x="168.22" y="159.5" width="8.76" height="36.1" fill="#e9d9a2" />
<rect x="176.38" y="159.5" width="8.76" height="36.1" fill="#cfe4a6" />
<rect x="184.53" y="159.5" width="8.76" height="36.1" fill="#9ee6c2" />
<rect x="192.69" y="159.5" width="8.76" height="36.1" fill="#9de8da" />
<rect x="200.85" y="159.5" width="8.76" height="36.1" fill="#9ee6ec" />
<rect x="209.01" y="159.5" width="8.76" height="36.1" fill="#a2ddf5" />
<rect x="217.17" y="159.5" width="8.76" height="36.1" fill="#c8d5f7" />
<rect x="225.32" y="159.5" width="8.76" height="36.1" fill="#ebcdf7" />
<rect x="233.48" y="159.5" width="8.76" height="36.1" fill="#f9c6ef" />
<rect x="241.64" y="159.5" width="8.16" height="36.1" fill="#fcc7e2" />
<g clip-path="url(#cp503)">
<clipPath id="cp503"><rect x="151.9" y="159.5" width="97.9" height="35.8"/></clipPath>
<polyline points="155.98,178.88 164.14,180.16 172.3,182.56 180.45,181.48 188.61,184.35 196.77,183.13 204.93,186.09 213.09,182.61 221.25,184.45 229.4,177.5 237.56,182.64 245.72,173.88" fill="none" stroke="#40b0a0" stroke-width="0.2975" stroke-opacity="0.27" stroke-linejoin="round" />
<polyline points="155.98,179.85 164.14,181.98 172.3,182.41 180.45,181.97 188.61,184.88 196.77,185.33 204.93,189.88 213.09,184.82 221.25,187.66 229.4,179.83 237.56,184.51 245.72,173.77" fill="none" stroke="#40b0a0" stroke-width="0.2975" stroke-opacity="0.27" stroke-linejoin="round" />
<polyline points="155.98,176.74 164.14,177.9 172.3,179.37 180.45,178.92 188.61,182.72 196.77,179.77 204.93,181.44 213.09,178.15 221.25,182.03 229.4,172.14 237.56,179.17 245.72,170.62" fill="none" stroke="#40b0a0" stroke-width="0.2975" stroke-opacity="0.27" stroke-linejoin="round" />
<polyline points="155.98,179.41 164.14,180.94 172.3,182.88 180.45,181.07 188.61,183.92 196.77,182.62 204.93,187.18 213.09,182.09 221.25,186.18 229.4,176.92 237.56,182.61 245.72,173.01" fill="none" stroke="#40b0a0" stroke-width="0.2975" stroke-opacity="0.27" stroke-linejoin="round" />
<polyline points="155.98,179.15 164.14,181.43 172.3,182.86 180.45,181.67 188.61,183.4 196.77,184.64 204.93,186.77 213.09,181.3 221.25,185.08 229.4,177.27 237.56,182.4 245.72,173.27" fill="none" stroke="#40b0a0" stroke-width="0.2975" stroke-opacity="0.27" stroke-linejoin="round" />
<polyline points="155.98,180.97 164.14,181.38 172.3,182.07 180.45,183.26 188.61,184.87 196.77,185.02 204.93,188.72 213.09,183.92 221.25,188.13 229.4,180.16 237.56,184.49 245.72,174.4" fill="none" stroke="#40b0a0" stroke-width="0.2975" stroke-opacity="0.27" stroke-linejoin="round" />
<polyline points="155.98,178.78 164.14,181.66 172.3,182.04 180.45,181.96 188.61,183.62 196.77,183.84 204.93,187.62 213.09,183.76 221.25,186.82 229.4,178.36 237.56,182.41 245.72,174.04" fill="none" stroke="#40b0a0" stroke-width="0.2975" stroke-opacity="0.27" stroke-linejoin="round" />
<polyline points="155.98,179.02 164.14,180.27 172.3,181.77 180.45,179.86 188.61,181.89 196.77,181.28 204.93,185.16 213.09,179.13 221.25,183.77 229.4,176.27 237.56,180.45 245.72,172.57" fill="none" stroke="#40b0a0" stroke-width="0.2975" stroke-opacity="0.27" stroke-linejoin="round" />
<polyline points="155.98,178.53 164.14,179.49 172.3,181.3 180.45,181 188.61,181.68 196.77,181.71 204.93,184.35 213.09,179.16 221.25,184.14 229.4,174.53 237.56,181.72 245.72,171.4" fill="none" stroke="#40b0a0" stroke-width="0.2975" stroke-opacity="0.27" stroke-linejoin="round" />
<polyline points="155.98,180.44 164.14,180.56 172.3,181.73 180.45,182.39 188.61,184.18 196.77,182.52 204.93,188.35 213.09,181.61 221.25,187.26 229.4,178.22 237.56,182.77 245.72,174.01" fill="none" stroke="#40b0a0" stroke-width="0.2975" stroke-opacity="0.27" stroke-linejoin="round" />
<polyline points="155.98,179.38 164.14,181.69 172.3,181.98 180.45,181.95 188.61,183.22 196.77,184.8 204.93,187.47 213.09,184.11 221.25,186.18 229.4,178.94 237.56,182.81 245.72,172.96" fill="none" stroke="#40b0a0" stroke-width="0.2975" stroke-opacity="0.27" stroke-linejoin="round" />
<polyline points="155.98,178.54 164.14,181.16 172.3,180.97 180.45,179.27 188.61,182.72 196.77,181.81 204.93,185.8 213.09,180.59 221.25,182.83 229.4,175.82 237.56,180.2 245.72,169.83" fill="none" stroke="#40b0a0" stroke-width="0.2975" stroke-opacity="0.27" stroke-linejoin="round" />
<polyline points="155.98,183.7 164.14,185.2 172.3,186 180.45,185.5 188.61,187.9 196.77,188.5 204.93,192.5 213.09,188.5 221.25,191 229.4,183.1 237.56,187.5 245.72,178" fill="none" stroke="#30c0a0" stroke-width="1.5" stroke-opacity="0.5" stroke-linejoin="round" />
<polyline points="155.98,185.2 164.14,186.7 172.3,187.5 180.45,187 188.61,189.4 196.77,190 204.93,194 213.09,190 221.25,192.5 229.4,184.6 237.56,189 245.72,179.5" fill="none" stroke="#20b890" stroke-width="1.5" stroke-opacity="0.5" stroke-linejoin="round" />
<polyline points="155.98,186.7 164.14,188.2 172.3,189 180.45,188.5 188.61,190.9 196.77,191.5 204.93,195.5 213.09,191.5 221.25,194 229.4,186.1 237.56,190.5 245.72,181" fill="none" stroke="#50c8a8" stroke-width="1.5" stroke-opacity="0.4" stroke-linejoin="round" />
<polyline points="155.98,182.2 164.14,183.7 172.3,184.5 180.45,184 188.61,186.4 196.77,187 204.93,191 213.09,187 221.25,189.5 229.4,181.6 237.56,186 245.72,176.5" fill="none" stroke="#2a3838" stroke-width="0.9" stroke-opacity="1.0" stroke-linejoin="round" />
</g>
<text x="245" y="165.8" font-size="6.2" font-weight="bold" text-anchor="end" fill="#111" font-family="Liberation Sans, sans-serif">M8</text>
<text x="245.2" y="171.1" font-size="3.2" font-weight="bold" text-anchor="end" fill="#222" font-family="Liberation Sans, sans-serif">44 genes</text>
<text x="149.4" y="167.9" font-size="3.6" text-anchor="end" fill="#444" stroke="#444" stroke-width="0.2" font-family="Liberation Sans, sans-serif">9x10⁴</text>
<line x1="150.4" y1="166.6" x2="151.9" y2="166.6" stroke="#888" stroke-width="0.4"/>
<text x="149.4" y="176.9" font-size="3.6" text-anchor="end" fill="#444" stroke="#444" stroke-width="0.2" font-family="Liberation Sans, sans-serif">6x10⁴</text>
<line x1="150.4" y1="175.6" x2="151.9" y2="175.6" stroke="#888" stroke-width="0.4"/>
<text x="149.4" y="186.9" font-size="3.6" text-anchor="end" fill="#444" stroke="#444" stroke-width="0.2" font-family="Liberation Sans, sans-serif">3x10⁴</text>
<line x1="150.4" y1="185.6" x2="151.9" y2="185.6" stroke="#888" stroke-width="0.4"/>
<text x="149.4" y="196.3" font-size="3.6" text-anchor="end" fill="#444" stroke="#444" stroke-width="0.2" font-family="Liberation Sans, sans-serif">0</text>
<line x1="150.4" y1="195" x2="151.9" y2="195" stroke="#888" stroke-width="0.4"/>
<line x1="155.98" y1="195.9" x2="155.98" y2="197.2" stroke="#888" stroke-width="0.4"/>
<line x1="164.14" y1="195.9" x2="164.14" y2="197.2" stroke="#888" stroke-width="0.4"/>
<line x1="172.3" y1="195.9" x2="172.3" y2="197.2" stroke="#888" stroke-width="0.4"/>
<line x1="180.45" y1="195.9" x2="180.45" y2="197.2" stroke="#888" stroke-width="0.4"/>
<line x1="188.61" y1="195.9" x2="188.61" y2="197.2" stroke="#888" stroke-width="0.4"/>
<line x1="196.77" y1="195.9" x2="196.77" y2="197.2" stroke="#888" stroke-width="0.4"/>
<line x1="204.93" y1="195.9" x2="204.93" y2="197.2" stroke="#888" stroke-width="0.4"/>
<line x1="213.09" y1="195.9" x2="213.09" y2="197.2" stroke="#888" stroke-width="0.4"/>
<line x1="221.25" y1="195.9" x2="221.25" y2="197.2" stroke="#888" stroke-width="0.4"/>
<line x1="229.4" y1="195.9" x2="229.4" y2="197.2" stroke="#888" stroke-width="0.4"/>
<line x1="237.56" y1="195.9" x2="237.56" y2="197.2" stroke="#888" stroke-width="0.4"/>
<line x1="245.72" y1="195.9" x2="245.72" y2="197.2" stroke="#888" stroke-width="0.4"/>
<rect x="268.6" y="44.7" width="8.76" height="36.3" fill="#fccbc8" />
<rect x="276.76" y="44.7" width="8.76" height="36.3" fill="#f6d0a5" />
<rect x="284.92" y="44.7" width="8.76" height="36.3" fill="#e9d9a2" />
<rect x="293.08" y="44.7" width="8.76" height="36.3" fill="#cfe4a6" />
<rect x="301.23" y="44.7" width="8.76" height="36.3" fill="#9ee6c2" />
<rect x="309.39" y="44.7" width="8.76" height="36.3" fill="#9de8da" />
<rect x="317.55" y="44.7" width="8.76" height="36.3" fill="#9ee6ec" />
<rect x="325.71" y="44.7" width="8.76" height="36.3" fill="#a2ddf5" />
<rect x="333.87" y="44.7" width="8.76" height="36.3" fill="#c8d5f7" />
<rect x="342.02" y="44.7" width="8.76" height="36.3" fill="#ebcdf7" />
<rect x="350.18" y="44.7" width="8.76" height="36.3" fill="#f9c6ef" />
<rect x="358.34" y="44.7" width="8.16" height="36.3" fill="#fcc7e2" />
<g clip-path="url(#cp556)">
<clipPath id="cp556"><rect x="268.6" y="44.7" width="97.9" height="36"/></clipPath>
<polyline points="272.68,77.57 280.84,77.44 289,78.1 297.15,77.53 305.31,68.62 313.47,73.21 321.63,74.76 329.79,73.8 337.95,76.39 346.1,77.34 354.26,77.82 362.42,77.34" fill="none" stroke="#40b0b0" stroke-width="0.2975" stroke-opacity="0.27" stroke-linejoin="round" />
<polyline points="272.68,78.2 280.84,77.83 289,78.05 297.15,77.25 305.31,66.63 313.47,72.23 321.63,73.94 329.79,74.19 337.95,76.87 346.1,77.69 354.26,77.78 362.42,77.26" fill="none" stroke="#40b0b0" stroke-width="0.2975" stroke-opacity="0.27" stroke-linejoin="round" />
<polyline points="272.68,77.76 280.84,77.31 289,77.39 297.15,77.32 305.31,66.87 313.47,72.3 321.63,74.5 329.79,74.62 337.95,76.6 346.1,77.88 354.26,77.85 362.42,77.67" fill="none" stroke="#40b0b0" stroke-width="0.2975" stroke-opacity="0.27" stroke-linejoin="round" />
<polyline points="272.68,77.35 280.84,77.77 289,78.12 297.15,77.66 305.31,67.53 313.47,72.87 321.63,75.27 329.79,74.25 337.95,76.25 346.1,78.09 354.26,77.64 362.42,78.06" fill="none" stroke="#40b0b0" stroke-width="0.2975" stroke-opacity="0.27" stroke-linejoin="round" />
<polyline points="272.68,77.51 280.84,77.5 289,77.62 297.15,76.99 305.31,64.83 313.47,72.35 321.63,74.08 329.79,72.81 337.95,75.79 346.1,77.99 354.26,77.15 362.42,76.92" fill="none" stroke="#40b0b0" stroke-width="0.2975" stroke-opacity="0.27" stroke-linejoin="round" />
<polyline points="272.68,77.49 280.84,77.6 289,77.76 297.15,77.05 305.31,65.8 313.47,72.61 321.63,74.33 329.79,74.51 337.95,76.8 346.1,77.84 354.26,78.14 362.42,77.53" fill="none" stroke="#40b0b0" stroke-width="0.2975" stroke-opacity="0.27" stroke-linejoin="round" />
<polyline points="272.68,78.33 280.84,77.89 289,77.62 297.15,77.67 305.31,68.16 313.47,73.56 321.63,75.69 329.79,75.08 337.95,76.54 346.1,77.63 354.26,77.91 362.42,78.01" fill="none" stroke="#40b0b0" stroke-width="0.2975" stroke-opacity="0.27" stroke-linejoin="round" />
<polyline points="272.68,77.17 280.84,77.69 289,77.13 297.15,77.51 305.31,68.33 313.47,72.49 321.63,75.08 329.79,74.05 337.95,77.05 346.1,77.92 354.26,77.83 362.42,77.42" fill="none" stroke="#40b0b0" stroke-width="0.2975" stroke-opacity="0.27" stroke-linejoin="round" />
<polyline points="272.68,76.82 280.84,76.39 289,76.14 297.15,76.02 305.31,56.65 313.47,67.34 321.63,70.9 329.79,69.67 337.95,74.13 346.1,76.49 354.26,76.64 362.42,75.88" fill="none" stroke="#40b0b0" stroke-width="0.2975" stroke-opacity="0.27" stroke-linejoin="round" />
<polyline points="272.68,77.15 280.84,76.82 289,76.36 297.15,76.05 305.31,60.14 313.47,66.22 321.63,70.49 329.79,72.45 337.95,75.9 346.1,76.46 354.26,76.97 362.42,77.5" fill="none" stroke="#40b0b0" stroke-width="0.2975" stroke-opacity="0.27" stroke-linejoin="round" />
<polyline points="272.68,78.08 280.84,78.19 289,78.23 297.15,77.55 305.31,69.67 313.47,73.8 321.63,76.05 329.79,74.92 337.95,77.31 346.1,77.99 354.26,78.35 362.42,77.95" fill="none" stroke="#40b0b0" stroke-width="0.2975" stroke-opacity="0.27" stroke-linejoin="round" />
<polyline points="272.68,77.11 280.84,77.78 289,77.23 297.15,77.17 305.31,66.46 313.47,71.85 321.63,74.99 329.79,73.51 337.95,76.02 346.1,77.63 354.26,77.35 362.42,77.92" fill="none" stroke="#40b0b0" stroke-width="0.2975" stroke-opacity="0.27" stroke-linejoin="round" />
<polyline points="272.68,79 280.84,79 289,79 297.15,79 305.31,72.8 313.47,75.9 321.63,77.4 329.79,76.4 337.95,78.4 346.1,79 354.26,79 362.42,79" fill="none" stroke="#10b0a0" stroke-width="1.3" stroke-opacity="0.8" stroke-linejoin="round" />
<polyline points="272.68,80 280.84,80 289,80 297.15,80 305.31,73.8 313.47,76.9 321.63,78.4 329.79,77.4 337.95,79.4 346.1,80 354.26,80 362.42,80" fill="none" stroke="#30c0b0" stroke-width="1.2" stroke-opacity="0.6" stroke-linejoin="round" />
<polyline points="272.68,77.6 280.84,77.6 289,77.6 297.15,77.6 305.31,71.4 313.47,74.5 321.63,76 329.79,75 337.95,77 346.1,77.6 354.26,77.6 362.42,77.6" fill="none" stroke="#30c0b0" stroke-width="1" stroke-opacity="0.4" stroke-linejoin="round" />
<polyline points="272.68,78.6 280.84,78.6 289,78.6 297.15,78.6 305.31,72.4 313.47,75.5 321.63,77 329.79,76 337.95,78 346.1,78.6 354.26,78.6 362.42,78.6" fill="none" stroke="#203838" stroke-width="0.9" stroke-opacity="1.0" stroke-linejoin="round" />
</g>
<text x="361.7" y="51" font-size="6.2" font-weight="bold" text-anchor="end" fill="#111" font-family="Liberation Sans, sans-serif">M9</text>
<text x="361.9" y="56.3" font-size="3.2" font-weight="bold" text-anchor="end" fill="#222" font-family="Liberation Sans, sans-serif">40 genes</text>
<text x="266.1" y="51.9" font-size="3.6" text-anchor="end" fill="#444" stroke="#444" stroke-width="0.2" font-family="Liberation Sans, sans-serif">3x10⁵</text>
<line x1="267.1" y1="50.6" x2="268.6" y2="50.6" stroke="#888" stroke-width="0.4"/>
<text x="266.1" y="61.9" font-size="3.6" text-anchor="end" fill="#444" stroke="#444" stroke-width="0.2" font-family="Liberation Sans, sans-serif">2x10⁵</text>
<line x1="267.1" y1="60.6" x2="268.6" y2="60.6" stroke="#888" stroke-width="0.4"/>
<text x="266.1" y="71.3" font-size="3.6" text-anchor="end" fill="#444" stroke="#444" stroke-width="0.2" font-family="Liberation Sans, sans-serif">1x10⁵</text>
<line x1="267.1" y1="70" x2="268.6" y2="70" stroke="#888" stroke-width="0.4"/>
<text x="266.1" y="81.2" font-size="3.6" text-anchor="end" fill="#444" stroke="#444" stroke-width="0.2" font-family="Liberation Sans, sans-serif">0</text>
<line x1="267.1" y1="79.9" x2="268.6" y2="79.9" stroke="#888" stroke-width="0.4"/>
<rect x="268.6" y="83.3" width="8.76" height="36.7" fill="#fccbc8" />
<rect x="276.76" y="83.3" width="8.76" height="36.7" fill="#f6d0a5" />
<rect x="284.92" y="83.3" width="8.76" height="36.7" fill="#e9d9a2" />
<rect x="293.08" y="83.3" width="8.76" height="36.7" fill="#cfe4a6" />
<rect x="301.23" y="83.3" width="8.76" height="36.7" fill="#9ee6c2" />
<rect x="309.39" y="83.3" width="8.76" height="36.7" fill="#9de8da" />
<rect x="317.55" y="83.3" width="8.76" height="36.7" fill="#9ee6ec" />
<rect x="325.71" y="83.3" width="8.76" height="36.7" fill="#a2ddf5" />
<rect x="333.87" y="83.3" width="8.76" height="36.7" fill="#c8d5f7" />
<rect x="342.02" y="83.3" width="8.76" height="36.7" fill="#ebcdf7" />
<rect x="350.18" y="83.3" width="8.76" height="36.7" fill="#f9c6ef" />
<rect x="358.34" y="83.3" width="8.16" height="36.7" fill="#fcc7e2" />
<g clip-path="url(#cp597)">
<clipPath id="cp597"><rect x="268.6" y="83.3" width="97.9" height="36.4"/></clipPath>
<polyline points="272.68,116.45 280.84,116.02 289,115.96 297.15,116.71 305.31,106.61 313.47,114.37 321.63,114.29 329.79,114.33 337.95,106.37 346.1,115.1 354.26,114.05 362.42,112.59" fill="none" stroke="#4090c0" stroke-width="0.2975" stroke-opacity="0.27" stroke-linejoin="round" />
<polyline points="272.68,116.07 280.84,115.03 289,116.12 297.15,115.34 305.31,100.32 313.47,113.13 321.63,112.61 329.79,113.82 337.95,102.6 346.1,113.75 354.26,113.59 362.42,112.85" fill="none" stroke="#4090c0" stroke-width="0.2975" stroke-opacity="0.27" stroke-linejoin="round" />
<polyline points="272.68,116.17 280.84,115.28 289,115.45 297.15,116.27 305.31,103.21 313.47,113.38 321.63,113.82 329.79,113.15 337.95,104.13 346.1,114.48 354.26,113.87 362.42,113.34" fill="none" stroke="#4090c0" stroke-width="0.2975" stroke-opacity="0.27" stroke-linejoin="round" />
<polyline points="272.68,115.86 280.84,115.62 289,115.43 297.15,115.61 305.31,102.62 313.47,113.46 321.63,113.82 329.79,113.28 337.95,102.72 346.1,114.27 354.26,113.85 362.42,112.09" fill="none" stroke="#4090c0" stroke-width="0.2975" stroke-opacity="0.27" stroke-linejoin="round" />
<polyline points="272.68,114.87 280.84,114.22 289,114.65 297.15,115.06 305.31,96.86 313.47,111.75 321.63,112.33 329.79,111.32 337.95,90 346.1,113.46 354.26,112.37 362.42,111.64" fill="none" stroke="#4090c0" stroke-width="0.2975" stroke-opacity="0.27" stroke-linejoin="round" />
<polyline points="272.68,116.31 280.84,116.26 289,115.96 297.15,116.11 305.31,104.13 313.47,113.36 321.63,113.96 329.79,112.99 337.95,104.21 346.1,114.21 354.26,113.92 362.42,112.41" fill="none" stroke="#4090c0" stroke-width="0.2975" stroke-opacity="0.27" stroke-linejoin="round" />
<polyline points="272.68,115.8 280.84,116.25 289,115.48 297.15,115.83 305.31,101.02 313.47,113.47 321.63,113.77 329.79,113.22 337.95,102.82 346.1,114.06 354.26,113.73 362.42,112.48" fill="none" stroke="#4090c0" stroke-width="0.2975" stroke-opacity="0.27" stroke-linejoin="round" />
<polyline points="272.68,115.86 280.84,116.61 289,115.87 297.15,115.84 305.31,107.86 313.47,114.38 321.63,114.51 329.79,113.96 337.95,106.72 346.1,115.14 354.26,113.78 362.42,113.3" fill="none" stroke="#4090c0" stroke-width="0.2975" stroke-opacity="0.27" stroke-linejoin="round" />
<polyline points="272.68,115.71 280.84,114.13 289,114.16 297.15,114.65 305.31,94.81 313.47,111.91 321.63,112.47 329.79,110.74 337.95,89.85 346.1,113.82 354.26,112.11 362.42,111.31" fill="none" stroke="#4090c0" stroke-width="0.2975" stroke-opacity="0.27" stroke-linejoin="round" />
<polyline points="272.68,116.28 280.84,116.03 289,115.87 297.15,115.76 305.31,104.45 313.47,114.08 321.63,114.23 329.79,114.38 337.95,104.47 346.1,114.75 354.26,113.55 362.42,112.7" fill="none" stroke="#4090c0" stroke-width="0.2975" stroke-opacity="0.27" stroke-linejoin="round" />
<polyline points="272.68,117.4 280.84,117.4 289,117.4 297.15,117.4 305.31,111.1 313.47,116 321.63,115.9 329.79,115.9 337.95,111.4 346.1,116.4 354.26,115.4 362.42,114.4" fill="none" stroke="#1090b8" stroke-width="1.3" stroke-opacity="0.8" stroke-linejoin="round" />
<polyline points="272.68,118.4 280.84,118.4 289,118.4 297.15,118.4 305.31,112.1 313.47,117 321.63,116.9 329.79,116.9 337.95,112.4 346.1,117.4 354.26,116.4 362.42,115.4" fill="none" stroke="#30a0c8" stroke-width="1.2" stroke-opacity="0.6" stroke-linejoin="round" />
<polyline points="272.68,117 280.84,117 289,117 297.15,117 305.31,110.7 313.47,115.6 321.63,115.5 329.79,115.5 337.95,111 346.1,116 354.26,115 362.42,114" fill="none" stroke="#102838" stroke-width="0.9" stroke-opacity="1.0" stroke-linejoin="round" />
</g>
<text x="361.7" y="89.6" font-size="6.2" font-weight="bold" text-anchor="end" fill="#111" font-family="Liberation Sans, sans-serif">M10</text>
<text x="361.9" y="94.9" font-size="3.2" font-weight="bold" text-anchor="end" fill="#222" font-family="Liberation Sans, sans-serif">38 genes</text>
<text x="266.1" y="88.9" font-size="3.6" text-anchor="end" fill="#444" stroke="#444" stroke-width="0.2" font-family="Liberation Sans, sans-serif">3x10⁵</text>
<line x1="267.1" y1="87.6" x2="268.6" y2="87.6" stroke="#888" stroke-width="0.4"/>
<text x="266.1" y="99.2" font-size="3.6" text-anchor="end" fill="#444" stroke="#444" stroke-width="0.2" font-family="Liberation Sans, sans-serif">2x10⁵</text>
<line x1="267.1" y1="97.9" x2="268.6" y2="97.9" stroke="#888" stroke-width="0.4"/>
<text x="266.1" y="108.9" font-size="3.6" text-anchor="end" fill="#444" stroke="#444" stroke-width="0.2" font-family="Liberation Sans, sans-serif">1x10⁵</text>
<line x1="267.1" y1="107.6" x2="268.6" y2="107.6" stroke="#888" stroke-width="0.4"/>
<text x="266.1" y="118.9" font-size="3.6" text-anchor="end" fill="#444" stroke="#444" stroke-width="0.2" font-family="Liberation Sans, sans-serif">0</text>
<line x1="267.1" y1="117.6" x2="268.6" y2="117.6" stroke="#888" stroke-width="0.4"/>
<rect x="268.6" y="122.2" width="8.76" height="35.8" fill="#fccbc8" />
<rect x="276.76" y="122.2" width="8.76" height="35.8" fill="#f6d0a5" />
<rect x="284.92" y="122.2" width="8.76" height="35.8" fill="#e9d9a2" />
<rect x="293.08" y="122.2" width="8.76" height="35.8" fill="#cfe4a6" />
<rect x="301.23" y="122.2" width="8.76" height="35.8" fill="#9ee6c2" />
<rect x="309.39" y="122.2" width="8.76" height="35.8" fill="#9de8da" />
<rect x="317.55" y="122.2" width="8.76" height="35.8" fill="#9ee6ec" />
<rect x="325.71" y="122.2" width="8.76" height="35.8" fill="#a2ddf5" />
<rect x="333.87" y="122.2" width="8.76" height="35.8" fill="#c8d5f7" />
<rect x="342.02" y="122.2" width="8.76" height="35.8" fill="#ebcdf7" />
<rect x="350.18" y="122.2" width="8.76" height="35.8" fill="#f9c6ef" />
<rect x="358.34" y="122.2" width="8.16" height="35.8" fill="#fcc7e2" />
<g clip-path="url(#cp635)">
<clipPath id="cp635"><rect x="268.6" y="122.2" width="97.9" height="35.5"/></clipPath>
<polyline points="272.68,149.56 280.84,149.83 289,150.82 297.15,151.93 305.31,145.01 313.47,126.11 321.63,145.21 329.79,143.62 337.95,148.07 346.1,132.49 354.26,144.15 362.42,146.01" fill="none" stroke="#6070c0" stroke-width="0.2975" stroke-opacity="0.27" stroke-linejoin="round" />
<polyline points="272.68,150.58 280.84,151.72 289,151.44 297.15,152.7 305.31,147.94 313.47,134.53 321.63,149.08 329.79,146.44 337.95,150.14 346.1,141 354.26,148.96 362.42,148.38" fill="none" stroke="#6070c0" stroke-width="0.2975" stroke-opacity="0.27" stroke-linejoin="round" />
<polyline points="272.68,151.38 280.84,151.2 289,152.49 297.15,152.91 305.31,149.56 313.47,140.56 321.63,149.59 329.79,147.62 337.95,151.04 346.1,144.09 354.26,149.13 362.42,149.45" fill="none" stroke="#6070c0" stroke-width="0.2975" stroke-opacity="0.27" stroke-linejoin="round" />
<polyline points="272.68,150.99 280.84,150.33 289,151.74 297.15,153.2 305.31,148.36 313.47,133.18 321.63,147.97 329.79,145.75 337.95,149.94 346.1,140.41 354.26,147.45 362.42,148.3" fill="none" stroke="#6070c0" stroke-width="0.2975" stroke-opacity="0.27" stroke-linejoin="round" />
<polyline points="272.68,150.96 280.84,151.97 289,151.07 297.15,152.47 305.31,147.52 313.47,138.35 321.63,148.91 329.79,146.38 337.95,149.34 346.1,139.43 354.26,148.76 362.42,149.15" fill="none" stroke="#6070c0" stroke-width="0.2975" stroke-opacity="0.27" stroke-linejoin="round" />
<polyline points="272.68,152.09 280.84,152.11 289,151.6 297.15,152.69 305.31,150.15 313.47,143.07 321.63,149.22 329.79,147.87 337.95,151.9 346.1,142.73 354.26,149.89 362.42,149.3" fill="none" stroke="#6070c0" stroke-width="0.2975" stroke-opacity="0.27" stroke-linejoin="round" />
<polyline points="272.68,152.5 280.84,152 289,152.44 297.15,152.75 305.31,150.1 313.47,142.19 321.63,149.85 329.79,147.67 337.95,151.73 346.1,144.16 354.26,149.78 362.42,149.18" fill="none" stroke="#6070c0" stroke-width="0.2975" stroke-opacity="0.27" stroke-linejoin="round" />
<polyline points="272.68,149.61 280.84,149.7 289,148.97 297.15,152.94 305.31,143.09 313.47,121.03 321.63,140.66 329.79,140.14 337.95,146.76 346.1,125.47 354.26,142.72 362.42,146.02" fill="none" stroke="#6070c0" stroke-width="0.2975" stroke-opacity="0.27" stroke-linejoin="round" />
<polyline points="272.68,151.83 280.84,151.84 289,152.27 297.15,153.81 305.31,150.63 313.47,142.86 321.63,149.82 329.79,148.59 337.95,151.79 346.1,145.3 354.26,150.13 362.42,150.45" fill="none" stroke="#6070c0" stroke-width="0.2975" stroke-opacity="0.27" stroke-linejoin="round" />
<polyline points="272.68,149.48 280.84,150.74 289,150.41 297.15,151.59 305.31,143.08 313.47,129.12 321.63,144.74 329.79,142.92 337.95,145.94 346.1,129.56 354.26,142.7 362.42,146.43" fill="none" stroke="#6070c0" stroke-width="0.2975" stroke-opacity="0.27" stroke-linejoin="round" />
<polyline points="272.68,153.5 280.84,153.5 289,154 297.15,155 305.31,152.5 313.47,147.5 321.63,153 329.79,150.5 337.95,154 346.1,148.5 354.26,152.5 362.42,152" fill="none" stroke="#4858c0" stroke-width="1.3" stroke-opacity="0.8" stroke-linejoin="round" />
<polyline points="272.68,154.6 280.84,154.6 289,155.1 297.15,156.1 305.31,153.6 313.47,148.6 321.63,154.1 329.79,151.6 337.95,155.1 346.1,149.6 354.26,153.6 362.42,153.1" fill="none" stroke="#6070d0" stroke-width="1.2" stroke-opacity="0.6" stroke-linejoin="round" />
<polyline points="272.68,152 280.84,152 289,152.5 297.15,153.5 305.31,151 313.47,146 321.63,151.5 329.79,149 337.95,152.5 346.1,147 354.26,151 362.42,150.5" fill="none" stroke="#8090d0" stroke-width="1.2" stroke-opacity="0.4" stroke-linejoin="round" />
<polyline points="272.68,153 280.84,153 289,153.5 297.15,154.5 305.31,152 313.47,147 321.63,152.5 329.79,150 337.95,153.5 346.1,148 354.26,152 362.42,151.5" fill="none" stroke="#101830" stroke-width="0.9" stroke-opacity="1.0" stroke-linejoin="round" />
</g>
<text x="361.7" y="128.5" font-size="6.2" font-weight="bold" text-anchor="end" fill="#111" font-family="Liberation Sans, sans-serif">M11</text>
<text x="361.9" y="133.8" font-size="3.2" font-weight="bold" text-anchor="end" fill="#222" font-family="Liberation Sans, sans-serif">32 genes</text>
<text x="266.1" y="131.4" font-size="3.6" text-anchor="end" fill="#444" stroke="#444" stroke-width="0.2" font-family="Liberation Sans, sans-serif">2x10⁵</text>
<line x1="267.1" y1="130.1" x2="268.6" y2="130.1" stroke="#888" stroke-width="0.4"/>
<text x="266.1" y="143" font-size="3.6" text-anchor="end" fill="#444" stroke="#444" stroke-width="0.2" font-family="Liberation Sans, sans-serif">1x10⁵</text>
<line x1="267.1" y1="141.7" x2="268.6" y2="141.7" stroke="#888" stroke-width="0.4"/>
<text x="266.1" y="155.7" font-size="3.6" text-anchor="end" fill="#444" stroke="#444" stroke-width="0.2" font-family="Liberation Sans, sans-serif">0</text>
<line x1="267.1" y1="154.4" x2="268.6" y2="154.4" stroke="#888" stroke-width="0.4"/>
<rect x="268.6" y="159.8" width="8.76" height="36" fill="#fccbc8" />
<rect x="276.76" y="159.8" width="8.76" height="36" fill="#f6d0a5" />
<rect x="284.92" y="159.8" width="8.76" height="36" fill="#e9d9a2" />
<rect x="293.08" y="159.8" width="8.76" height="36" fill="#cfe4a6" />
<rect x="301.23" y="159.8" width="8.76" height="36" fill="#9ee6c2" />
<rect x="309.39" y="159.8" width="8.76" height="36" fill="#9de8da" />
<rect x="317.55" y="159.8" width="8.76" height="36" fill="#9ee6ec" />
<rect x="325.71" y="159.8" width="8.76" height="36" fill="#a2ddf5" />
<rect x="333.87" y="159.8" width="8.76" height="36" fill="#c8d5f7" />
<rect x="342.02" y="159.8" width="8.76" height="36" fill="#ebcdf7" />
<rect x="350.18" y="159.8" width="8.76" height="36" fill="#f9c6ef" />
<rect x="358.34" y="159.8" width="8.16" height="36" fill="#fcc7e2" />
<g clip-path="url(#cp672)">
<clipPath id="cp672"><rect x="268.6" y="159.8" width="97.9" height="35.7"/></clipPath>
<polyline points="272.68,191.53 280.84,192.48 289,192.27 297.15,192.21 305.31,173.57 313.47,185.81 321.63,158.56 329.79,187.17 337.95,189.64 346.1,192.01 354.26,192.35 362.42,191.95" fill="none" stroke="#5080c0" stroke-width="0.2975" stroke-opacity="0.3" stroke-linejoin="round" />
<polyline points="272.68,192.58 280.84,192.59 289,192.5 297.15,192.04 305.31,180.8 313.47,188.07 321.63,170.54 329.79,186.8 337.95,190.07 346.1,192.13 354.26,192.56 362.42,192.02" fill="none" stroke="#5080c0" stroke-width="0.2975" stroke-opacity="0.3" stroke-linejoin="round" />
<polyline points="272.68,193.05 280.84,192.96 289,193.11 297.15,192.43 305.31,185.75 313.47,189.72 321.63,182.69 329.79,189.37 337.95,191.44 346.1,192.8 354.26,192.97 362.42,192.21" fill="none" stroke="#5080c0" stroke-width="0.2975" stroke-opacity="0.3" stroke-linejoin="round" />
<polyline points="272.68,193.05 280.84,192.83 289,192.59 297.15,192.91 305.31,180.73 313.47,187.42 321.63,174.09 329.79,188.07 337.95,190.18 346.1,192.34 354.26,192.26 362.42,192.7" fill="none" stroke="#5080c0" stroke-width="0.2975" stroke-opacity="0.3" stroke-linejoin="round" />
<polyline points="272.68,193.14 280.84,193.17 289,193.05 297.15,192.41 305.31,189.75 313.47,189.98 321.63,184.88 329.79,190.74 337.95,191.57 346.1,193.08 354.26,192.96 362.42,193.11" fill="none" stroke="#5080c0" stroke-width="0.2975" stroke-opacity="0.3" stroke-linejoin="round" />
<polyline points="272.68,192.46 280.84,192.95 289,192.62 297.15,192.29 305.31,184.67 313.47,188.89 321.63,175.59 329.79,188.71 337.95,190.54 346.1,192.9 354.26,192.64 362.42,192.24" fill="none" stroke="#5080c0" stroke-width="0.2975" stroke-opacity="0.3" stroke-linejoin="round" />
<polyline points="272.68,191.69 280.84,191.97 289,192.31 297.15,192.32 305.31,173.8 313.47,185.56 321.63,163.09 329.79,185.19 337.95,190.14 346.1,192.24 354.26,192.08 362.42,192" fill="none" stroke="#5080c0" stroke-width="0.2975" stroke-opacity="0.3" stroke-linejoin="round" />
<polyline points="272.68,193.8 280.84,193.8 289,193.8 297.15,193.8 305.31,192.3 313.47,191.8 321.63,191.3 329.79,191.8 337.95,192.3 346.1,193.8 354.26,193.8 362.42,193.8" fill="none" stroke="#4848b8" stroke-width="1.2" stroke-opacity="0.8" stroke-linejoin="round" />
<polyline points="272.68,194.7 280.84,194.7 289,194.7 297.15,194.7 305.31,193.2 313.47,192.7 321.63,192.2 329.79,192.7 337.95,193.2 346.1,194.7 354.26,194.7 362.42,194.7" fill="none" stroke="#6060d0" stroke-width="1.0" stroke-opacity="0.6" stroke-linejoin="round" />
<polyline points="272.68,192.7 280.84,192.7 289,192.7 297.15,192.7 305.31,191.2 313.47,190.7 321.63,190.2 329.79,190.7 337.95,191.2 346.1,192.7 354.26,192.7 362.42,192.7" fill="none" stroke="#7070d0" stroke-width="1" stroke-opacity="0.4" stroke-linejoin="round" />
<polyline points="272.68,193.5 280.84,193.5 289,193.5 297.15,193.5 305.31,192 313.47,191.5 321.63,191 329.79,191.5 337.95,192 346.1,193.5 354.26,193.5 362.42,193.5" fill="none" stroke="#101030" stroke-width="0.9" stroke-opacity="1.0" stroke-linejoin="round" />
</g>
<text x="361.7" y="166.1" font-size="6.2" font-weight="bold" text-anchor="end" fill="#111" font-family="Liberation Sans, sans-serif">M12</text>
<text x="361.9" y="171.4" font-size="3.2" font-weight="bold" text-anchor="end" fill="#222" font-family="Liberation Sans, sans-serif">30 genes</text>
<text x="266.1" y="164.1" font-size="3.6" text-anchor="end" fill="#444" stroke="#444" stroke-width="0.2" font-family="Liberation Sans, sans-serif">1.5x10⁵</text>
<line x1="267.1" y1="162.8" x2="268.6" y2="162.8" stroke="#888" stroke-width="0.4"/>
<text x="266.1" y="173.6" font-size="3.6" text-anchor="end" fill="#444" stroke="#444" stroke-width="0.2" font-family="Liberation Sans, sans-serif">1x10⁵</text>
<line x1="267.1" y1="172.3" x2="268.6" y2="172.3" stroke="#888" stroke-width="0.4"/>
<text x="266.1" y="184.1" font-size="3.6" text-anchor="end" fill="#444" stroke="#444" stroke-width="0.2" font-family="Liberation Sans, sans-serif">5x10⁴</text>
<line x1="267.1" y1="182.8" x2="268.6" y2="182.8" stroke="#888" stroke-width="0.4"/>
<text x="266.1" y="194.7" font-size="3.6" text-anchor="end" fill="#444" stroke="#444" stroke-width="0.2" font-family="Liberation Sans, sans-serif">0</text>
<line x1="267.1" y1="193.4" x2="268.6" y2="193.4" stroke="#888" stroke-width="0.4"/>
<line x1="272.68" y1="196.1" x2="272.68" y2="197.4" stroke="#888" stroke-width="0.4"/>
<line x1="280.84" y1="196.1" x2="280.84" y2="197.4" stroke="#888" stroke-width="0.4"/>
<line x1="289" y1="196.1" x2="289" y2="197.4" stroke="#888" stroke-width="0.4"/>
<line x1="297.15" y1="196.1" x2="297.15" y2="197.4" stroke="#888" stroke-width="0.4"/>
<line x1="305.31" y1="196.1" x2="305.31" y2="197.4" stroke="#888" stroke-width="0.4"/>
<line x1="313.47" y1="196.1" x2="313.47" y2="197.4" stroke="#888" stroke-width="0.4"/>
<line x1="321.63" y1="196.1" x2="321.63" y2="197.4" stroke="#888" stroke-width="0.4"/>
<line x1="329.79" y1="196.1" x2="329.79" y2="197.4" stroke="#888" stroke-width="0.4"/>
<line x1="337.95" y1="196.1" x2="337.95" y2="197.4" stroke="#888" stroke-width="0.4"/>
<line x1="346.1" y1="196.1" x2="346.1" y2="197.4" stroke="#888" stroke-width="0.4"/>
<line x1="354.26" y1="196.1" x2="354.26" y2="197.4" stroke="#888" stroke-width="0.4"/>
<line x1="362.42" y1="196.1" x2="362.42" y2="197.4" stroke="#888" stroke-width="0.4"/>
<rect x="30" y="207" width="8.7" height="16.1" fill="#e2e2e2" />
<rect x="38.1" y="207" width="8.7" height="16.1" fill="#e2e2e2" />
<rect x="46.2" y="207" width="8.7" height="16.1" fill="#e2e2e2" />
<rect x="54.3" y="207" width="8.7" height="16.1" fill="#e2e2e2" />
<rect x="62.4" y="207" width="8.7" height="16.1" fill="#e2e2e2" />
<rect x="70.5" y="207" width="8.7" height="16.1" fill="#e2e2e2" />
<rect x="78.6" y="207" width="8.7" height="16.1" fill="#e2e2e2" />
<rect x="86.7" y="207" width="8.7" height="16.1" fill="#e2e2e2" />
<rect x="94.8" y="207" width="8.7" height="16.1" fill="#e2e2e2" />
<rect x="102.9" y="203.3" width="8.7" height="19.8" fill="#e2e2e2" />
<rect x="111" y="203.3" width="8.7" height="19.8" fill="#e2e2e2" />
<rect x="119.1" y="203.3" width="8.1" height="19.8" fill="#e2e2e2" />
<text transform="translate(35.25,222.1) rotate(-90)" font-size="3.4" fill="#555555" stroke="#555555" stroke-width="0.1" font-family="Liberation Sans, sans-serif">Top_1d_1</text>
<text transform="translate(43.35,222.1) rotate(-90)" font-size="3.4" fill="#555555" stroke="#555555" stroke-width="0.1" font-family="Liberation Sans, sans-serif">Top_1d_2</text>
<text transform="translate(51.45,222.1) rotate(-90)" font-size="3.4" fill="#555555" stroke="#555555" stroke-width="0.1" font-family="Liberation Sans, sans-serif">Top_1d_3</text>
<text transform="translate(59.55,222.1) rotate(-90)" font-size="3.4" fill="#555555" stroke="#555555" stroke-width="0.1" font-family="Liberation Sans, sans-serif">Top_3d_1</text>
<text transform="translate(67.65,222.1) rotate(-90)" font-size="3.4" fill="#555555" stroke="#555555" stroke-width="0.1" font-family="Liberation Sans, sans-serif">Top_3d_2</text>
<text transform="translate(75.75,222.1) rotate(-90)" font-size="3.4" fill="#555555" stroke="#555555" stroke-width="0.1" font-family="Liberation Sans, sans-serif">Top_3d_3</text>
<text transform="translate(83.85,222.1) rotate(-90)" font-size="3.4" fill="#555555" stroke="#555555" stroke-width="0.1" font-family="Liberation Sans, sans-serif">Top_5d_1</text>
<text transform="translate(91.95,222.1) rotate(-90)" font-size="3.4" fill="#555555" stroke="#555555" stroke-width="0.1" font-family="Liberation Sans, sans-serif">Top_5d_2</text>
<text transform="translate(100.05,222.1) rotate(-90)" font-size="3.4" fill="#555555" stroke="#555555" stroke-width="0.1" font-family="Liberation Sans, sans-serif">Top_5d_3</text>
<text transform="translate(108.15,222.1) rotate(-90)" font-size="3.4" fill="#555555" stroke="#555555" stroke-width="0.1" font-family="Liberation Sans, sans-serif">Untopped_1</text>
<text transform="translate(116.25,222.1) rotate(-90)" font-size="3.4" fill="#555555" stroke="#555555" stroke-width="0.1" font-family="Liberation Sans, sans-serif">Untopped_2</text>
<text transform="translate(124.35,222.1) rotate(-90)" font-size="3.4" fill="#555555" stroke="#555555" stroke-width="0.1" font-family="Liberation Sans, sans-serif">Untopped_3</text>
<rect x="30" y="223.4" width="8.7" height="7.5" fill="#fbc3bf" />
<rect x="38.1" y="223.4" width="8.7" height="7.5" fill="#f5ca9c" />
<rect x="46.2" y="223.4" width="8.7" height="7.5" fill="#e6d498" />
<rect x="54.3" y="223.4" width="8.7" height="7.5" fill="#c9e09c" />
<rect x="62.4" y="223.4" width="8.7" height="7.5" fill="#94e3bb" />
<rect x="70.5" y="223.4" width="8.7" height="7.5" fill="#93e5d5" />
<rect x="78.6" y="223.4" width="8.7" height="7.5" fill="#94e3ea" />
<rect x="86.7" y="223.4" width="8.7" height="7.5" fill="#98d8f4" />
<rect x="94.8" y="223.4" width="8.7" height="7.5" fill="#c1cff7" />
<rect x="102.9" y="223.4" width="8.7" height="7.5" fill="#e8c6f7" />
<rect x="111" y="223.4" width="8.7" height="7.5" fill="#f8bfec" />
<rect x="119.1" y="223.4" width="8.1" height="7.5" fill="#fcc0dd" />
<rect x="37.9" y="223.4" width="0.4" height="7.5" fill="#ffffff" fill-opacity="0.4"/>
<rect x="46" y="223.4" width="0.4" height="7.5" fill="#ffffff" fill-opacity="0.4"/>
<rect x="53.95" y="223.4" width="0.7" height="7.5" fill="#ffffff" fill-opacity="0.85"/>
<rect x="62.2" y="223.4" width="0.4" height="7.5" fill="#ffffff" fill-opacity="0.4"/>
<rect x="70.3" y="223.4" width="0.4" height="7.5" fill="#ffffff" fill-opacity="0.4"/>
<rect x="78.25" y="223.4" width="0.7" height="7.5" fill="#ffffff" fill-opacity="0.85"/>
<rect x="86.5" y="223.4" width="0.4" height="7.5" fill="#ffffff" fill-opacity="0.4"/>
<rect x="94.45" y="223.4" width="0.7" height="7.5" fill="#ffffff" fill-opacity="0.85"/>
<rect x="102.55" y="223.4" width="0.7" height="7.5" fill="#ffffff" fill-opacity="0.85"/>
<rect x="110.8" y="223.4" width="0.4" height="7.5" fill="#ffffff" fill-opacity="0.4"/>
<rect x="118.9" y="223.4" width="0.4" height="7.5" fill="#ffffff" fill-opacity="0.4"/>
<rect x="145.6" y="205.2" width="8.78" height="17.9" fill="#e2e2e2" />
<rect x="153.78" y="205.2" width="8.78" height="17.9" fill="#e2e2e2" />
<rect x="161.97" y="205.2" width="8.78" height="17.9" fill="#e2e2e2" />
<rect x="170.15" y="205.2" width="8.78" height="17.9" fill="#e2e2e2" />
<rect x="178.33" y="205.2" width="8.78" height="17.9" fill="#e2e2e2" />
<rect x="186.52" y="205.2" width="8.78" height="17.9" fill="#e2e2e2" />
<rect x="194.7" y="205.2" width="8.78" height="17.9" fill="#e2e2e2" />
<rect x="202.88" y="205.2" width="8.78" height="17.9" fill="#e2e2e2" />
<rect x="211.07" y="205.2" width="8.78" height="17.9" fill="#e2e2e2" />
<rect x="219.25" y="202" width="8.78" height="21.1" fill="#e2e2e2" />
<rect x="227.43" y="202" width="8.78" height="21.1" fill="#e2e2e2" />
<rect x="235.62" y="202" width="8.18" height="21.1" fill="#e2e2e2" />
<text transform="translate(150.89,222.1) rotate(-90)" font-size="3.4" fill="#555555" stroke="#555555" stroke-width="0.1" font-family="Liberation Sans, sans-serif">Top_1d_1</text>
<text transform="translate(159.07,222.1) rotate(-90)" font-size="3.4" fill="#555555" stroke="#555555" stroke-width="0.1" font-family="Liberation Sans, sans-serif">Top_1d_2</text>
<text transform="translate(167.26,222.1) rotate(-90)" font-size="3.4" fill="#555555" stroke="#555555" stroke-width="0.1" font-family="Liberation Sans, sans-serif">Top_1d_3</text>
<text transform="translate(175.44,222.1) rotate(-90)" font-size="3.4" fill="#555555" stroke="#555555" stroke-width="0.1" font-family="Liberation Sans, sans-serif">Top_3d_1</text>
<text transform="translate(183.62,222.1) rotate(-90)" font-size="3.4" fill="#555555" stroke="#555555" stroke-width="0.1" font-family="Liberation Sans, sans-serif">Top_3d_2</text>
<text transform="translate(191.81,222.1) rotate(-90)" font-size="3.4" fill="#555555" stroke="#555555" stroke-width="0.1" font-family="Liberation Sans, sans-serif">Top_3d_3</text>
<text transform="translate(199.99,222.1) rotate(-90)" font-size="3.4" fill="#555555" stroke="#555555" stroke-width="0.1" font-family="Liberation Sans, sans-serif">Top_5d_1</text>
<text transform="translate(208.18,222.1) rotate(-90)" font-size="3.4" fill="#555555" stroke="#555555" stroke-width="0.1" font-family="Liberation Sans, sans-serif">Top_5d_2</text>
<text transform="translate(216.36,222.1) rotate(-90)" font-size="3.4" fill="#555555" stroke="#555555" stroke-width="0.1" font-family="Liberation Sans, sans-serif">Top_5d_3</text>
<text transform="translate(224.54,222.1) rotate(-90)" font-size="3.4" fill="#555555" stroke="#555555" stroke-width="0.1" font-family="Liberation Sans, sans-serif">Untopped_1</text>
<text transform="translate(232.73,222.1) rotate(-90)" font-size="3.4" fill="#555555" stroke="#555555" stroke-width="0.1" font-family="Liberation Sans, sans-serif">Untopped_2</text>
<text transform="translate(240.91,222.1) rotate(-90)" font-size="3.4" fill="#555555" stroke="#555555" stroke-width="0.1" font-family="Liberation Sans, sans-serif">Untopped_3</text>
<rect x="145.6" y="223.4" width="8.78" height="7.5" fill="#fbc3bf" />
<rect x="153.78" y="223.4" width="8.78" height="7.5" fill="#f5ca9c" />
<rect x="161.97" y="223.4" width="8.78" height="7.5" fill="#e6d498" />
<rect x="170.15" y="223.4" width="8.78" height="7.5" fill="#c9e09c" />
<rect x="178.33" y="223.4" width="8.78" height="7.5" fill="#94e3bb" />
<rect x="186.52" y="223.4" width="8.78" height="7.5" fill="#93e5d5" />
<rect x="194.7" y="223.4" width="8.78" height="7.5" fill="#94e3ea" />
<rect x="202.88" y="223.4" width="8.78" height="7.5" fill="#98d8f4" />
<rect x="211.07" y="223.4" width="8.78" height="7.5" fill="#c1cff7" />
<rect x="219.25" y="223.4" width="8.78" height="7.5" fill="#e8c6f7" />
<rect x="227.43" y="223.4" width="8.78" height="7.5" fill="#f8bfec" />
<rect x="235.62" y="223.4" width="8.18" height="7.5" fill="#fcc0dd" />
<rect x="153.58" y="223.4" width="0.4" height="7.5" fill="#ffffff" fill-opacity="0.4"/>
<rect x="161.77" y="223.4" width="0.4" height="7.5" fill="#ffffff" fill-opacity="0.4"/>
<rect x="169.8" y="223.4" width="0.7" height="7.5" fill="#ffffff" fill-opacity="0.85"/>
<rect x="178.13" y="223.4" width="0.4" height="7.5" fill="#ffffff" fill-opacity="0.4"/>
<rect x="186.32" y="223.4" width="0.4" height="7.5" fill="#ffffff" fill-opacity="0.4"/>
<rect x="194.35" y="223.4" width="0.7" height="7.5" fill="#ffffff" fill-opacity="0.85"/>
<rect x="202.68" y="223.4" width="0.4" height="7.5" fill="#ffffff" fill-opacity="0.4"/>
<rect x="210.72" y="223.4" width="0.7" height="7.5" fill="#ffffff" fill-opacity="0.85"/>
<rect x="218.9" y="223.4" width="0.7" height="7.5" fill="#ffffff" fill-opacity="0.85"/>
<rect x="227.23" y="223.4" width="0.4" height="7.5" fill="#ffffff" fill-opacity="0.4"/>
<rect x="235.42" y="223.4" width="0.4" height="7.5" fill="#ffffff" fill-opacity="0.4"/>
<rect x="30" y="232.3" width="8.7" height="43.8" fill="#fccbc8" />
<rect x="38.1" y="232.3" width="8.7" height="43.8" fill="#f6d0a5" />
<rect x="46.2" y="232.3" width="8.7" height="43.8" fill="#e9d9a2" />
<rect x="54.3" y="232.3" width="8.7" height="43.8" fill="#cfe4a6" />
<rect x="62.4" y="232.3" width="8.7" height="43.8" fill="#9ee6c2" />
<rect x="70.5" y="232.3" width="8.7" height="43.8" fill="#9de8da" />
<rect x="78.6" y="232.3" width="8.7" height="43.8" fill="#9ee6ec" />
<rect x="86.7" y="232.3" width="8.7" height="43.8" fill="#a2ddf5" />
<rect x="94.8" y="232.3" width="8.7" height="43.8" fill="#c8d5f7" />
<rect x="102.9" y="232.3" width="8.7" height="43.8" fill="#ebcdf7" />
<rect x="111" y="232.3" width="8.7" height="43.8" fill="#f9c6ef" />
<rect x="119.1" y="232.3" width="8.1" height="43.8" fill="#fcc7e2" />
<g clip-path="url(#cp814)">
<clipPath id="cp814"><rect x="30" y="232.3" width="97.2" height="43.5"/></clipPath>
<polyline points="34.05,265.26 42.15,263.85 50.25,254.24 58.35,254.3 66.45,248.28 74.55,249.67 82.65,255.68 90.75,257.79 98.85,263.98 106.95,267.94 115.05,267.79 123.15,266.05" fill="none" stroke="#e84040" stroke-width="0.2975" stroke-opacity="0.24" stroke-linejoin="round" />
<polyline points="34.05,268.27 42.15,267.97 50.25,266 58.35,263.66 66.45,263.22 74.55,262.16 82.65,264.97 90.75,266.55 98.85,268.39 106.95,270.8 115.05,270.52 123.15,270.41" fill="none" stroke="#e84040" stroke-width="0.2975" stroke-opacity="0.24" stroke-linejoin="round" />
<polyline points="34.05,269.14 42.15,266.01 50.25,262.11 58.35,259.98 66.45,259.53 74.55,259.06 82.65,262.23 90.75,264.65 98.85,268.9 106.95,270.25 115.05,270.39 123.15,268.62" fill="none" stroke="#e84040" stroke-width="0.2975" stroke-opacity="0.24" stroke-linejoin="round" />
<polyline points="34.05,269.37 42.15,268.27 50.25,268.37 58.35,267.04 66.45,266.5 74.55,267.66 82.65,268.45 90.75,267.91 98.85,270.2 106.95,271.22 115.05,271.11 123.15,271.59" fill="none" stroke="#e84040" stroke-width="0.2975" stroke-opacity="0.24" stroke-linejoin="round" />
<polyline points="34.05,270.21 42.15,268.73 50.25,267.6 58.35,267.19 66.45,267.29 74.55,267.86 82.65,268.4 90.75,268.18 98.85,270.12 106.95,271.37 115.05,270.81 123.15,270.79" fill="none" stroke="#e84040" stroke-width="0.2975" stroke-opacity="0.24" stroke-linejoin="round" />
<polyline points="34.05,269.64 42.15,268.78 50.25,267.06 58.35,266.92 66.45,268.47 74.55,267.16 82.65,267.75 90.75,269.55 98.85,269.82 106.95,272.02 115.05,272.04 123.15,271.23" fill="none" stroke="#e84040" stroke-width="0.2975" stroke-opacity="0.24" stroke-linejoin="round" />
<polyline points="34.05,265.42 42.15,262.25 50.25,259.23 58.35,253.83 66.45,255.18 74.55,254.09 82.65,257.81 90.75,261.7 98.85,265.09 106.95,270.17 115.05,268.82 123.15,268.01" fill="none" stroke="#e84040" stroke-width="0.2975" stroke-opacity="0.24" stroke-linejoin="round" />
<polyline points="34.05,269.49 42.15,268.83 50.25,267.67 58.35,264.77 66.45,265.19 74.55,265.21 82.65,265.6 90.75,265.9 98.85,268.42 106.95,270.26 115.05,271.43 123.15,271.38" fill="none" stroke="#e84040" stroke-width="0.2975" stroke-opacity="0.24" stroke-linejoin="round" />
<polyline points="34.05,266.57 42.15,262.63 50.25,257.53 58.35,252.08 66.45,253.91 74.55,252.27 82.65,259.15 90.75,261.74 98.85,264.72 106.95,269.16 115.05,269.45 123.15,268.74" fill="none" stroke="#e84040" stroke-width="0.2975" stroke-opacity="0.24" stroke-linejoin="round" />
<polyline points="34.05,266.2 42.15,265.16 50.25,259.83 58.35,260.88 66.45,257.66 74.55,261.3 82.65,260.66 90.75,262.58 98.85,267.39 106.95,270.71 115.05,269.06 123.15,268.3" fill="none" stroke="#e84040" stroke-width="0.2975" stroke-opacity="0.24" stroke-linejoin="round" />
<polyline points="34.05,264.28 42.15,262.78 50.25,256.65 58.35,255.86 66.45,249.84 74.55,252.86 82.65,254.75 90.75,261.41 98.85,263.8 106.95,269.46 115.05,269.09 123.15,269.23" fill="none" stroke="#e84040" stroke-width="0.2975" stroke-opacity="0.24" stroke-linejoin="round" />
<polyline points="34.05,268.13 42.15,264.4 50.25,262.92 58.35,258.87 66.45,257.9 74.55,258.85 82.65,261.1 90.75,262.5 98.85,266.49 106.95,269.69 115.05,270.22 123.15,269.38" fill="none" stroke="#e84040" stroke-width="0.2975" stroke-opacity="0.24" stroke-linejoin="round" />
<polyline points="34.05,263.37 42.15,261.73 50.25,258.96 58.35,246.65 66.45,252.43 74.55,249.56 82.65,251.46 90.75,259.54 98.85,261.58 106.95,269.12 115.05,267.08 123.15,265.43" fill="none" stroke="#e84040" stroke-width="0.2975" stroke-opacity="0.24" stroke-linejoin="round" />
<polyline points="34.05,266.14 42.15,264.64 50.25,261.71 58.35,257.1 66.45,257.57 74.55,257.69 82.65,259.14 90.75,262.57 98.85,265.69 106.95,270.31 115.05,269.73 123.15,267.81" fill="none" stroke="#e84040" stroke-width="0.2975" stroke-opacity="0.24" stroke-linejoin="round" />
<polyline points="34.05,268.75 42.15,267.93 50.25,265.64 58.35,261.64 66.45,261.06 74.55,264.26 82.65,264.03 90.75,265.28 98.85,268.55 106.95,271.22 115.05,271 123.15,270.19" fill="none" stroke="#e84040" stroke-width="0.2975" stroke-opacity="0.24" stroke-linejoin="round" />
<polyline points="34.05,267.65 42.15,265.92 50.25,266.24 58.35,263.52 66.45,263.17 74.55,263.84 82.65,265.51 90.75,265.95 98.85,269.86 106.95,270.7 115.05,269.5 123.15,269.6" fill="none" stroke="#e84040" stroke-width="0.2975" stroke-opacity="0.24" stroke-linejoin="round" />
<polyline points="34.05,265.51 42.15,263.63 50.25,257.41 58.35,254.82 66.45,257.43 74.55,254.79 82.65,257.79 90.75,259.58 98.85,266.14 106.95,267.96 115.05,267.77 123.15,268.42" fill="none" stroke="#e84040" stroke-width="0.2975" stroke-opacity="0.24" stroke-linejoin="round" />
<polyline points="34.05,268.15 42.15,266.79 50.25,263.72 58.35,262.02 66.45,260.81 74.55,260.26 82.65,265.74 90.75,265.4 98.85,267.7 106.95,270.47 115.05,269.86 123.15,269.65" fill="none" stroke="#e84040" stroke-width="0.2975" stroke-opacity="0.24" stroke-linejoin="round" />
<polyline points="34.05,267.06 42.15,265.87 50.25,263.78 58.35,262.23 66.45,261.19 74.55,257.75 82.65,262.42 90.75,264.63 98.85,266.62 106.95,269.1 115.05,269.06 123.15,270.14" fill="none" stroke="#e84040" stroke-width="0.2975" stroke-opacity="0.24" stroke-linejoin="round" />
<polyline points="34.05,270.75 42.15,269.19 50.25,268.37 58.35,267.86 66.45,267.11 74.55,265.44 82.65,267.96 90.75,267.33 98.85,269.94 106.95,271.03 115.05,270.56 123.15,269.97" fill="none" stroke="#e84040" stroke-width="0.2975" stroke-opacity="0.24" stroke-linejoin="round" />
<polyline points="34.05,268.47 42.15,265.35 50.25,261.4 58.35,260.47 66.45,261.1 74.55,259.66 82.65,261.74 90.75,264.43 98.85,267.23 106.95,270.36 115.05,270.83 123.15,269.21" fill="none" stroke="#e84040" stroke-width="0.2975" stroke-opacity="0.24" stroke-linejoin="round" />
<polyline points="34.05,269.9 42.15,269.98 50.25,268.67 58.35,266.38 66.45,266.56 74.55,266.73 82.65,267.09 90.75,268.88 98.85,269.8 106.95,271.6 115.05,271.11 123.15,269.87" fill="none" stroke="#e84040" stroke-width="0.2975" stroke-opacity="0.24" stroke-linejoin="round" />
<polyline points="34.05,263.94 42.15,259.47 50.25,255.88 58.35,248.28 66.45,253.59 74.55,249.37 82.65,255.49 90.75,255.41 98.85,265.17 106.95,269.27 115.05,267.72 123.15,267.67" fill="none" stroke="#e84040" stroke-width="0.2975" stroke-opacity="0.24" stroke-linejoin="round" />
<polyline points="34.05,264.19 42.15,261.67 50.25,255.17 58.35,251.78 66.45,246.68 74.55,252.48 82.65,254.03 90.75,259.77 98.85,262.94 106.95,268.09 115.05,268.57 123.15,267.79" fill="none" stroke="#e84040" stroke-width="0.2975" stroke-opacity="0.24" stroke-linejoin="round" />
<polyline points="34.05,269.53 42.15,267.78 50.25,266.7 58.35,267.05 66.45,266.51 74.55,266.31 82.65,267.07 90.75,267.69 98.85,270.37 106.95,270.26 115.05,271.93 123.15,270.6" fill="none" stroke="#e84040" stroke-width="0.2975" stroke-opacity="0.24" stroke-linejoin="round" />
<polyline points="34.05,270.54 42.15,269.27 50.25,268.44 58.35,265.98 66.45,266.37 74.55,267.41 82.65,267.26 90.75,267.45 98.85,269.67 106.95,270.52 115.05,271.58 123.15,269.76" fill="none" stroke="#e84040" stroke-width="0.2975" stroke-opacity="0.24" stroke-linejoin="round" />
<polyline points="34.05,266.26 42.15,265.28 50.25,263.54 58.35,258 66.45,261.53 74.55,257.76 82.65,263.92 90.75,265.18 98.85,268.47 106.95,271 115.05,270.11 123.15,268.17" fill="none" stroke="#e84040" stroke-width="0.2975" stroke-opacity="0.24" stroke-linejoin="round" />
<polyline points="34.05,269.29 42.15,267.67 50.25,266.27 58.35,264.91 66.45,262.78 74.55,263.39 82.65,264.43 90.75,266.86 98.85,269.56 106.95,269.85 115.05,270.62 123.15,269.31" fill="none" stroke="#e84040" stroke-width="0.2975" stroke-opacity="0.24" stroke-linejoin="round" />
<polyline points="34.05,268.3 42.15,268.06 50.25,265.11 58.35,265.08 66.45,263.46 74.55,263.95 82.65,266.96 90.75,266.63 98.85,268.75 106.95,271.38 115.05,271.25 123.15,271.05" fill="none" stroke="#e84040" stroke-width="0.2975" stroke-opacity="0.24" stroke-linejoin="round" />
<polyline points="34.05,264.82 42.15,261.23 50.25,256.91 58.35,254.47 66.45,250.73 74.55,254.78 82.65,256.86 90.75,262.95 98.85,265.94 106.95,268.79 115.05,269.3 123.15,267.12" fill="none" stroke="#e84040" stroke-width="0.2975" stroke-opacity="0.24" stroke-linejoin="round" />
<polyline points="34.05,267.42 42.15,263.83 50.25,261.21 58.35,257.32 66.45,255.75 74.55,254.85 82.65,257.37 90.75,262.93 98.85,266.75 106.95,269.98 115.05,267.89 123.15,268.36" fill="none" stroke="#e84040" stroke-width="0.2975" stroke-opacity="0.24" stroke-linejoin="round" />
<polyline points="34.05,265.17 42.15,261.53 50.25,260.48 58.35,257.51 66.45,257.1 74.55,257.21 82.65,253.58 90.75,259.61 98.85,266.41 106.95,268.66 115.05,269.67 123.15,268.99" fill="none" stroke="#e84040" stroke-width="0.2975" stroke-opacity="0.24" stroke-linejoin="round" />
<polyline points="34.05,268.97 42.15,266.49 50.25,265.17 58.35,261.93 66.45,261.91 74.55,263.28 82.65,264.07 90.75,267.2 98.85,267.86 106.95,271.32 115.05,271.11 123.15,270.1" fill="none" stroke="#e84040" stroke-width="0.2975" stroke-opacity="0.24" stroke-linejoin="round" />
<polyline points="34.05,269.6 42.15,268.65 50.25,268.88 58.35,267.48 66.45,267.48 74.55,267.27 82.65,268.02 90.75,269.49 98.85,269.53 106.95,271.63 115.05,271.11 123.15,270.8" fill="none" stroke="#e84040" stroke-width="0.2975" stroke-opacity="0.24" stroke-linejoin="round" />
<polyline points="34.05,268.2 42.15,266.63 50.25,263.82 58.35,262.07 66.45,262.22 74.55,260.54 82.65,262.13 90.75,266.3 98.85,269.15 106.95,269.57 115.05,270.61 123.15,269.49" fill="none" stroke="#e84040" stroke-width="0.2975" stroke-opacity="0.24" stroke-linejoin="round" />
<polyline points="34.05,269.56 42.15,267.6 50.25,265.92 58.35,263.92 66.45,264.57 74.55,262.68 82.65,263.64 90.75,266 98.85,268.92 106.95,270.46 115.05,271.21 123.15,270.19" fill="none" stroke="#e84040" stroke-width="0.2975" stroke-opacity="0.24" stroke-linejoin="round" />
<polyline points="34.05,267.87 42.15,265.1 50.25,264.45 58.35,262.52 66.45,262.01 74.55,263.42 82.65,263.05 90.75,265 98.85,267.9 106.95,270.05 115.05,269.74 123.15,268.56" fill="none" stroke="#e84040" stroke-width="0.2975" stroke-opacity="0.24" stroke-linejoin="round" />
<polyline points="34.05,268.89 42.15,267.35 50.25,267.4 58.35,267.06 66.45,266.51 74.55,266.59 82.65,267.33 90.75,267.92 98.85,270.49 106.95,271.9 115.05,270.07 123.15,269.74" fill="none" stroke="#e84040" stroke-width="0.2975" stroke-opacity="0.24" stroke-linejoin="round" />
<polyline points="34.05,268.28 42.15,267.39 50.25,265.18 58.35,264.5 66.45,263.29 74.55,263.68 82.65,262.82 90.75,265.57 98.85,269.35 106.95,270.53 115.05,270.22 123.15,269.21" fill="none" stroke="#e84040" stroke-width="0.2975" stroke-opacity="0.24" stroke-linejoin="round" />
<polyline points="34.05,270.11 42.15,270.05 50.25,268.17 58.35,267.18 66.45,266.02 74.55,267.38 82.65,266.63 90.75,268.27 98.85,270.31 106.95,270.85 115.05,271.76 123.15,271.34" fill="none" stroke="#e84040" stroke-width="0.2975" stroke-opacity="0.24" stroke-linejoin="round" />
<polyline points="34.05,269.84 42.15,267.48 50.25,267.14 58.35,266.5 66.45,265.76 74.55,267.13 82.65,266.73 90.75,267.9 98.85,269.73 106.95,271.54 115.05,270.57 123.15,270.48" fill="none" stroke="#e84040" stroke-width="0.2975" stroke-opacity="0.24" stroke-linejoin="round" />
<polyline points="34.05,269.53 42.15,267.01 50.25,265.49 58.35,265.32 66.45,263.79 74.55,264.21 82.65,265.18 90.75,264.57 98.85,269.22 106.95,270.24 115.05,270.37 123.15,270.06" fill="none" stroke="#e84040" stroke-width="0.2975" stroke-opacity="0.24" stroke-linejoin="round" />
<polyline points="34.05,269.25 42.15,270.07 50.25,267.67 58.35,267.24 66.45,267.25 74.55,267.71 82.65,268.48 90.75,269.08 98.85,270.19 106.95,271.69 115.05,271.32 123.15,269.84" fill="none" stroke="#e84040" stroke-width="0.2975" stroke-opacity="0.24" stroke-linejoin="round" />
<polyline points="34.05,268.35 42.15,266.99 50.25,262.46 58.35,261.62 66.45,260.76 74.55,264.08 82.65,260.42 90.75,263.76 98.85,267.38 106.95,269.47 115.05,269.23 123.15,268.29" fill="none" stroke="#e84040" stroke-width="0.2975" stroke-opacity="0.24" stroke-linejoin="round" />
<polyline points="34.05,269.02 42.15,269.46 50.25,268.42 58.35,267.24 66.45,267.49 74.55,266.51 82.65,267.77 90.75,268.94 98.85,270.6 106.95,270.42 115.05,269.98 123.15,271.37" fill="none" stroke="#e84040" stroke-width="0.2975" stroke-opacity="0.24" stroke-linejoin="round" />
<polyline points="34.05,268.86 42.15,265.86 50.25,264.79 58.35,262 66.45,256.53 74.55,257.67 82.65,260.86 90.75,264.78 98.85,268.23 106.95,270.96 115.05,270.09 123.15,271.09" fill="none" stroke="#d06060" stroke-width="0.255" stroke-opacity="0.3" stroke-linejoin="round" />
<polyline points="34.05,265.9 42.15,262.94 50.25,260.01 58.35,258.14 66.45,255.23 74.55,255.26 82.65,254.49 90.75,261.46 98.85,267.43 106.95,269.81 115.05,270.18 123.15,269.87" fill="none" stroke="#d06060" stroke-width="0.255" stroke-opacity="0.3" stroke-linejoin="round" />
<polyline points="34.05,268.62 42.15,263.25 50.25,256.43 58.35,255.7 66.45,256.06 74.55,253.54 82.65,256.34 90.75,259.35 98.85,265.87 106.95,269.19 115.05,269.69 123.15,270.38" fill="none" stroke="#d06060" stroke-width="0.255" stroke-opacity="0.3" stroke-linejoin="round" />
<polyline points="34.05,268.22 42.15,265.68 50.25,262.82 58.35,262.56 66.45,258.5 74.55,259.82 82.65,262.51 90.75,265.47 98.85,268.83 106.95,271.14 115.05,270.34 123.15,270.64" fill="none" stroke="#d06060" stroke-width="0.255" stroke-opacity="0.3" stroke-linejoin="round" />
<polyline points="34.05,269.26 42.15,268.52 50.25,267.74 58.35,267.81 66.45,267.24 74.55,266.97 82.65,267.57 90.75,268.28 98.85,269.73 106.95,271.26 115.05,271.9 123.15,269.97" fill="none" stroke="#d06060" stroke-width="0.255" stroke-opacity="0.3" stroke-linejoin="round" />
<polyline points="34.05,265.08 42.15,264.06 50.25,258.44 58.35,253.83 66.45,248.42 74.55,252.92 82.65,251.53 90.75,260.69 98.85,266.07 106.95,268.99 115.05,270.6 123.15,270.3" fill="none" stroke="#d06060" stroke-width="0.255" stroke-opacity="0.3" stroke-linejoin="round" />
<polyline points="34.05,270.51 42.15,269.16 50.25,267.67 58.35,267.95 66.45,267.72 74.55,268 82.65,269.78 90.75,270 98.85,270.89 106.95,270.94 115.05,270.9 123.15,270.88" fill="none" stroke="#f04040" stroke-width="0.425" stroke-opacity="0.3" stroke-linejoin="round" />
<polyline points="34.05,269.95 42.15,267.47 50.25,268.65 58.35,267.98 66.45,267.68 74.55,265.76 82.65,267.84 90.75,268.91 98.85,270.17 106.95,270.46 115.05,271.27 123.15,271.02" fill="none" stroke="#f04040" stroke-width="0.425" stroke-opacity="0.3" stroke-linejoin="round" />
<polyline points="34.05,268.99 42.15,268.22 50.25,268.3 58.35,266.99 66.45,266.07 74.55,267.56 82.65,267.31 90.75,268.63 98.85,270.67 106.95,269.82 115.05,270.69 123.15,271.16" fill="none" stroke="#f04040" stroke-width="0.425" stroke-opacity="0.3" stroke-linejoin="round" />
<polyline points="34.05,270.53 42.15,269.68 50.25,268.89 58.35,267.75 66.45,268.43 74.55,268.7 82.65,270.1 90.75,269.68 98.85,271.35 106.95,270.69 115.05,270.75 123.15,270.06" fill="none" stroke="#f04040" stroke-width="0.425" stroke-opacity="0.3" stroke-linejoin="round" />
<polyline points="34.05,268.85 42.15,268.73 50.25,268.74 58.35,266.25 66.45,267 74.55,266.99 82.65,267.96 90.75,269.37 98.85,270.77 106.95,271.11 115.05,270.18 123.15,269.74" fill="none" stroke="#f04040" stroke-width="0.425" stroke-opacity="0.3" stroke-linejoin="round" />
<polyline points="34.05,271.15 42.15,269.85 50.25,269.22 58.35,267.92 66.45,268.62 74.55,269.24 82.65,269.9 90.75,270.04 98.85,270.8 106.95,271.49 115.05,270.59 123.15,271.32" fill="none" stroke="#f04040" stroke-width="0.425" stroke-opacity="0.3" stroke-linejoin="round" />
<polyline points="34.05,268.96 42.15,268.52 50.25,266.83 58.35,266.57 66.45,267.59 74.55,265.62 82.65,268.57 90.75,268.59 98.85,269.82 106.95,270.87 115.05,271.07 123.15,269.48" fill="none" stroke="#f04040" stroke-width="0.425" stroke-opacity="0.3" stroke-linejoin="round" />
<polyline points="34.05,269.71 42.15,269.62 50.25,269.93 58.35,268.4 66.45,269.76 74.55,268.79 82.65,269.63 90.75,271.24 98.85,271.82 106.95,270.39 115.05,271.08 123.15,270.06" fill="none" stroke="#f04040" stroke-width="0.425" stroke-opacity="0.3" stroke-linejoin="round" />
<polyline points="34.05,267.92 42.15,267.09 50.25,266.11 58.35,263.05 66.45,266.17 74.55,262.66 82.65,264.74 90.75,268.11 98.85,269.05 106.95,270.66 115.05,268.75 123.15,268.86" fill="none" stroke="#f04040" stroke-width="0.425" stroke-opacity="0.3" stroke-linejoin="round" />
<polyline points="34.05,269.72 42.15,270.51 50.25,270.26 58.35,269.88 66.45,269.73 74.55,268.92 82.65,269.2 90.75,269.67 98.85,270.76 106.95,271.55 115.05,270.68 123.15,270.19" fill="none" stroke="#f04040" stroke-width="0.425" stroke-opacity="0.3" stroke-linejoin="round" />
<polyline points="34.05,268.94 42.15,267.96 50.25,267.28 58.35,266.37 66.45,267.13 74.55,266.34 82.65,267.93 90.75,267.99 98.85,270.8 106.95,270.67 115.05,270.65 123.15,269.93" fill="none" stroke="#f04040" stroke-width="0.425" stroke-opacity="0.3" stroke-linejoin="round" />
<polyline points="34.05,269.35 42.15,266.69 50.25,267.82 58.35,265.9 66.45,265.96 74.55,265.88 82.65,267.92 90.75,268.43 98.85,269.01 106.95,269.95 115.05,269.51 123.15,270.18" fill="none" stroke="#f04040" stroke-width="0.425" stroke-opacity="0.3" stroke-linejoin="round" />
<polyline points="34.05,270.54 42.15,270.06 50.25,268.62 58.35,266.97 66.45,269.08 74.55,268.34 82.65,268.49 90.75,268.81 98.85,270.74 106.95,269.92 115.05,270.84 123.15,271.06" fill="none" stroke="#f04040" stroke-width="0.425" stroke-opacity="0.3" stroke-linejoin="round" />
<polyline points="34.05,269.91 42.15,269.51 50.25,270.46 58.35,268.35 66.45,269.14 74.55,269.39 82.65,269.19 90.75,270.63 98.85,270.72 106.95,271.97 115.05,271.91 123.15,270.98" fill="none" stroke="#f04040" stroke-width="0.425" stroke-opacity="0.3" stroke-linejoin="round" />
<polyline points="34.05,268.78 42.15,268.81 50.25,267.36 58.35,267.29 66.45,268.48 74.55,268.05 82.65,267.32 90.75,268.27 98.85,269.89 106.95,271.31 115.05,271.44 123.15,270.75" fill="none" stroke="#f04040" stroke-width="0.425" stroke-opacity="0.3" stroke-linejoin="round" />
<polyline points="34.05,268.06 42.15,268.03 50.25,265.96 58.35,264.17 66.45,266.77 74.55,264.86 82.65,265.69 90.75,266.88 98.85,268.22 106.95,270.93 115.05,270.02 123.15,269.13" fill="none" stroke="#f04040" stroke-width="0.425" stroke-opacity="0.3" stroke-linejoin="round" />
<polyline points="34.05,268.6 42.15,268.26 50.25,266.05 58.35,266.41 66.45,266.47 74.55,264.89 82.65,267.23 90.75,266.81 98.85,269.57 106.95,270.83 115.05,270.79 123.15,269.51" fill="none" stroke="#f04040" stroke-width="0.425" stroke-opacity="0.3" stroke-linejoin="round" />
<polyline points="34.05,271.11 42.15,270.61 50.25,270.08 58.35,268.85 66.45,268.18 74.55,270.14 82.65,269.6 90.75,270.69 98.85,270.09 106.95,271.56 115.05,270.36 123.15,271.19" fill="none" stroke="#f04040" stroke-width="0.425" stroke-opacity="0.3" stroke-linejoin="round" />
<polyline points="34.05,270.26 42.15,269.81 50.25,269.87 58.35,268.92 66.45,267.99 74.55,270.23 82.65,270.43 90.75,269.42 98.85,271.39 106.95,271.52 115.05,271.78 123.15,270.18" fill="none" stroke="#f04040" stroke-width="0.425" stroke-opacity="0.3" stroke-linejoin="round" />
<polyline points="34.05,269.3 42.15,269.25 50.25,268.36 58.35,267.6 66.45,268.2 74.55,268.47 82.65,268.92 90.75,269.17 98.85,271.16 106.95,271.07 115.05,270.57 123.15,270.6" fill="none" stroke="#f04040" stroke-width="0.425" stroke-opacity="0.3" stroke-linejoin="round" />
<polyline points="34.05,270.45 42.15,270.41 50.25,270.25 58.35,270.04 66.45,269.65 74.55,270.05 82.65,270.54 90.75,270.92 98.85,271.12 106.95,272.22 115.05,272.24 123.15,272.07" fill="none" stroke="#f04040" stroke-width="0.425" stroke-opacity="0.3" stroke-linejoin="round" />
<polyline points="34.05,270.54 42.15,270.35 50.25,268.8 58.35,268.94 66.45,270.14 74.55,268.68 82.65,269.28 90.75,269.38 98.85,271.58 106.95,271.86 115.05,271.9 123.15,270.72" fill="none" stroke="#f04040" stroke-width="0.425" stroke-opacity="0.3" stroke-linejoin="round" />
<polyline points="34.05,269.72 42.15,267.51 50.25,266.95 58.35,266.26 66.45,266.56 74.55,267.54 82.65,268.81 90.75,268.76 98.85,269.77 106.95,271.56 115.05,271.14 123.15,269.78" fill="none" stroke="#f04040" stroke-width="0.425" stroke-opacity="0.3" stroke-linejoin="round" />
<polyline points="34.05,268.58 42.15,265.87 50.25,264.87 58.35,265.84 66.45,265.07 74.55,265.44 82.65,265.96 90.75,268.23 98.85,268.33 106.95,269.34 115.05,270.23 123.15,269.57" fill="none" stroke="#f04040" stroke-width="0.425" stroke-opacity="0.3" stroke-linejoin="round" />
<polyline points="34.05,269.92 42.15,268.97 50.25,267.51 58.35,266.84 66.45,267.41 74.55,267.84 82.65,267.65 90.75,268.38 98.85,269.41 106.95,271.18 115.05,270.54 123.15,269.51" fill="none" stroke="#f04040" stroke-width="0.425" stroke-opacity="0.3" stroke-linejoin="round" />
<polyline points="34.05,263 42.15,262.6 50.25,262.3 58.35,262 66.45,262 74.55,262.2 82.65,262.4 90.75,262.8 98.85,263.3 106.95,263.6 115.05,263.6 123.15,263.3" fill="none" stroke="#f07070" stroke-width="2" stroke-opacity="0.12" stroke-linejoin="round" />
<polyline points="34.05,265 42.15,264.6 50.25,264.3 58.35,264 66.45,264 74.55,264.2 82.65,264.4 90.75,264.8 98.85,265.3 106.95,265.6 115.05,265.6 123.15,265.3" fill="none" stroke="#f06060" stroke-width="2" stroke-opacity="0.2" stroke-linejoin="round" />
<polyline points="34.05,267 42.15,266.6 50.25,266.3 58.35,266 66.45,266 74.55,266.2 82.65,266.4 90.75,266.8 98.85,267.3 106.95,267.6 115.05,267.6 123.15,267.3" fill="none" stroke="#f04848" stroke-width="2" stroke-opacity="0.35" stroke-linejoin="round" />
<polyline points="34.05,269 42.15,268.6 50.25,268.3 58.35,268 66.45,268 74.55,268.2 82.65,268.4 90.75,268.8 98.85,269.3 106.95,269.6 115.05,269.6 123.15,269.3" fill="none" stroke="#e82020" stroke-width="1.6" stroke-opacity="0.75" stroke-linejoin="round" />
<polyline points="34.05,270.4 42.15,270 50.25,269.7 58.35,269.4 66.45,269.4 74.55,269.6 82.65,269.8 90.75,270.2 98.85,270.7 106.95,271 115.05,271 123.15,270.7" fill="none" stroke="#e00000" stroke-width="1.5" stroke-opacity="0.9" stroke-linejoin="round" />
<polyline points="34.05,271.8 42.15,271.4 50.25,271.1 58.35,270.8 66.45,270.8 74.55,271 82.65,271.2 90.75,271.6 98.85,272.1 106.95,272.4 115.05,272.4 123.15,272.1" fill="none" stroke="#b00000" stroke-width="1.5" stroke-opacity="0.95" stroke-linejoin="round" />
<polyline points="34.05,273 42.15,272.6 50.25,272.3 58.35,272 66.45,272 74.55,272.2 82.65,272.4 90.75,272.8 98.85,273.3 106.95,273.6 115.05,273.6 123.15,273.3" fill="none" stroke="#c00000" stroke-width="1.2" stroke-opacity="0.9" stroke-linejoin="round" />
<polyline points="34.05,273.6 42.15,273.2 50.25,272.9 58.35,272.6 66.45,272.6 74.55,272.8 82.65,273 90.75,273.4 98.85,273.9 106.95,274.2 115.05,274.2 123.15,273.9" fill="none" stroke="#e01010" stroke-width="0.8" stroke-opacity="0.85" stroke-linejoin="round" />
<polyline points="34.05,272 42.15,271.6 50.25,271.3 58.35,271 66.45,271 74.55,271.2 82.65,271.4 90.75,271.8 98.85,272.3 106.95,272.6 115.05,272.6 123.15,272.3" fill="none" stroke="#600000" stroke-width="1.3" stroke-opacity="1.0" stroke-linejoin="round" />
</g>
<text x="122.4" y="238.6" font-size="6.2" font-weight="bold" text-anchor="end" fill="#111" font-family="Liberation Sans, sans-serif">M1</text>
<text x="122.6" y="243.9" font-size="3.2" font-weight="bold" text-anchor="end" fill="#222" font-family="Liberation Sans, sans-serif">712 genes</text>
<text x="27.5" y="234.3" font-size="3.6" text-anchor="end" fill="#444" stroke="#444" stroke-width="0.2" font-family="Liberation Sans, sans-serif">6,000</text>
<line x1="28.5" y1="233" x2="30" y2="233" stroke="#888" stroke-width="0.4"/>
<text x="27.5" y="247.7" font-size="3.6" text-anchor="end" fill="#444" stroke="#444" stroke-width="0.2" font-family="Liberation Sans, sans-serif">4,000</text>
<line x1="28.5" y1="246.4" x2="30" y2="246.4" stroke="#888" stroke-width="0.4"/>
<text x="27.5" y="262.4" font-size="3.6" text-anchor="end" fill="#444" stroke="#444" stroke-width="0.2" font-family="Liberation Sans, sans-serif">2,000</text>
<line x1="28.5" y1="261.1" x2="30" y2="261.1" stroke="#888" stroke-width="0.4"/>
<text x="27.5" y="276.2" font-size="3.6" text-anchor="end" fill="#444" stroke="#444" stroke-width="0.2" font-family="Liberation Sans, sans-serif">0</text>
<line x1="28.5" y1="274.9" x2="30" y2="274.9" stroke="#888" stroke-width="0.4"/>
<rect x="30" y="277.8" width="8.7" height="43.3" fill="#fccbc8" />
<rect x="38.1" y="277.8" width="8.7" height="43.3" fill="#f6d0a5" />
<rect x="46.2" y="277.8" width="8.7" height="43.3" fill="#e9d9a2" />
<rect x="54.3" y="277.8" width="8.7" height="43.3" fill="#cfe4a6" />
<rect x="62.4" y="277.8" width="8.7" height="43.3" fill="#9ee6c2" />
<rect x="70.5" y="277.8" width="8.7" height="43.3" fill="#9de8da" />
<rect x="78.6" y="277.8" width="8.7" height="43.3" fill="#9ee6ec" />
<rect x="86.7" y="277.8" width="8.7" height="43.3" fill="#a2ddf5" />
<rect x="94.8" y="277.8" width="8.7" height="43.3" fill="#c8d5f7" />
<rect x="102.9" y="277.8" width="8.7" height="43.3" fill="#ebcdf7" />
<rect x="111" y="277.8" width="8.7" height="43.3" fill="#f9c6ef" />
<rect x="119.1" y="277.8" width="8.1" height="43.3" fill="#fcc7e2" />
<g clip-path="url(#cp924)">
<clipPath id="cp924"><rect x="30" y="277.8" width="97.2" height="43"/></clipPath>
<polyline points="34.05,316 42.15,317.1 50.25,317.11 58.35,315.78 66.45,316.74 74.55,316.33 82.65,316.63 90.75,315.65 98.85,317.16 106.95,314.01 115.05,314.6 123.15,316.39" fill="none" stroke="#d05030" stroke-width="0.2975" stroke-opacity="0.24" stroke-linejoin="round" />
<polyline points="34.05,316.44 42.15,315.95 50.25,315.43 58.35,316.57 66.45,316 74.55,316.94 82.65,315.99 90.75,314.34 98.85,316.17 106.95,313.61 115.05,314.11 123.15,314.71" fill="none" stroke="#d05030" stroke-width="0.2975" stroke-opacity="0.24" stroke-linejoin="round" />
<polyline points="34.05,315.38 42.15,314.19 50.25,315.32 58.35,312.98 66.45,312.92 74.55,314.31 82.65,312.67 90.75,311.68 98.85,314.76 106.95,312.49 115.05,312.62 123.15,314.89" fill="none" stroke="#d05030" stroke-width="0.2975" stroke-opacity="0.24" stroke-linejoin="round" />
<polyline points="34.05,316.67 42.15,315.03 50.25,315.97 58.35,316 66.45,316.04 74.55,315.81 82.65,315.06 90.75,314.18 98.85,316.19 106.95,314.79 115.05,314.27 123.15,314.44" fill="none" stroke="#d05030" stroke-width="0.2975" stroke-opacity="0.24" stroke-linejoin="round" />
<polyline points="34.05,315.26 42.15,314.86 50.25,314.2 58.35,314.13 66.45,314.02 74.55,314.08 82.65,312.21 90.75,309.29 98.85,314.87 106.95,312.18 115.05,313.11 123.15,314.96" fill="none" stroke="#d05030" stroke-width="0.2975" stroke-opacity="0.24" stroke-linejoin="round" />
<polyline points="34.05,315.81 42.15,315.86 50.25,315.96 58.35,315.84 66.45,315.89 74.55,315.46 82.65,314.56 90.75,313.48 98.85,316.66 106.95,314.47 115.05,315.67 123.15,314.99" fill="none" stroke="#d05030" stroke-width="0.2975" stroke-opacity="0.24" stroke-linejoin="round" />
<polyline points="34.05,316.37 42.15,313.88 50.25,313.88 58.35,313.17 66.45,314.23 74.55,314.66 82.65,310.81 90.75,310.55 98.85,313.37 106.95,312.59 115.05,313.55 123.15,314.49" fill="none" stroke="#d05030" stroke-width="0.2975" stroke-opacity="0.24" stroke-linejoin="round" />
<polyline points="34.05,315.31 42.15,315.33 50.25,314.36 58.35,314.76 66.45,313.61 74.55,313.5 82.65,313.85 90.75,310.59 98.85,314.78 106.95,312.89 115.05,313.08 123.15,314.77" fill="none" stroke="#d05030" stroke-width="0.2975" stroke-opacity="0.24" stroke-linejoin="round" />
<polyline points="34.05,317.19 42.15,314.94 50.25,316.08 58.35,316.15 66.45,315.38 74.55,314.85 82.65,314.41 90.75,314.44 98.85,315.12 106.95,314.09 115.05,315 123.15,314.12" fill="none" stroke="#d05030" stroke-width="0.2975" stroke-opacity="0.24" stroke-linejoin="round" />
<polyline points="34.05,314.69 42.15,315.44 50.25,313.02 58.35,312.34 66.45,314.65 74.55,312.83 82.65,310.76 90.75,310.34 98.85,314.67 106.95,312.61 115.05,314.08 123.15,314.35" fill="none" stroke="#d05030" stroke-width="0.2975" stroke-opacity="0.24" stroke-linejoin="round" />
<polyline points="34.05,316.32 42.15,314.87 50.25,314.69 58.35,313.57 66.45,313.4 74.55,313 82.65,313.02 90.75,309.67 98.85,315.49 106.95,312.78 115.05,313.46 123.15,313.37" fill="none" stroke="#d05030" stroke-width="0.2975" stroke-opacity="0.24" stroke-linejoin="round" />
<polyline points="34.05,315.58 42.15,315.58 50.25,315.02 58.35,313.32 66.45,314.7 74.55,313.36 82.65,311.49 90.75,310.11 98.85,313.63 106.95,311.72 115.05,313.37 123.15,314.43" fill="none" stroke="#d05030" stroke-width="0.2975" stroke-opacity="0.24" stroke-linejoin="round" />
<polyline points="34.05,308 42.15,302 50.25,296 58.35,292 66.45,290 74.55,292 82.65,298 90.75,302 98.85,310 106.95,310 115.05,311.5 123.15,312" fill="none" stroke="#c08070" stroke-width="0.3" stroke-opacity="0.3" stroke-linejoin="round" />
<polyline points="34.05,313 42.15,310 50.25,306 58.35,303 66.45,302 74.55,300 82.65,296 90.75,282 98.85,306 106.95,308 115.05,310.5 123.15,312" fill="none" stroke="#a09090" stroke-width="0.3" stroke-opacity="0.35" stroke-linejoin="round" />
<polyline points="34.05,311 42.15,306 50.25,302 58.35,299 66.45,298 74.55,300 82.65,304 90.75,306 98.85,311 106.95,310 115.05,311.5 123.15,313" fill="none" stroke="#c08070" stroke-width="0.3" stroke-opacity="0.25" stroke-linejoin="round" />
<polyline points="34.05,315 42.15,313 50.25,310 58.35,308 66.45,306 74.55,305 82.65,302 90.75,294 98.85,308 106.95,309 115.05,311.5 123.15,313" fill="none" stroke="#b09090" stroke-width="0.3" stroke-opacity="0.25" stroke-linejoin="round" />
<polyline points="34.05,312 42.15,309 50.25,306 58.35,304 66.45,303 74.55,303 82.65,304 90.75,305 98.85,309 106.95,311 115.05,312.5 123.15,313" fill="none" stroke="#d07060" stroke-width="0.3" stroke-opacity="0.25" stroke-linejoin="round" />
<polyline points="34.05,316.8 42.15,316.8 50.25,316.8 58.35,316.8 66.45,316.8 74.55,316.8 82.65,316.8 90.75,316.8 98.85,316.8 106.95,314.8 115.05,315.3 123.15,315.8" fill="none" stroke="#d05020" stroke-width="1.0" stroke-opacity="0.5" stroke-linejoin="round" />
<polyline points="34.05,317.7 42.15,317.7 50.25,317.7 58.35,317.7 66.45,317.7 74.55,317.7 82.65,317.7 90.75,317.7 98.85,317.7 106.95,315.7 115.05,316.2 123.15,316.7" fill="none" stroke="#c04010" stroke-width="1.0" stroke-opacity="0.85" stroke-linejoin="round" />
<polyline points="34.05,318.5 42.15,318.5 50.25,318.5 58.35,318.5 66.45,318.5 74.55,318.5 82.65,318.5 90.75,318.5 98.85,318.5 106.95,316.5 115.05,317 123.15,317.5" fill="none" stroke="#902800" stroke-width="1.0" stroke-opacity="0.9" stroke-linejoin="round" />
<polyline points="34.05,318 42.15,318 50.25,318 58.35,318 66.45,318 74.55,318 82.65,318 90.75,318 98.85,318 106.95,316 115.05,316.5 123.15,317" fill="none" stroke="#401000" stroke-width="0.9" stroke-opacity="1.0" stroke-linejoin="round" />
</g>
<text x="122.4" y="284.1" font-size="6.2" font-weight="bold" text-anchor="end" fill="#111" font-family="Liberation Sans, sans-serif">M2</text>
<text x="122.6" y="289.4" font-size="3.2" font-weight="bold" text-anchor="end" fill="#222" font-family="Liberation Sans, sans-serif">254 genes</text>
<text x="27.5" y="285.2" font-size="3.6" text-anchor="end" fill="#444" stroke="#444" stroke-width="0.2" font-family="Liberation Sans, sans-serif">6,000</text>
<line x1="28.5" y1="283.9" x2="30" y2="283.9" stroke="#888" stroke-width="0.4"/>
<text x="27.5" y="297.4" font-size="3.6" text-anchor="end" fill="#444" stroke="#444" stroke-width="0.2" font-family="Liberation Sans, sans-serif">4,000</text>
<line x1="28.5" y1="296.1" x2="30" y2="296.1" stroke="#888" stroke-width="0.4"/>
<text x="27.5" y="309.5" font-size="3.6" text-anchor="end" fill="#444" stroke="#444" stroke-width="0.2" font-family="Liberation Sans, sans-serif">2,000</text>
<line x1="28.5" y1="308.2" x2="30" y2="308.2" stroke="#888" stroke-width="0.4"/>
<text x="27.5" y="321.5" font-size="3.6" text-anchor="end" fill="#444" stroke="#444" stroke-width="0.2" font-family="Liberation Sans, sans-serif">0</text>
<line x1="28.5" y1="320.2" x2="30" y2="320.2" stroke="#888" stroke-width="0.4"/>
<rect x="30" y="323.2" width="8.7" height="43.8" fill="#fccbc8" />
<rect x="38.1" y="323.2" width="8.7" height="43.8" fill="#f6d0a5" />
<rect x="46.2" y="323.2" width="8.7" height="43.8" fill="#e9d9a2" />
<rect x="54.3" y="323.2" width="8.7" height="43.8" fill="#cfe4a6" />
<rect x="62.4" y="323.2" width="8.7" height="43.8" fill="#9ee6c2" />
<rect x="70.5" y="323.2" width="8.7" height="43.8" fill="#9de8da" />
<rect x="78.6" y="323.2" width="8.7" height="43.8" fill="#9ee6ec" />
<rect x="86.7" y="323.2" width="8.7" height="43.8" fill="#a2ddf5" />
<rect x="94.8" y="323.2" width="8.7" height="43.8" fill="#c8d5f7" />
<rect x="102.9" y="323.2" width="8.7" height="43.8" fill="#ebcdf7" />
<rect x="111" y="323.2" width="8.7" height="43.8" fill="#f9c6ef" />
<rect x="119.1" y="323.2" width="8.1" height="43.8" fill="#fcc7e2" />
<g clip-path="url(#cp970)">
<clipPath id="cp970"><rect x="30" y="323.2" width="97.2" height="43.5"/></clipPath>
<polyline points="34.05,362.58 42.15,362.34 50.25,362.29 58.35,361.71 66.45,362.25 74.55,361.72 82.65,358.95 90.75,359.86 98.85,359.81 106.95,360.99 115.05,361.62 123.15,361.15" fill="none" stroke="#d09020" stroke-width="0.2975" stroke-opacity="0.27" stroke-linejoin="round" />
<polyline points="34.05,362.13 42.15,362.08 50.25,362.47 58.35,361.89 66.45,362.67 74.55,362.18 82.65,360.2 90.75,361.32 98.85,360.49 106.95,361.74 115.05,361.94 123.15,362.44" fill="none" stroke="#d09020" stroke-width="0.2975" stroke-opacity="0.27" stroke-linejoin="round" />
<polyline points="34.05,362.11 42.15,362.46 50.25,362.34 58.35,362.95 66.45,362.27 74.55,361.99 82.65,360.58 90.75,361.03 98.85,360.33 106.95,362.01 115.05,362.3 123.15,362.21" fill="none" stroke="#d09020" stroke-width="0.2975" stroke-opacity="0.27" stroke-linejoin="round" />
<polyline points="34.05,363.12 42.15,362.83 50.25,362.37 58.35,362.66 66.45,362.2 74.55,361.5 82.65,359.61 90.75,361.22 98.85,359.86 106.95,361.87 115.05,362.43 123.15,362.07" fill="none" stroke="#d09020" stroke-width="0.2975" stroke-opacity="0.27" stroke-linejoin="round" />
<polyline points="34.05,362.81 42.15,362.54 50.25,362.72 58.35,362.09 66.45,362.22 74.55,362.03 82.65,360.02 90.75,360.35 98.85,360.27 106.95,361.4 115.05,362.27 123.15,361.58" fill="none" stroke="#d09020" stroke-width="0.2975" stroke-opacity="0.27" stroke-linejoin="round" />
<polyline points="34.05,362.41 42.15,362.07 50.25,362.33 58.35,362.81 66.45,362.71 74.55,361.38 82.65,360.67 90.75,360.91 98.85,360.15 106.95,361.89 115.05,362.12 123.15,361.66" fill="none" stroke="#d09020" stroke-width="0.2975" stroke-opacity="0.27" stroke-linejoin="round" />
<polyline points="34.05,361.41 42.15,361.57 50.25,361.32 58.35,361.18 66.45,361.14 74.55,359.83 82.65,357.28 90.75,358.92 98.85,359.04 106.95,360.35 115.05,361.65 123.15,360.81" fill="none" stroke="#d09020" stroke-width="0.2975" stroke-opacity="0.27" stroke-linejoin="round" />
<polyline points="34.05,361.54 42.15,360.36 50.25,360.23 58.35,360.31 66.45,359.31 74.55,358.49 82.65,352.24 90.75,354.35 98.85,355.14 106.95,357.99 115.05,359.52 123.15,360.54" fill="none" stroke="#d09020" stroke-width="0.2975" stroke-opacity="0.27" stroke-linejoin="round" />
<polyline points="34.05,362.52 42.15,362.03 50.25,361.72 58.35,362.14 66.45,362.09 74.55,360.78 82.65,358.7 90.75,360.09 98.85,358.76 106.95,361.08 115.05,361.21 123.15,361.43" fill="none" stroke="#d09020" stroke-width="0.2975" stroke-opacity="0.27" stroke-linejoin="round" />
<polyline points="34.05,360.95 42.15,360.78 50.25,360.45 58.35,360.81 66.45,360.29 74.55,359.15 82.65,354.7 90.75,356.65 98.85,357.36 106.95,359.42 115.05,360.34 123.15,360.38" fill="none" stroke="#d09020" stroke-width="0.2975" stroke-opacity="0.27" stroke-linejoin="round" />
<polyline points="34.05,361.8 42.15,361.8 50.25,361.8 58.35,361.8 66.45,361.8 74.55,361.6 82.65,360.3 90.75,360.9 98.85,360 106.95,361.1 115.05,361.4 123.15,361.3" fill="none" stroke="#e0a020" stroke-width="1.2" stroke-opacity="0.5" stroke-linejoin="round" />
<polyline points="34.05,362.8 42.15,362.8 50.25,362.8 58.35,362.8 66.45,362.8 74.55,362.6 82.65,361.3 90.75,361.9 98.85,361 106.95,362.1 115.05,362.4 123.15,362.3" fill="none" stroke="#d89000" stroke-width="1.2" stroke-opacity="0.85" stroke-linejoin="round" />
<polyline points="34.05,363.9 42.15,363.9 50.25,363.9 58.35,363.9 66.45,363.9 74.55,363.7 82.65,362.4 90.75,363 98.85,362.1 106.95,363.2 115.05,363.5 123.15,363.4" fill="none" stroke="#b07000" stroke-width="1.2" stroke-opacity="0.9" stroke-linejoin="round" />
<polyline points="34.05,363.3 42.15,363.3 50.25,363.3 58.35,363.3 66.45,363.3 74.55,363.1 82.65,361.8 90.75,362.4 98.85,361.5 106.95,362.6 115.05,362.9 123.15,362.8" fill="none" stroke="#402800" stroke-width="1.0" stroke-opacity="1.0" stroke-linejoin="round" />
</g>
<text x="122.4" y="329.5" font-size="6.2" font-weight="bold" text-anchor="end" fill="#111" font-family="Liberation Sans, sans-serif">M3</text>
<text x="122.6" y="334.8" font-size="3.2" font-weight="bold" text-anchor="end" fill="#222" font-family="Liberation Sans, sans-serif">181 genes</text>
<text x="27.5" y="331.5" font-size="3.6" text-anchor="end" fill="#444" stroke="#444" stroke-width="0.2" font-family="Liberation Sans, sans-serif">3,000</text>
<line x1="28.5" y1="330.2" x2="30" y2="330.2" stroke="#888" stroke-width="0.4"/>
<text x="27.5" y="343.4" font-size="3.6" text-anchor="end" fill="#444" stroke="#444" stroke-width="0.2" font-family="Liberation Sans, sans-serif">2,000</text>
<line x1="28.5" y1="342.1" x2="30" y2="342.1" stroke="#888" stroke-width="0.4"/>
<text x="27.5" y="355.1" font-size="3.6" text-anchor="end" fill="#444" stroke="#444" stroke-width="0.2" font-family="Liberation Sans, sans-serif">1,000</text>
<line x1="28.5" y1="353.8" x2="30" y2="353.8" stroke="#888" stroke-width="0.4"/>
<text x="27.5" y="366.4" font-size="3.6" text-anchor="end" fill="#444" stroke="#444" stroke-width="0.2" font-family="Liberation Sans, sans-serif">0</text>
<line x1="28.5" y1="365.1" x2="30" y2="365.1" stroke="#888" stroke-width="0.4"/>
<line x1="34.05" y1="367.3" x2="34.05" y2="368.6" stroke="#888" stroke-width="0.4"/>
<line x1="42.15" y1="367.3" x2="42.15" y2="368.6" stroke="#888" stroke-width="0.4"/>
<line x1="50.25" y1="367.3" x2="50.25" y2="368.6" stroke="#888" stroke-width="0.4"/>
<line x1="58.35" y1="367.3" x2="58.35" y2="368.6" stroke="#888" stroke-width="0.4"/>
<line x1="66.45" y1="367.3" x2="66.45" y2="368.6" stroke="#888" stroke-width="0.4"/>
<line x1="74.55" y1="367.3" x2="74.55" y2="368.6" stroke="#888" stroke-width="0.4"/>
<line x1="82.65" y1="367.3" x2="82.65" y2="368.6" stroke="#888" stroke-width="0.4"/>
<line x1="90.75" y1="367.3" x2="90.75" y2="368.6" stroke="#888" stroke-width="0.4"/>
<line x1="98.85" y1="367.3" x2="98.85" y2="368.6" stroke="#888" stroke-width="0.4"/>
<line x1="106.95" y1="367.3" x2="106.95" y2="368.6" stroke="#888" stroke-width="0.4"/>
<line x1="115.05" y1="367.3" x2="115.05" y2="368.6" stroke="#888" stroke-width="0.4"/>
<line x1="123.15" y1="367.3" x2="123.15" y2="368.6" stroke="#888" stroke-width="0.4"/>
<rect x="145.6" y="232.3" width="8.78" height="43.7" fill="#fccbc8" />
<rect x="153.78" y="232.3" width="8.78" height="43.7" fill="#f6d0a5" />
<rect x="161.97" y="232.3" width="8.78" height="43.7" fill="#e9d9a2" />
<rect x="170.15" y="232.3" width="8.78" height="43.7" fill="#cfe4a6" />
<rect x="178.33" y="232.3" width="8.78" height="43.7" fill="#9ee6c2" />
<rect x="186.52" y="232.3" width="8.78" height="43.7" fill="#9de8da" />
<rect x="194.7" y="232.3" width="8.78" height="43.7" fill="#9ee6ec" />
<rect x="202.88" y="232.3" width="8.78" height="43.7" fill="#a2ddf5" />
<rect x="211.07" y="232.3" width="8.78" height="43.7" fill="#c8d5f7" />
<rect x="219.25" y="232.3" width="8.78" height="43.7" fill="#ebcdf7" />
<rect x="227.43" y="232.3" width="8.78" height="43.7" fill="#f9c6ef" />
<rect x="235.62" y="232.3" width="8.18" height="43.7" fill="#fcc7e2" />
<g clip-path="url(#cp1021)">
<clipPath id="cp1021"><rect x="145.6" y="232.3" width="98.2" height="43.4"/></clipPath>
<polyline points="149.69,269.31 157.88,267.94 166.06,267.66 174.24,266.66 182.43,267.87 190.61,266.3 198.79,266.68 206.98,267.8 215.16,268.55 223.34,270.87 231.53,270.82 239.71,269.3" fill="none" stroke="#b0b060" stroke-width="0.255" stroke-opacity="0.24" stroke-linejoin="round" />
<polyline points="149.69,268.67 157.88,268.72 166.06,269.22 174.24,268.75 182.43,267.67 190.61,267.85 198.79,268.87 206.98,268.68 215.16,269.33 223.34,271.65 231.53,270.54 239.71,270.18" fill="none" stroke="#b0b060" stroke-width="0.255" stroke-opacity="0.24" stroke-linejoin="round" />
<polyline points="149.69,268.63 157.88,269.68 166.06,268.82 174.24,269.11 182.43,268.11 190.61,269.09 198.79,268.08 206.98,268.2 215.16,270.02 223.34,270.48 231.53,270.26 239.71,270.25" fill="none" stroke="#b0b060" stroke-width="0.255" stroke-opacity="0.24" stroke-linejoin="round" />
<polyline points="149.69,267.58 157.88,267.42 166.06,266.82 174.24,266.95 182.43,266.22 190.61,265.5 198.79,264.97 206.98,266.57 215.16,267.23 223.34,270.2 231.53,268.31 239.71,269.28" fill="none" stroke="#b0b060" stroke-width="0.255" stroke-opacity="0.24" stroke-linejoin="round" />
<polyline points="149.69,266.9 157.88,267.82 166.06,266.2 174.24,267.68 182.43,266.17 190.61,267.17 198.79,267.76 206.98,266.29 215.16,268.35 223.34,269.28 231.53,270.18 239.71,269.94" fill="none" stroke="#b0b060" stroke-width="0.255" stroke-opacity="0.24" stroke-linejoin="round" />
<polyline points="149.69,268.29 157.88,266.77 166.06,267.79 174.24,267.63 182.43,268.06 190.61,266.76 198.79,268.11 206.98,266.87 215.16,267.89 223.34,269.94 231.53,269.45 239.71,270.71" fill="none" stroke="#b0b060" stroke-width="0.255" stroke-opacity="0.24" stroke-linejoin="round" />
<polyline points="149.69,268.82 157.88,269.25 166.06,268.46 174.24,267.73 182.43,267.73 190.61,265.94 198.79,266.74 206.98,266.67 215.16,268.37 223.34,270.79 231.53,270.21 239.71,268.73" fill="none" stroke="#b0b060" stroke-width="0.255" stroke-opacity="0.24" stroke-linejoin="round" />
<polyline points="149.69,270.74 157.88,270.66 166.06,268.69 174.24,268.51 182.43,269.5 190.61,268.24 198.79,268.98 206.98,267.98 215.16,269.38 223.34,270.34 231.53,270.19 239.71,270.18" fill="none" stroke="#b0b060" stroke-width="0.255" stroke-opacity="0.24" stroke-linejoin="round" />
<polyline points="149.69,272 157.88,271.8 166.06,271.5 174.24,271.3 182.43,271 190.61,271 198.79,271 206.98,271 215.16,271.5 223.34,273 231.53,273 239.71,273" fill="none" stroke="#a0b800" stroke-width="1.3" stroke-opacity="0.85" stroke-linejoin="round" />
<polyline points="149.69,273.2 157.88,273 166.06,272.7 174.24,272.5 182.43,272.2 190.61,272.2 198.79,272.2 206.98,272.2 215.16,272.7 223.34,274.2 231.53,274.2 239.71,274.2" fill="none" stroke="#90b000" stroke-width="1.3" stroke-opacity="0.8" stroke-linejoin="round" />
<polyline points="149.69,274.3 157.88,274.1 166.06,273.8 174.24,273.6 182.43,273.3 190.61,273.3 198.79,273.3 206.98,273.3 215.16,273.8 223.34,275.3 231.53,275.3 239.71,275.3" fill="none" stroke="#b0c020" stroke-width="1.0" stroke-opacity="0.6" stroke-linejoin="round" />
<polyline points="149.69,271.5 157.88,271.3 166.06,271 174.24,270.8 182.43,270.5 190.61,270.5 198.79,270.5 206.98,270.5 215.16,271 223.34,272.5 231.53,272.5 239.71,272.5" fill="none" stroke="#303000" stroke-width="0.9" stroke-opacity="1.0" stroke-linejoin="round" />
</g>
<text x="239" y="238.6" font-size="6.2" font-weight="bold" text-anchor="end" fill="#111" font-family="Liberation Sans, sans-serif">M4</text>
<text x="239.2" y="243.9" font-size="3.2" font-weight="bold" text-anchor="end" fill="#222" font-family="Liberation Sans, sans-serif">105 genes</text>
<text x="143.1" y="240.8" font-size="3.6" text-anchor="end" fill="#444" stroke="#444" stroke-width="0.2" font-family="Liberation Sans, sans-serif">4,000</text>
<line x1="144.1" y1="239.5" x2="145.6" y2="239.5" stroke="#888" stroke-width="0.4"/>
<text x="143.1" y="250.2" font-size="3.6" text-anchor="end" fill="#444" stroke="#444" stroke-width="0.2" font-family="Liberation Sans, sans-serif">3,000</text>
<line x1="144.1" y1="248.9" x2="145.6" y2="248.9" stroke="#888" stroke-width="0.4"/>
<text x="143.1" y="259.3" font-size="3.6" text-anchor="end" fill="#444" stroke="#444" stroke-width="0.2" font-family="Liberation Sans, sans-serif">2,000</text>
<line x1="144.1" y1="258" x2="145.6" y2="258" stroke="#888" stroke-width="0.4"/>
<text x="143.1" y="267.9" font-size="3.6" text-anchor="end" fill="#444" stroke="#444" stroke-width="0.2" font-family="Liberation Sans, sans-serif">1,000</text>
<line x1="144.1" y1="266.6" x2="145.6" y2="266.6" stroke="#888" stroke-width="0.4"/>
<text x="143.1" y="276.3" font-size="3.6" text-anchor="end" fill="#444" stroke="#444" stroke-width="0.2" font-family="Liberation Sans, sans-serif">0</text>
<line x1="144.1" y1="275" x2="145.6" y2="275" stroke="#888" stroke-width="0.4"/>
<rect x="145.6" y="278.6" width="8.78" height="43.7" fill="#fccbc8" />
<rect x="153.78" y="278.6" width="8.78" height="43.7" fill="#f6d0a5" />
<rect x="161.97" y="278.6" width="8.78" height="43.7" fill="#e9d9a2" />
<rect x="170.15" y="278.6" width="8.78" height="43.7" fill="#cfe4a6" />
<rect x="178.33" y="278.6" width="8.78" height="43.7" fill="#9ee6c2" />
<rect x="186.52" y="278.6" width="8.78" height="43.7" fill="#9de8da" />
<rect x="194.7" y="278.6" width="8.78" height="43.7" fill="#9ee6ec" />
<rect x="202.88" y="278.6" width="8.78" height="43.7" fill="#a2ddf5" />
<rect x="211.07" y="278.6" width="8.78" height="43.7" fill="#c8d5f7" />
<rect x="219.25" y="278.6" width="8.78" height="43.7" fill="#ebcdf7" />
<rect x="227.43" y="278.6" width="8.78" height="43.7" fill="#f9c6ef" />
<rect x="235.62" y="278.6" width="8.18" height="43.7" fill="#fcc7e2" />
<g clip-path="url(#cp1060)">
<clipPath id="cp1060"><rect x="145.6" y="278.6" width="98.2" height="43.4"/></clipPath>
<polyline points="149.69,302.85 157.88,302.89 166.06,302.38 174.24,309.34 182.43,307.48 190.61,307.66 198.79,309.3 206.98,308.3 215.16,309.53 223.34,313.28 231.53,311.11 239.71,311.81" fill="none" stroke="#909090" stroke-width="0.255" stroke-opacity="0.27" stroke-linejoin="round" />
<polyline points="149.69,305.42 157.88,306.92 166.06,304.63 174.24,310.82 182.43,309.8 190.61,309.92 198.79,313 206.98,310.06 215.16,312.85 223.34,315.24 231.53,313.82 239.71,311.95" fill="none" stroke="#909090" stroke-width="0.255" stroke-opacity="0.27" stroke-linejoin="round" />
<polyline points="149.69,302.52 157.88,301.43 166.06,303.39 174.24,307.5 182.43,308.15 190.61,306.84 198.79,309.24 206.98,310.15 215.16,312.31 223.34,312.05 231.53,311.98 239.71,311.03" fill="none" stroke="#909090" stroke-width="0.255" stroke-opacity="0.27" stroke-linejoin="round" />
<polyline points="149.69,302.56 157.88,305.24 166.06,303.89 174.24,308.38 182.43,307.94 190.61,307.38 198.79,311.99 206.98,310.24 215.16,312.33 223.34,313.23 231.53,312.54 239.71,309.74" fill="none" stroke="#909090" stroke-width="0.255" stroke-opacity="0.27" stroke-linejoin="round" />
<polyline points="149.69,304.97 157.88,305.07 166.06,304.83 174.24,310.72 182.43,310.47 190.61,309.06 198.79,309.7 206.98,309.79 215.16,311.29 223.34,314.32 231.53,313.35 239.71,312.01" fill="none" stroke="#909090" stroke-width="0.255" stroke-opacity="0.27" stroke-linejoin="round" />
<polyline points="149.69,304.76 157.88,301.72 166.06,302.87 174.24,308.72 182.43,308.11 190.61,308.19 198.79,309.85 206.98,310.62 215.16,311.88 223.34,311.76 231.53,311.41 239.71,309.76" fill="none" stroke="#909090" stroke-width="0.255" stroke-opacity="0.27" stroke-linejoin="round" />
<polyline points="149.69,305.15 157.88,304.02 166.06,304.93 174.24,308.24 182.43,309.72 190.61,307.87 198.79,310.39 206.98,310.97 215.16,312.56 223.34,314.18 231.53,310.75 239.71,310.93" fill="none" stroke="#909090" stroke-width="0.255" stroke-opacity="0.27" stroke-linejoin="round" />
<polyline points="149.69,302.02 157.88,303.09 166.06,303.14 174.24,309.61 182.43,309.88 190.61,306.67 198.79,311.33 206.98,310.35 215.16,310.22 223.34,311.37 231.53,312.05 239.71,309.23" fill="none" stroke="#909090" stroke-width="0.255" stroke-opacity="0.27" stroke-linejoin="round" />
<polyline points="149.69,304.62 157.88,305.57 166.06,304.81 174.24,308.85 182.43,310.04 190.61,307.19 198.79,312.22 206.98,311.2 215.16,311.33 223.34,314.74 231.53,311.17 239.71,309.81" fill="none" stroke="#909090" stroke-width="0.255" stroke-opacity="0.27" stroke-linejoin="round" />
<polyline points="149.69,308.39 157.88,305.98 166.06,307.66 174.24,310.46 182.43,312.2 190.61,309.82 198.79,312.39 206.98,312.91 215.16,314.48 223.34,315.68 231.53,312.62 239.71,312.96" fill="none" stroke="#909090" stroke-width="0.255" stroke-opacity="0.27" stroke-linejoin="round" />
<polyline points="149.69,301.15 157.88,300.01 166.06,301.89 174.24,305.79 182.43,303.98 190.61,303.54 198.79,306.31 206.98,306.14 215.16,309.37 223.34,310.47 231.53,310.84 239.71,309.1" fill="none" stroke="#a0a0a0" stroke-width="0.255" stroke-opacity="0.24" stroke-linejoin="round" />
<polyline points="149.69,298.87 157.88,300.72 166.06,298.39 174.24,304.56 182.43,307.39 190.61,302.87 198.79,309.19 206.98,305.67 215.16,309.96 223.34,310.14 231.53,310.55 239.71,310.63" fill="none" stroke="#a0a0a0" stroke-width="0.255" stroke-opacity="0.24" stroke-linejoin="round" />
<polyline points="149.69,297.02 157.88,296.32 166.06,293.33 174.24,301.58 182.43,297.2 190.61,297.68 198.79,303.98 206.98,303.38 215.16,305.57 223.34,310.83 231.53,308.92 239.71,308.16" fill="none" stroke="#a0a0a0" stroke-width="0.255" stroke-opacity="0.24" stroke-linejoin="round" />
<polyline points="149.69,300.13 157.88,296.32 166.06,295.35 174.24,302.05 182.43,295.68 190.61,297.48 198.79,303.99 206.98,300.66 215.16,304.53 223.34,307.87 231.53,305.56 239.71,303.74" fill="none" stroke="#a0a0a0" stroke-width="0.255" stroke-opacity="0.24" stroke-linejoin="round" />
<polyline points="149.69,299.05 157.88,298.13 166.06,297.69 174.24,303.26 182.43,304.03 190.61,302.47 198.79,305.27 206.98,308.05 215.16,306.55 223.34,308.45 231.53,307.66 239.71,308.04" fill="none" stroke="#a0a0a0" stroke-width="0.255" stroke-opacity="0.24" stroke-linejoin="round" />
<polyline points="149.69,303 157.88,303 166.06,303.2 174.24,309 182.43,309 190.61,308 198.79,311 206.98,310.5 215.16,311.6 223.34,313.6 231.53,312.6 239.71,311.4" fill="none" stroke="#333333" stroke-width="0.9" stroke-opacity="1.0" stroke-linejoin="round" />
</g>
<text x="239" y="284.9" font-size="6.2" font-weight="bold" text-anchor="end" fill="#111" font-family="Liberation Sans, sans-serif">M5</text>
<text x="239.2" y="290.2" font-size="3.2" font-weight="bold" text-anchor="end" fill="#222" font-family="Liberation Sans, sans-serif">21 genes</text>
<text x="143.1" y="290.1" font-size="3.6" text-anchor="end" fill="#444" stroke="#444" stroke-width="0.2" font-family="Liberation Sans, sans-serif">600</text>
<line x1="144.1" y1="288.8" x2="145.6" y2="288.8" stroke="#888" stroke-width="0.4"/>
<text x="143.1" y="301.2" font-size="3.6" text-anchor="end" fill="#444" stroke="#444" stroke-width="0.2" font-family="Liberation Sans, sans-serif">400</text>
<line x1="144.1" y1="299.9" x2="145.6" y2="299.9" stroke="#888" stroke-width="0.4"/>
<text x="143.1" y="312.3" font-size="3.6" text-anchor="end" fill="#444" stroke="#444" stroke-width="0.2" font-family="Liberation Sans, sans-serif">200</text>
<line x1="144.1" y1="311" x2="145.6" y2="311" stroke="#888" stroke-width="0.4"/>
<text x="143.1" y="323.4" font-size="3.6" text-anchor="end" fill="#444" stroke="#444" stroke-width="0.2" font-family="Liberation Sans, sans-serif">0</text>
<line x1="144.1" y1="322.1" x2="145.6" y2="322.1" stroke="#888" stroke-width="0.4"/>
<line x1="149.69" y1="322.6" x2="149.69" y2="323.9" stroke="#888" stroke-width="0.4"/>
<line x1="157.88" y1="322.6" x2="157.88" y2="323.9" stroke="#888" stroke-width="0.4"/>
<line x1="166.06" y1="322.6" x2="166.06" y2="323.9" stroke="#888" stroke-width="0.4"/>
<line x1="174.24" y1="322.6" x2="174.24" y2="323.9" stroke="#888" stroke-width="0.4"/>
<line x1="182.43" y1="322.6" x2="182.43" y2="323.9" stroke="#888" stroke-width="0.4"/>
<line x1="190.61" y1="322.6" x2="190.61" y2="323.9" stroke="#888" stroke-width="0.4"/>
<line x1="198.79" y1="322.6" x2="198.79" y2="323.9" stroke="#888" stroke-width="0.4"/>
<line x1="206.98" y1="322.6" x2="206.98" y2="323.9" stroke="#888" stroke-width="0.4"/>
<line x1="215.16" y1="322.6" x2="215.16" y2="323.9" stroke="#888" stroke-width="0.4"/>
<line x1="223.34" y1="322.6" x2="223.34" y2="323.9" stroke="#888" stroke-width="0.4"/>
<line x1="231.53" y1="322.6" x2="231.53" y2="323.9" stroke="#888" stroke-width="0.4"/>
<line x1="239.71" y1="322.6" x2="239.71" y2="323.9" stroke="#888" stroke-width="0.4"/>
<text transform="translate(18.87,115.3) rotate(-90)" stroke="#111" stroke-width="0.3" font-size="6.3" font-weight="bold" text-anchor="middle" textLength="47.4" lengthAdjust="spacingAndGlyphs" fill="#111" font-family="Liberation Sans, sans-serif">Gene expression</text>
<text transform="translate(138.57,115.3) rotate(-90)" stroke="#111" stroke-width="0.3" font-size="6.3" font-weight="bold" text-anchor="middle" textLength="47.4" lengthAdjust="spacingAndGlyphs" fill="#111" font-family="Liberation Sans, sans-serif">Gene expression</text>
<text transform="translate(257.47,114.8) rotate(-90)" stroke="#111" stroke-width="0.3" font-size="6.3" font-weight="bold" text-anchor="middle" textLength="47.4" lengthAdjust="spacingAndGlyphs" fill="#111" font-family="Liberation Sans, sans-serif">Gene expression</text>
<text transform="translate(18.62,293.6) rotate(-90)" stroke="#111" stroke-width="0.3" font-size="5.6" font-weight="bold" text-anchor="middle" textLength="41.5" lengthAdjust="spacingAndGlyphs" fill="#111" font-family="Liberation Sans, sans-serif">Gene expression</text>
<text transform="translate(133.22,277.8) rotate(-90)" stroke="#111" stroke-width="0.3" font-size="5.6" font-weight="bold" text-anchor="middle" textLength="42.7" lengthAdjust="spacingAndGlyphs" fill="#111" font-family="Liberation Sans, sans-serif">Gene expression</text>
<text x="10.5" y="34.5" font-size="11.8" textLength="17.1" lengthAdjust="spacingAndGlyphs" fill="#111" font-family="Liberation Serif, serif">(A)</text>
<text x="11.3" y="219.8" font-size="11.4" textLength="17.4" lengthAdjust="spacingAndGlyphs" fill="#111" font-family="Liberation Serif, serif">(B)</text>
<text x="370.5" y="37.2" font-size="11.8" textLength="16.7" lengthAdjust="spacingAndGlyphs" fill="#111" font-family="Liberation Serif, serif">(C)</text>
<text x="250.4" y="225.5" font-size="11.8" textLength="17.2" lengthAdjust="spacingAndGlyphs" fill="#111" font-family="Liberation Serif, serif">(D)</text>
<text x="382.8" y="47.8" font-size="4.3" font-weight="bold" text-anchor="end" fill="#222" stroke="#222" stroke-width="0.2" font-family="Liberation Sans, sans-serif">M8</text>
<circle cx="391.3" cy="46.2" r="3.85" fill="#f6a888" stroke="#ffffff" stroke-width="0.25"/>
<circle cx="401.2" cy="46.2" r="4.05" fill="#6bb6db" stroke="#ffffff" stroke-width="0.25"/>
<circle cx="421" cy="46.2" r="5.25" fill="#e34a33" stroke="#ffffff" stroke-width="0.25"/>
<circle cx="430.9" cy="46.2" r="4.45" fill="#4aa8d6" stroke="#ffffff" stroke-width="0.25"/>
<circle cx="440.8" cy="46.2" r="4.25" fill="#6bb6db" stroke="#ffffff" stroke-width="0.25"/>
<circle cx="450.7" cy="46.2" r="5.25" fill="#1a80bc" stroke="#ffffff" stroke-width="0.25"/>
<circle cx="470.5" cy="46.2" r="4.25" fill="#5ab0d8" stroke="#ffffff" stroke-width="0.25"/>
<circle cx="500.2" cy="46.2" r="4.45" fill="#ee7a5a" stroke="#ffffff" stroke-width="0.25"/>
<text x="382.8" y="62.48" font-size="4.3" font-weight="bold" text-anchor="end" fill="#222" stroke="#222" stroke-width="0.2" font-family="Liberation Sans, sans-serif">M1</text>
<circle cx="391.3" cy="60.88" r="4.55" fill="#f08a6a" stroke="#ffffff" stroke-width="0.25"/>
<circle cx="401.2" cy="60.88" r="3.95" fill="#f9b49a" stroke="#ffffff" stroke-width="0.25"/>
<circle cx="411.1" cy="60.88" r="4.05" fill="#f6a688" stroke="#ffffff" stroke-width="0.25"/>
<circle cx="440.8" cy="60.88" r="3.55" fill="#8fc8e4" stroke="#ffffff" stroke-width="0.25"/>
<circle cx="460.6" cy="60.88" r="3.45" fill="#a9d4ea" stroke="#ffffff" stroke-width="0.25"/>
<circle cx="470.5" cy="60.88" r="3.75" fill="#7cc0e0" stroke="#ffffff" stroke-width="0.25"/>
<circle cx="490.3" cy="60.88" r="5.05" fill="#1f87c0" stroke="#ffffff" stroke-width="0.25"/>
<text x="382.8" y="77.16" font-size="4.3" font-weight="bold" text-anchor="end" fill="#222" stroke="#222" stroke-width="0.2" font-family="Liberation Sans, sans-serif">M4</text>
<circle cx="391.3" cy="75.56" r="4.25" fill="#f4906f" stroke="#ffffff" stroke-width="0.25"/>
<circle cx="401.2" cy="75.56" r="3.55" fill="#fab89e" stroke="#ffffff" stroke-width="0.25"/>
<circle cx="411.1" cy="75.56" r="4.25" fill="#f4906f" stroke="#ffffff" stroke-width="0.25"/>
<circle cx="430.9" cy="75.56" r="5.25" fill="#1272b0" stroke="#ffffff" stroke-width="0.25"/>
<circle cx="440.8" cy="75.56" r="4.75" fill="#1c8ac2" stroke="#ffffff" stroke-width="0.25"/>
<circle cx="450.7" cy="75.56" r="4.75" fill="#1e90c6" stroke="#ffffff" stroke-width="0.25"/>
<circle cx="460.6" cy="75.56" r="5.25" fill="#1878b5" stroke="#ffffff" stroke-width="0.25"/>
<circle cx="480.4" cy="75.56" r="3.75" fill="#f9b49a" stroke="#ffffff" stroke-width="0.25"/>
<circle cx="490.3" cy="75.56" r="4.45" fill="#f28a6c" stroke="#ffffff" stroke-width="0.25"/>
<circle cx="500.2" cy="75.56" r="3.95" fill="#f7a888" stroke="#ffffff" stroke-width="0.25"/>
<text x="382.8" y="91.84" font-size="4.3" font-weight="bold" text-anchor="end" fill="#222" stroke="#222" stroke-width="0.2" font-family="Liberation Sans, sans-serif">M2</text>
<circle cx="421" cy="90.24" r="3.45" fill="#a9d4ea" stroke="#ffffff" stroke-width="0.25"/>
<circle cx="440.8" cy="90.24" r="4.45" fill="#3a9ed0" stroke="#ffffff" stroke-width="0.25"/>
<circle cx="450.7" cy="90.24" r="3.75" fill="#8fc8e4" stroke="#ffffff" stroke-width="0.25"/>
<circle cx="460.6" cy="90.24" r="3.75" fill="#8fc8e4" stroke="#ffffff" stroke-width="0.25"/>
<circle cx="470.5" cy="90.24" r="5.55" fill="#c8102e" stroke="#ffffff" stroke-width="0.25"/>
<circle cx="480.4" cy="90.24" r="4.25" fill="#f6a285" stroke="#ffffff" stroke-width="0.25"/>
<circle cx="490.3" cy="90.24" r="5.55" fill="#c8102e" stroke="#ffffff" stroke-width="0.25"/>
<circle cx="500.2" cy="90.24" r="4.05" fill="#f4906f" stroke="#ffffff" stroke-width="0.25"/>
<text x="382.8" y="106.52" font-size="4.3" font-weight="bold" text-anchor="end" fill="#222" stroke="#222" stroke-width="0.2" font-family="Liberation Sans, sans-serif">M5</text>
<circle cx="391.3" cy="104.92" r="4.05" fill="#f8b093" stroke="#ffffff" stroke-width="0.25"/>
<circle cx="401.2" cy="104.92" r="3.65" fill="#fab89e" stroke="#ffffff" stroke-width="0.25"/>
<circle cx="411.1" cy="104.92" r="4.05" fill="#f6a486" stroke="#ffffff" stroke-width="0.25"/>
<circle cx="421" cy="104.92" r="3.45" fill="#a9d4ea" stroke="#ffffff" stroke-width="0.25"/>
<circle cx="430.9" cy="104.92" r="4.25" fill="#f4906f" stroke="#ffffff" stroke-width="0.25"/>
<circle cx="440.8" cy="104.92" r="4.75" fill="#ef6f52" stroke="#ffffff" stroke-width="0.25"/>
<circle cx="450.7" cy="104.92" r="4.45" fill="#f6a083" stroke="#ffffff" stroke-width="0.25"/>
<circle cx="460.6" cy="104.92" r="5.05" fill="#e8553e" stroke="#ffffff" stroke-width="0.25"/>
<circle cx="470.5" cy="104.92" r="4.45" fill="#3ea2d0" stroke="#ffffff" stroke-width="0.25"/>
<circle cx="490.3" cy="104.92" r="5.25" fill="#1a73b2" stroke="#ffffff" stroke-width="0.25"/>
<circle cx="500.2" cy="104.92" r="5.75" fill="#0b5da3" stroke="#ffffff" stroke-width="0.25"/>
<text x="382.8" y="121.2" font-size="4.3" font-weight="bold" text-anchor="end" fill="#222" stroke="#222" stroke-width="0.2" font-family="Liberation Sans, sans-serif">M11</text>
<circle cx="391.3" cy="119.6" r="5.05" fill="#2897cc" stroke="#ffffff" stroke-width="0.25"/>
<circle cx="401.2" cy="119.6" r="5.05" fill="#2897cc" stroke="#ffffff" stroke-width="0.25"/>
<circle cx="411.1" cy="119.6" r="5.05" fill="#2897cc" stroke="#ffffff" stroke-width="0.25"/>
<circle cx="430.9" cy="119.6" r="4.05" fill="#8fc8e4" stroke="#ffffff" stroke-width="0.25"/>
<circle cx="440.8" cy="119.6" r="4.85" fill="#ef6548" stroke="#ffffff" stroke-width="0.25"/>
<circle cx="460.6" cy="119.6" r="5.05" fill="#ea5a45" stroke="#ffffff" stroke-width="0.25"/>
<text x="382.8" y="135.88" font-size="4.3" font-weight="bold" text-anchor="end" fill="#222" stroke="#222" stroke-width="0.2" font-family="Liberation Sans, sans-serif">M10</text>
<circle cx="391.3" cy="134.28" r="5.05" fill="#2a98cc" stroke="#ffffff" stroke-width="0.25"/>
<circle cx="401.2" cy="134.28" r="5.25" fill="#1a78b6" stroke="#ffffff" stroke-width="0.25"/>
<circle cx="411.1" cy="134.28" r="5.25" fill="#2590c6" stroke="#ffffff" stroke-width="0.25"/>
<circle cx="430.9" cy="134.28" r="4.75" fill="#f06a4f" stroke="#ffffff" stroke-width="0.25"/>
<circle cx="450.7" cy="134.28" r="3.75" fill="#f9b49a" stroke="#ffffff" stroke-width="0.25"/>
<circle cx="460.6" cy="134.28" r="4.05" fill="#f6a486" stroke="#ffffff" stroke-width="0.25"/>
<circle cx="470.5" cy="134.28" r="5.25" fill="#d73027" stroke="#ffffff" stroke-width="0.25"/>
<circle cx="480.4" cy="134.28" r="5.25" fill="#1a75b5" stroke="#ffffff" stroke-width="0.25"/>
<circle cx="500.2" cy="134.28" r="3.75" fill="#f9b49a" stroke="#ffffff" stroke-width="0.25"/>
<text x="382.8" y="150.56" font-size="4.3" font-weight="bold" text-anchor="end" fill="#222" stroke="#222" stroke-width="0.2" font-family="Liberation Sans, sans-serif">M9</text>
<circle cx="391.3" cy="148.96" r="5.05" fill="#2f9ccf" stroke="#ffffff" stroke-width="0.25"/>
<circle cx="401.2" cy="148.96" r="5.45" fill="#1874b3" stroke="#ffffff" stroke-width="0.25"/>
<circle cx="411.1" cy="148.96" r="5.25" fill="#2590c6" stroke="#ffffff" stroke-width="0.25"/>
<circle cx="430.9" cy="148.96" r="5.05" fill="#ee6447" stroke="#ffffff" stroke-width="0.25"/>
<circle cx="440.8" cy="148.96" r="4.75" fill="#f4906f" stroke="#ffffff" stroke-width="0.25"/>
<circle cx="450.7" cy="148.96" r="4.75" fill="#f4906f" stroke="#ffffff" stroke-width="0.25"/>
<circle cx="460.6" cy="148.96" r="5.25" fill="#e84a3a" stroke="#ffffff" stroke-width="0.25"/>
<circle cx="480.4" cy="148.96" r="4.75" fill="#2d92c8" stroke="#ffffff" stroke-width="0.25"/>
<circle cx="490.3" cy="148.96" r="4.05" fill="#8fc8e4" stroke="#ffffff" stroke-width="0.25"/>
<circle cx="500.2" cy="148.96" r="4.45" fill="#5ab0d8" stroke="#ffffff" stroke-width="0.25"/>
<text x="382.8" y="165.24" font-size="4.3" font-weight="bold" text-anchor="end" fill="#222" stroke="#222" stroke-width="0.2" font-family="Liberation Sans, sans-serif">M12</text>
<circle cx="391.3" cy="163.64" r="4.25" fill="#5ab4dc" stroke="#ffffff" stroke-width="0.25"/>
<circle cx="401.2" cy="163.64" r="4.45" fill="#5ab4dc" stroke="#ffffff" stroke-width="0.25"/>
<circle cx="411.1" cy="163.64" r="4.25" fill="#5ab4dc" stroke="#ffffff" stroke-width="0.25"/>
<circle cx="430.9" cy="163.64" r="4.25" fill="#f6a083" stroke="#ffffff" stroke-width="0.25"/>
<circle cx="440.8" cy="163.64" r="4.85" fill="#ef6f52" stroke="#ffffff" stroke-width="0.25"/>
<circle cx="450.7" cy="163.64" r="5.45" fill="#d73027" stroke="#ffffff" stroke-width="0.25"/>
<circle cx="460.6" cy="163.64" r="5.25" fill="#e34a33" stroke="#ffffff" stroke-width="0.25"/>
<circle cx="470.5" cy="163.64" r="4.05" fill="#8fc8e4" stroke="#ffffff" stroke-width="0.25"/>
<circle cx="480.4" cy="163.64" r="6.05" fill="#0c5aa0" stroke="#ffffff" stroke-width="0.25"/>
<circle cx="490.3" cy="163.64" r="4.75" fill="#3ea6d4" stroke="#ffffff" stroke-width="0.25"/>
<circle cx="500.2" cy="163.64" r="4.95" fill="#1a8cc8" stroke="#ffffff" stroke-width="0.25"/>
<text x="382.8" y="179.92" font-size="4.3" font-weight="bold" text-anchor="end" fill="#222" stroke="#222" stroke-width="0.2" font-family="Liberation Sans, sans-serif">M7</text>
<circle cx="391.3" cy="178.32" r="5.25" fill="#2388c5" stroke="#ffffff" stroke-width="0.25"/>
<circle cx="401.2" cy="178.32" r="6.05" fill="#0e4f91" stroke="#ffffff" stroke-width="0.25"/>
<circle cx="411.1" cy="178.32" r="5.55" fill="#1a76b6" stroke="#ffffff" stroke-width="0.25"/>
<circle cx="430.9" cy="178.32" r="3.65" fill="#a9d4ea" stroke="#ffffff" stroke-width="0.25"/>
<circle cx="440.8" cy="178.32" r="4.25" fill="#7cc0e0" stroke="#ffffff" stroke-width="0.25"/>
<circle cx="450.7" cy="178.32" r="4.05" fill="#f6a486" stroke="#ffffff" stroke-width="0.25"/>
<circle cx="460.6" cy="178.32" r="5.25" fill="#dc3b30" stroke="#ffffff" stroke-width="0.25"/>
<circle cx="470.5" cy="178.32" r="5.55" fill="#d73027" stroke="#ffffff" stroke-width="0.25"/>
<circle cx="490.3" cy="178.32" r="4.45" fill="#4aa8d6" stroke="#ffffff" stroke-width="0.25"/>
<circle cx="500.2" cy="178.32" r="4.85" fill="#ef6548" stroke="#ffffff" stroke-width="0.25"/>
<text x="382.8" y="194.6" font-size="4.3" font-weight="bold" text-anchor="end" fill="#222" stroke="#222" stroke-width="0.2" font-family="Liberation Sans, sans-serif">M6</text>
<circle cx="391.3" cy="193" r="5.05" fill="#2a9ad0" stroke="#ffffff" stroke-width="0.25"/>
<circle cx="401.2" cy="193" r="5.85" fill="#1460a5" stroke="#ffffff" stroke-width="0.25"/>
<circle cx="411.1" cy="193" r="5.55" fill="#1a7ab8" stroke="#ffffff" stroke-width="0.25"/>
<circle cx="421" cy="193" r="5.05" fill="#ef6548" stroke="#ffffff" stroke-width="0.25"/>
<circle cx="430.9" cy="193" r="3.75" fill="#a9d4ea" stroke="#ffffff" stroke-width="0.25"/>
<circle cx="440.8" cy="193" r="3.85" fill="#8fc8e4" stroke="#ffffff" stroke-width="0.25"/>
<circle cx="450.7" cy="193" r="5.85" fill="#b2182b" stroke="#ffffff" stroke-width="0.25"/>
<circle cx="460.6" cy="193" r="5.85" fill="#c1272d" stroke="#ffffff" stroke-width="0.25"/>
<circle cx="470.5" cy="193" r="3.75" fill="#f9b49a" stroke="#ffffff" stroke-width="0.25"/>
<circle cx="490.3" cy="193" r="4.45" fill="#4aa8d6" stroke="#ffffff" stroke-width="0.25"/>
<circle cx="500.2" cy="193" r="4.05" fill="#8fc8e4" stroke="#ffffff" stroke-width="0.25"/>
<text x="382.8" y="209.28" font-size="4.3" font-weight="bold" text-anchor="end" fill="#222" stroke="#222" stroke-width="0.2" font-family="Liberation Sans, sans-serif">M3</text>
<circle cx="391.3" cy="207.68" r="5.75" fill="#12559c" stroke="#ffffff" stroke-width="0.25"/>
<circle cx="411.1" cy="207.68" r="6.25" fill="#08306b" stroke="#ffffff" stroke-width="0.25"/>
<circle cx="421" cy="207.68" r="3.75" fill="#8fc8e4" stroke="#ffffff" stroke-width="0.25"/>
<circle cx="440.8" cy="207.68" r="3.75" fill="#f9b49a" stroke="#ffffff" stroke-width="0.25"/>
<circle cx="450.7" cy="207.68" r="4.45" fill="#f4906f" stroke="#ffffff" stroke-width="0.25"/>
<circle cx="470.5" cy="207.68" r="6.05" fill="#9e0e26" stroke="#ffffff" stroke-width="0.25"/>
<circle cx="480.4" cy="207.68" r="3.55" fill="#fab89e" stroke="#ffffff" stroke-width="0.25"/>
<circle cx="490.3" cy="207.68" r="5.05" fill="#e34a33" stroke="#ffffff" stroke-width="0.25"/>
<circle cx="500.2" cy="207.68" r="4.25" fill="#f7a888" stroke="#ffffff" stroke-width="0.25"/>
<text transform="translate(392.8,39.5) rotate(-90)" font-size="4.3" font-weight="bold" fill="#333" stroke="#333" stroke-width="0.12" font-family="Liberation Sans, sans-serif">Root_0h</text>
<text transform="translate(402.7,39.5) rotate(-90)" font-size="4.3" font-weight="bold" fill="#333" stroke="#333" stroke-width="0.12" font-family="Liberation Sans, sans-serif">Root_12h</text>
<text transform="translate(412.6,39.5) rotate(-90)" font-size="4.3" font-weight="bold" fill="#333" stroke="#333" stroke-width="0.12" font-family="Liberation Sans, sans-serif">Root_18h</text>
<text transform="translate(422.5,39.5) rotate(-90)" font-size="4.3" font-weight="bold" fill="#333" stroke="#333" stroke-width="0.12" font-family="Liberation Sans, sans-serif">Root_6h</text>
<text transform="translate(432.4,39.5) rotate(-90)" font-size="4.3" font-weight="bold" fill="#333" stroke="#333" stroke-width="0.12" font-family="Liberation Sans, sans-serif">Shoot_0h</text>
<text transform="translate(442.3,39.5) rotate(-90)" font-size="4.3" font-weight="bold" fill="#333" stroke="#333" stroke-width="0.12" font-family="Liberation Sans, sans-serif">Shoot_12h</text>
<text transform="translate(452.2,39.5) rotate(-90)" font-size="4.3" font-weight="bold" fill="#333" stroke="#333" stroke-width="0.12" font-family="Liberation Sans, sans-serif">Shoot_18h</text>
<text transform="translate(462.1,39.5) rotate(-90)" font-size="4.3" font-weight="bold" fill="#333" stroke="#333" stroke-width="0.12" font-family="Liberation Sans, sans-serif">Shoot_6h</text>
<text transform="translate(472,39.5) rotate(-90)" font-size="4.3" font-weight="bold" fill="#333" stroke="#333" stroke-width="0.12" font-family="Liberation Sans, sans-serif">ShootApex_0h</text>
<text transform="translate(481.9,39.5) rotate(-90)" font-size="4.3" font-weight="bold" fill="#333" stroke="#333" stroke-width="0.12" font-family="Liberation Sans, sans-serif">ShootApex_12h</text>
<text transform="translate(491.8,39.5) rotate(-90)" font-size="4.3" font-weight="bold" fill="#333" stroke="#333" stroke-width="0.12" font-family="Liberation Sans, sans-serif">ShootApex_18h</text>
<text transform="translate(501.7,39.5) rotate(-90)" font-size="4.3" font-weight="bold" fill="#333" stroke="#333" stroke-width="0.12" font-family="Liberation Sans, sans-serif">ShootApex_6h</text>
<text x="511" y="37.9" font-size="7.4" fill="#1e2a36" stroke="#1e2a36" stroke-width="0.12" font-family="Liberation Sans, sans-serif">NES</text>
<defs>
<linearGradient id="gC" x1="0" y1="0" x2="0" y2="1">
<stop offset="0" stop-color="#6a0018"/><stop offset="0.13" stop-color="#c0142a"/><stop offset="0.25" stop-color="#dc3a36"/>
<stop offset="0.37" stop-color="#f4957a"/><stop offset="0.45" stop-color="#fcdccf"/><stop offset="0.5" stop-color="#f8f8f8"/>
<stop offset="0.56" stop-color="#d0e8f4"/><stop offset="0.66" stop-color="#6cbce2"/><stop offset="0.76" stop-color="#1a90cc"/>
<stop offset="0.87" stop-color="#0a62a6"/><stop offset="1" stop-color="#082e68"/>
</linearGradient></defs>
<rect x="510.8" y="42.9" width="12.3" height="58.8" fill="url(#gC)"/>
<line x1="510.8" y1="46.3" x2="513.2" y2="46.3" stroke="#fff" stroke-width="0.5"/><line x1="520.7" y1="46.3" x2="523.1" y2="46.3" stroke="#fff" stroke-width="0.5"/>
<text x="526.3" y="48.4" font-size="5.7" fill="#2a3540" stroke="#2a3540" stroke-width="0.08" font-family="Liberation Sans, sans-serif">5.0</text>
<line x1="510.8" y1="59.8" x2="513.2" y2="59.8" stroke="#fff" stroke-width="0.5"/><line x1="520.7" y1="59.8" x2="523.1" y2="59.8" stroke="#fff" stroke-width="0.5"/>
<text x="526.3" y="61.9" font-size="5.7" fill="#2a3540" stroke="#2a3540" stroke-width="0.08" font-family="Liberation Sans, sans-serif">2.5</text>
<line x1="510.8" y1="72.8" x2="513.2" y2="72.8" stroke="#fff" stroke-width="0.5"/><line x1="520.7" y1="72.8" x2="523.1" y2="72.8" stroke="#fff" stroke-width="0.5"/>
<text x="526.3" y="74.9" font-size="5.7" fill="#2a3540" stroke="#2a3540" stroke-width="0.08" font-family="Liberation Sans, sans-serif">0.0</text>
<line x1="510.8" y1="86" x2="513.2" y2="86" stroke="#fff" stroke-width="0.5"/><line x1="520.7" y1="86" x2="523.1" y2="86" stroke="#fff" stroke-width="0.5"/>
<text x="523.6" y="88.1" font-size="5.7" fill="#2a3540" stroke="#2a3540" stroke-width="0.08" font-family="Liberation Sans, sans-serif">−2.5</text>
<line x1="510.8" y1="99" x2="513.2" y2="99" stroke="#fff" stroke-width="0.5"/><line x1="520.7" y1="99" x2="523.1" y2="99" stroke="#fff" stroke-width="0.5"/>
<text x="523.6" y="101.1" font-size="5.7" fill="#2a3540" stroke="#2a3540" stroke-width="0.08" font-family="Liberation Sans, sans-serif">−5.0</text>
<text x="255.6" y="247.4" font-size="5.4" font-weight="bold" fill="#1a1a1a" stroke="#1a1a1a" stroke-width="0.2" font-family="Liberation Sans, sans-serif">M4</text>
<circle cx="277.4" cy="245.5" r="7.9" fill="#7fc1e0" stroke="#ffffff" stroke-width="0.35"/>
<circle cx="297.14" cy="245.5" r="8.8" fill="#4aa8d6" stroke="#ffffff" stroke-width="0.35"/>
<circle cx="336.62" cy="245.5" r="8.5" fill="#f4886b" stroke="#ffffff" stroke-width="0.35"/>
<circle cx="356.36" cy="245.5" r="7.4" fill="#f9ad93" stroke="#ffffff" stroke-width="0.35"/>
<circle cx="376.1" cy="245.5" r="8.2" fill="#f59475" stroke="#ffffff" stroke-width="0.35"/>
<circle cx="395.84" cy="245.5" r="8.7" fill="#f47e62" stroke="#ffffff" stroke-width="0.35"/>
<circle cx="415.58" cy="245.5" r="7.7" fill="#f9b09a" stroke="#ffffff" stroke-width="0.35"/>
<circle cx="435.32" cy="245.5" r="9" fill="#f47c60" stroke="#ffffff" stroke-width="0.35"/>
<circle cx="455.06" cy="245.5" r="9.3" fill="#2b9bd0" stroke="#ffffff" stroke-width="0.35"/>
<circle cx="474.8" cy="245.5" r="10.2" fill="#1274b0" stroke="#ffffff" stroke-width="0.35"/>
<circle cx="494.54" cy="245.5" r="8.7" fill="#45a7d5" stroke="#ffffff" stroke-width="0.35"/>
<text x="255.6" y="274.4" font-size="5.4" font-weight="bold" fill="#1a1a1a" stroke="#1a1a1a" stroke-width="0.2" font-family="Liberation Sans, sans-serif">M3</text>
<circle cx="277.4" cy="272.5" r="9" fill="#1d96cd" stroke="#ffffff" stroke-width="0.35"/>
<circle cx="297.14" cy="272.5" r="10" fill="#1483c0" stroke="#ffffff" stroke-width="0.35"/>
<circle cx="316.88" cy="272.5" r="9.3" fill="#1f95cc" stroke="#ffffff" stroke-width="0.35"/>
<circle cx="376.1" cy="272.5" r="7.6" fill="#74bcdf" stroke="#ffffff" stroke-width="0.35"/>
<circle cx="395.84" cy="272.5" r="10.2" fill="#de3f35" stroke="#ffffff" stroke-width="0.35"/>
<circle cx="415.58" cy="272.5" r="7.4" fill="#f9ae94" stroke="#ffffff" stroke-width="0.35"/>
<circle cx="435.32" cy="272.5" r="9.9" fill="#e04a3b" stroke="#ffffff" stroke-width="0.35"/>
<circle cx="474.8" cy="272.5" r="9" fill="#2fa0d2" stroke="#ffffff" stroke-width="0.35"/>
<circle cx="494.54" cy="272.5" r="6.8" fill="#fab79e" stroke="#ffffff" stroke-width="0.35"/>
<text x="255.6" y="301.4" font-size="5.4" font-weight="bold" fill="#1a1a1a" stroke="#1a1a1a" stroke-width="0.2" font-family="Liberation Sans, sans-serif">M2</text>
<circle cx="297.14" cy="299.5" r="6.5" fill="#a9d4ea" stroke="#ffffff" stroke-width="0.35"/>
<circle cx="316.88" cy="299.5" r="7.9" fill="#5eb2da" stroke="#ffffff" stroke-width="0.35"/>
<circle cx="336.62" cy="299.5" r="8.2" fill="#5eb2da" stroke="#ffffff" stroke-width="0.35"/>
<circle cx="356.36" cy="299.5" r="8.7" fill="#2a9dd0" stroke="#ffffff" stroke-width="0.35"/>
<circle cx="376.1" cy="299.5" r="9.3" fill="#1b97cd" stroke="#ffffff" stroke-width="0.35"/>
<circle cx="395.84" cy="299.5" r="8.7" fill="#5fb3da" stroke="#ffffff" stroke-width="0.35"/>
<circle cx="415.58" cy="299.5" r="7.7" fill="#7cc0e0" stroke="#ffffff" stroke-width="0.35"/>
<circle cx="435.32" cy="299.5" r="9.3" fill="#1a94cc" stroke="#ffffff" stroke-width="0.35"/>
<circle cx="455.06" cy="299.5" r="10.2" fill="#e0463a" stroke="#ffffff" stroke-width="0.35"/>
<circle cx="474.8" cy="299.5" r="8.3" fill="#f7886a" stroke="#ffffff" stroke-width="0.35"/>
<circle cx="494.54" cy="299.5" r="9.6" fill="#ea5a45" stroke="#ffffff" stroke-width="0.35"/>
<text x="255.6" y="328.3" font-size="5.4" font-weight="bold" fill="#1a1a1a" stroke="#1a1a1a" stroke-width="0.2" font-family="Liberation Sans, sans-serif">M5</text>
<circle cx="277.4" cy="326.4" r="8.7" fill="#f37a5d" stroke="#ffffff" stroke-width="0.35"/>
<circle cx="297.14" cy="326.4" r="9.3" fill="#f27558" stroke="#ffffff" stroke-width="0.35"/>
<circle cx="316.88" cy="326.4" r="9" fill="#f37a5d" stroke="#ffffff" stroke-width="0.35"/>
<circle cx="395.84" cy="326.4" r="7.4" fill="#7cc0e0" stroke="#ffffff" stroke-width="0.35"/>
<circle cx="435.32" cy="326.4" r="7.4" fill="#7cc0e0" stroke="#ffffff" stroke-width="0.35"/>
<circle cx="455.06" cy="326.4" r="8.7" fill="#45a5d4" stroke="#ffffff" stroke-width="0.35"/>
<circle cx="474.8" cy="326.4" r="8.3" fill="#3fa2d2" stroke="#ffffff" stroke-width="0.35"/>
<circle cx="494.54" cy="326.4" r="7.4" fill="#6bb6dc" stroke="#ffffff" stroke-width="0.35"/>
<text x="255.6" y="355.3" font-size="5.4" font-weight="bold" fill="#1a1a1a" stroke="#1a1a1a" stroke-width="0.2" font-family="Liberation Sans, sans-serif">M1</text>
<circle cx="277.4" cy="353.4" r="7.6" fill="#f9a686" stroke="#ffffff" stroke-width="0.35"/>
<circle cx="297.14" cy="353.4" r="7.6" fill="#f7a080" stroke="#ffffff" stroke-width="0.35"/>
<circle cx="316.88" cy="353.4" r="9.8" fill="#d93a35" stroke="#ffffff" stroke-width="0.35"/>
<circle cx="336.62" cy="353.4" r="10.9" fill="#a50f27" stroke="#ffffff" stroke-width="0.35"/>
<circle cx="356.36" cy="353.4" r="10.1" fill="#cc1f33" stroke="#ffffff" stroke-width="0.35"/>
<circle cx="376.1" cy="353.4" r="10.9" fill="#c8172d" stroke="#ffffff" stroke-width="0.35"/>
<circle cx="415.58" cy="353.4" r="9" fill="#1a94cc" stroke="#ffffff" stroke-width="0.35"/>
<circle cx="435.32" cy="353.4" r="7.4" fill="#7cc0e0" stroke="#ffffff" stroke-width="0.35"/>
<circle cx="455.06" cy="353.4" r="11.4" fill="#0a3a7a" stroke="#ffffff" stroke-width="0.35"/>
<circle cx="474.8" cy="353.4" r="11.7" fill="#08306b" stroke="#ffffff" stroke-width="0.35"/>
<circle cx="494.54" cy="353.4" r="11.1" fill="#0d4f95" stroke="#ffffff" stroke-width="0.35"/>
<text x="277.4" y="231.9" font-size="3.6" font-weight="bold" text-anchor="middle" fill="#1a1a1a" stroke="#1a1a1a" stroke-width="0.24" font-family="Liberation Sans, sans-serif">TOP_1d-1</text>
<text x="297.14" y="231.9" font-size="3.6" font-weight="bold" text-anchor="middle" fill="#1a1a1a" stroke="#1a1a1a" stroke-width="0.24" font-family="Liberation Sans, sans-serif">TOP_1d-2</text>
<text x="316.88" y="231.9" font-size="3.6" font-weight="bold" text-anchor="middle" fill="#1a1a1a" stroke="#1a1a1a" stroke-width="0.24" font-family="Liberation Sans, sans-serif">TOP_1d-3</text>
<text x="336.62" y="231.9" font-size="3.6" font-weight="bold" text-anchor="middle" fill="#1a1a1a" stroke="#1a1a1a" stroke-width="0.24" font-family="Liberation Sans, sans-serif">TOP_3d-1</text>
<text x="356.36" y="231.9" font-size="3.6" font-weight="bold" text-anchor="middle" fill="#1a1a1a" stroke="#1a1a1a" stroke-width="0.24" font-family="Liberation Sans, sans-serif">TOP_3d-2</text>
<text x="376.1" y="231.9" font-size="3.6" font-weight="bold" text-anchor="middle" fill="#1a1a1a" stroke="#1a1a1a" stroke-width="0.24" font-family="Liberation Sans, sans-serif">TOP_3d-3</text>
<text x="395.84" y="231.9" font-size="3.6" font-weight="bold" text-anchor="middle" fill="#1a1a1a" stroke="#1a1a1a" stroke-width="0.24" font-family="Liberation Sans, sans-serif">TOP_5d-1</text>
<text x="415.58" y="231.9" font-size="3.6" font-weight="bold" text-anchor="middle" fill="#1a1a1a" stroke="#1a1a1a" stroke-width="0.24" font-family="Liberation Sans, sans-serif">TOP_5d-2</text>
<text x="435.32" y="231.9" font-size="3.6" font-weight="bold" text-anchor="middle" fill="#1a1a1a" stroke="#1a1a1a" stroke-width="0.24" font-family="Liberation Sans, sans-serif">TOP_5d-3</text>
<text x="455.06" y="231.9" font-size="3.6" font-weight="bold" text-anchor="middle" fill="#1a1a1a" stroke="#1a1a1a" stroke-width="0.24" font-family="Liberation Sans, sans-serif">UNTOP-1</text>
<text x="474.8" y="231.9" font-size="3.6" font-weight="bold" text-anchor="middle" fill="#1a1a1a" stroke="#1a1a1a" stroke-width="0.24" font-family="Liberation Sans, sans-serif">UNTOP-2</text>
<text x="494.54" y="231.9" font-size="3.6" font-weight="bold" text-anchor="middle" fill="#1a1a1a" stroke="#1a1a1a" stroke-width="0.24" font-family="Liberation Sans, sans-serif">UNTOP-3</text>
<text x="511.2" y="296.8" font-size="7.4" fill="#1e2a36" stroke="#1e2a36" stroke-width="0.12" font-family="Liberation Sans, sans-serif">NES</text>
<defs>
<linearGradient id="gD" x1="0" y1="0" x2="0" y2="1">
<stop offset="0" stop-color="#6a0018"/><stop offset="0.13" stop-color="#c0142a"/><stop offset="0.25" stop-color="#dc3a36"/>
<stop offset="0.37" stop-color="#f4957a"/><stop offset="0.45" stop-color="#fcdccf"/><stop offset="0.5" stop-color="#f8f8f8"/>
<stop offset="0.56" stop-color="#d0e8f4"/><stop offset="0.66" stop-color="#6cbce2"/><stop offset="0.76" stop-color="#1a90cc"/>
<stop offset="0.87" stop-color="#0a62a6"/><stop offset="1" stop-color="#082e68"/>
</linearGradient></defs>
<rect x="511.4" y="301.5" width="12.7" height="61.4" fill="url(#gD)"/>
<line x1="511.4" y1="316.8" x2="513.8" y2="316.8" stroke="#fff" stroke-width="0.5"/><line x1="521.7" y1="316.8" x2="524.1" y2="316.8" stroke="#fff" stroke-width="0.5"/>
<text x="527" y="318.9" font-size="5.7" fill="#2a3540" stroke="#2a3540" stroke-width="0.08" font-family="Liberation Sans, sans-serif">2.5</text>
<line x1="511.4" y1="332.2" x2="513.8" y2="332.2" stroke="#fff" stroke-width="0.5"/><line x1="521.7" y1="332.2" x2="524.1" y2="332.2" stroke="#fff" stroke-width="0.5"/>
<text x="527" y="334.3" font-size="5.7" fill="#2a3540" stroke="#2a3540" stroke-width="0.08" font-family="Liberation Sans, sans-serif">0.0</text>
<line x1="511.4" y1="347.6" x2="513.8" y2="347.6" stroke="#fff" stroke-width="0.5"/><line x1="521.7" y1="347.6" x2="524.1" y2="347.6" stroke="#fff" stroke-width="0.5"/>
<text x="524.2" y="349.7" font-size="5.7" fill="#2a3540" stroke="#2a3540" stroke-width="0.08" font-family="Liberation Sans, sans-serif">−2.5</text>
<rect x="9.6" y="5.1" width="536.1" height="366.5" fill="none" stroke="#6e6e6e" stroke-width="1.3"/>
</svg></body></html>
